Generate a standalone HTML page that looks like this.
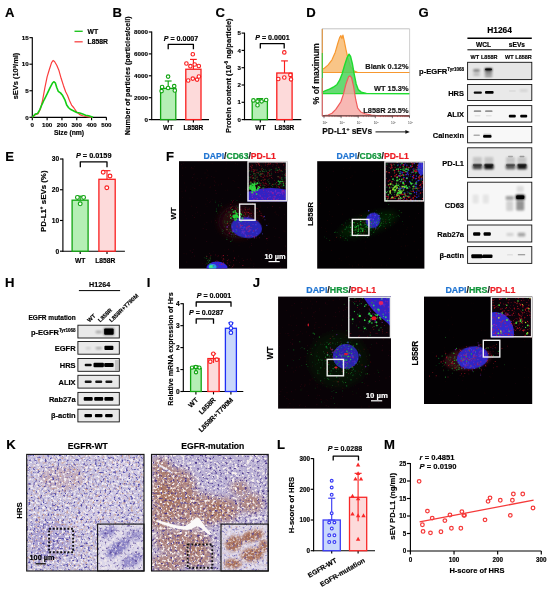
<!DOCTYPE html>
<html><head><meta charset="utf-8"><title>Figure</title>
<style>
html,body{margin:0;padding:0;background:#fff;}
svg{display:block;font-family:"Liberation Sans",sans-serif;}
text{stroke:#000;stroke-width:.16px;}
.ns,.ns tspan{stroke:none;}
</style></head><body>
<svg width="550" height="591" viewBox="0 0 550 591">
<defs>
<filter id="b0" x="-10%" y="-10%" width="120%" height="120%"><feGaussianBlur stdDeviation="0.3"/></filter>
<filter id="b1" x="-30%" y="-30%" width="160%" height="160%"><feGaussianBlur stdDeviation="0.6"/></filter>
<filter id="b2" x="-30%" y="-30%" width="160%" height="160%"><feGaussianBlur stdDeviation="1.6"/></filter>
<filter id="b3" x="-30%" y="-30%" width="160%" height="160%"><feGaussianBlur stdDeviation="3"/></filter>
<filter id="bb" x="-20%" y="-50%" width="140%" height="200%"><feGaussianBlur stdDeviation="0.55"/></filter>
<filter id="bb2" x="-20%" y="-50%" width="140%" height="200%"><feGaussianBlur stdDeviation="1.1"/></filter>
<filter id="sp1" x="0" y="0" width="100%" height="100%" color-interpolation-filters="sRGB">
 <feTurbulence type="fractalNoise" baseFrequency="0.42" numOctaves="2" seed="3" result="n"/>
 <feColorMatrix in="n" type="matrix" values="0 0 0 0 0.31  0 0 0 0 0.28  0 0 0 0 0.66  4.6 0 0 0 -2.62" result="dark"/>
 <feColorMatrix in="n" type="matrix" values="0 0 0 0 0.95  0 0 0 0 0.93  0 0 0 0 0.95  0 4.5 0 0 -2.15" result="light"/>
 <feColorMatrix in="n" type="matrix" values="0 0 0 0 0.80  0 0 0 0 0.60  0 0 0 0 0.50  0 0 3 0 -1.6" result="tan"/>
 <feMerge><feMergeNode in="tan"/><feMergeNode in="light"/><feMergeNode in="dark"/></feMerge>
</filter>
<filter id="sp2" x="0" y="0" width="100%" height="100%" color-interpolation-filters="sRGB">
 <feTurbulence type="fractalNoise" baseFrequency="0.4" numOctaves="2" seed="8" result="n"/>
 <feColorMatrix in="n" type="matrix" values="0 0 0 0 0.30  0 0 0 0 0.22  0 0 0 0 0.56  4.5 0 0 0 -2.55" result="dark"/>
 <feColorMatrix in="n" type="matrix" values="0 0 0 0 0.97  0 0 0 0 0.94  0 0 0 0 0.93  0 4.5 0 0 -2.2" result="light"/>
 <feMerge><feMergeNode in="light"/><feMergeNode in="dark"/></feMerge>
</filter>
<filter id="bk3" x="-30%" y="-30%" width="160%" height="160%"><feGaussianBlur stdDeviation="3"/></filter>
<filter id="bk" x="-30%" y="-30%" width="160%" height="160%"><feGaussianBlur stdDeviation="2.2"/></filter>
</defs>
<rect width="550" height="591" fill="#fff"/>

<g id="panelA">
<text x="5.1" y="16.9" font-size="13.1" text-anchor="start" font-weight="bold" fill="#000">A</text>
<line x1="32.30" y1="37.20" x2="32.30" y2="117.75" stroke="#000" stroke-width="1.15"/>
<line x1="31.85" y1="117.30" x2="106.40" y2="117.30" stroke="#000" stroke-width="1.15"/>
<line x1="29.40" y1="117.30" x2="32.30" y2="117.30" stroke="#000" stroke-width="1.15"/>
<text x="28.599999999999998" y="119.532" font-size="6.2" text-anchor="end" font-weight="bold" fill="#000">0</text>
<line x1="29.40" y1="90.75" x2="32.30" y2="90.75" stroke="#000" stroke-width="1.15"/>
<text x="28.599999999999998" y="92.982" font-size="6.2" text-anchor="end" font-weight="bold" fill="#000">5</text>
<line x1="29.40" y1="64.20" x2="32.30" y2="64.20" stroke="#000" stroke-width="1.15"/>
<text x="28.599999999999998" y="66.432" font-size="6.2" text-anchor="end" font-weight="bold" fill="#000">10</text>
<line x1="29.40" y1="37.65" x2="32.30" y2="37.65" stroke="#000" stroke-width="1.15"/>
<text x="28.599999999999998" y="39.882000000000005" font-size="6.2" text-anchor="end" font-weight="bold" fill="#000">15</text>
<line x1="32.30" y1="117.30" x2="32.30" y2="120.20" stroke="#000" stroke-width="1.15"/>
<text x="32.3" y="126.59" font-size="6.2" text-anchor="middle" font-weight="bold" fill="#000">0</text>
<line x1="47.12" y1="117.30" x2="47.12" y2="120.20" stroke="#000" stroke-width="1.15"/>
<text x="47.12" y="126.59" font-size="6.2" text-anchor="middle" font-weight="bold" fill="#000">100</text>
<line x1="61.94" y1="117.30" x2="61.94" y2="120.20" stroke="#000" stroke-width="1.15"/>
<text x="61.94" y="126.59" font-size="6.2" text-anchor="middle" font-weight="bold" fill="#000">200</text>
<line x1="76.76" y1="117.30" x2="76.76" y2="120.20" stroke="#000" stroke-width="1.15"/>
<text x="76.75999999999999" y="126.59" font-size="6.2" text-anchor="middle" font-weight="bold" fill="#000">300</text>
<line x1="91.58" y1="117.30" x2="91.58" y2="120.20" stroke="#000" stroke-width="1.15"/>
<text x="91.58" y="126.59" font-size="6.2" text-anchor="middle" font-weight="bold" fill="#000">400</text>
<line x1="106.40" y1="117.30" x2="106.40" y2="120.20" stroke="#000" stroke-width="1.15"/>
<text x="106.39999999999999" y="126.59" font-size="6.2" text-anchor="middle" font-weight="bold" fill="#000">500</text>
<polyline fill="none" stroke="#fb3c3c" stroke-width="1.2" stroke-linejoin="round" points="32.30,117.30 35.26,114.64 38.23,113.58 40.45,108.80 42.67,99.78 44.90,87.56 47.12,76.94 49.34,69.51 51.57,62.61 53.05,60.48 54.53,61.55 56.75,65.26 58.98,70.57 61.20,78.54 63.42,85.44 65.64,91.81 67.57,95.53 69.35,100.31 71.57,105.09 73.80,107.74 76.76,111.99 79.72,114.64 82.69,115.71 85.65,116.50 90.10,117.03 91.58,117.30"/>
<polyline fill="none" stroke="#14cc14" stroke-width="1.6" stroke-linejoin="round" points="32.30,117.30 35.26,114.11 37.49,113.58 39.71,109.87 41.93,104.56 44.16,99.78 47.12,93.94 50.08,87.56 52.31,83.32 53.79,81.72 55.27,82.78 56.75,87.56 58.23,91.28 60.46,92.87 62.68,95.53 64.90,99.78 66.68,105.09 68.61,107.74 70.83,109.60 73.80,110.93 76.76,112.52 79.72,113.05 82.69,114.11 85.65,115.18 88.62,115.71 91.58,116.77 93.06,117.30"/>
<text x="69" y="135.4" font-size="6.8" text-anchor="middle" font-weight="bold" fill="#000">Size (nm)</text>
<text x="18.4" y="76.0" font-size="7.45" font-weight="bold" text-anchor="middle" transform="rotate(-90 18.4 76.0)">sEVs (10<tspan font-size="4.4" dy="-2.6">9</tspan><tspan dy="2.6">/ml)</tspan></text>
<line x1="74.50" y1="31.30" x2="82.70" y2="31.30" stroke="#22c422" stroke-width="1.4"/>
<text x="87.5" y="33.7" font-size="6.8" text-anchor="start" font-weight="bold" fill="#000">WT</text>
<line x1="74.50" y1="41.80" x2="82.70" y2="41.80" stroke="#f85050" stroke-width="1.4"/>
<text x="87.5" y="44.2" font-size="6.8" text-anchor="start" font-weight="bold" fill="#000">L858R</text>
</g>
<g id="panelB">
<text x="112.4" y="16.8" font-size="13.1" text-anchor="start" font-weight="bold" fill="#000">B</text>
<line x1="151.70" y1="31.55" x2="151.70" y2="120.05" stroke="#000" stroke-width="1.15"/>
<line x1="151.25" y1="119.60" x2="209.00" y2="119.60" stroke="#000" stroke-width="1.15"/>
<line x1="148.80" y1="119.60" x2="151.70" y2="119.60" stroke="#000" stroke-width="1.15"/>
<text x="147.99999999999997" y="121.85" font-size="6.25" text-anchor="end" font-weight="bold" fill="#000">0</text>
<line x1="148.80" y1="97.70" x2="151.70" y2="97.70" stroke="#000" stroke-width="1.15"/>
<text x="147.99999999999997" y="99.94999999999999" font-size="6.25" text-anchor="end" font-weight="bold" fill="#000">2000</text>
<line x1="148.80" y1="75.80" x2="151.70" y2="75.80" stroke="#000" stroke-width="1.15"/>
<text x="147.99999999999997" y="78.05" font-size="6.25" text-anchor="end" font-weight="bold" fill="#000">4000</text>
<line x1="148.80" y1="53.90" x2="151.70" y2="53.90" stroke="#000" stroke-width="1.15"/>
<text x="147.99999999999997" y="56.150000000000006" font-size="6.25" text-anchor="end" font-weight="bold" fill="#000">6000</text>
<line x1="148.80" y1="32.00" x2="151.70" y2="32.00" stroke="#000" stroke-width="1.15"/>
<text x="147.99999999999997" y="34.25" font-size="6.25" text-anchor="end" font-weight="bold" fill="#000">8000</text>
<line x1="168.20" y1="119.60" x2="168.20" y2="122.50" stroke="#000" stroke-width="1.15"/>
<line x1="193.40" y1="119.60" x2="193.40" y2="122.50" stroke="#000" stroke-width="1.15"/>
<rect x="160.60" y="88.39" width="15.20" height="31.21" fill="#b5efb5" stroke="#12a512" stroke-width="1.3"/>
<rect x="185.80" y="69.23" width="15.20" height="50.37" fill="#fddada" stroke="#fa1e1e" stroke-width="1.3"/>
<line x1="168.20" y1="81.00" x2="168.20" y2="88.39" stroke="#12a512" stroke-width="1.15"/>
<line x1="164.80" y1="81.00" x2="171.60" y2="81.00" stroke="#12a512" stroke-width="1.15"/>
<line x1="193.40" y1="59.40" x2="193.40" y2="69.23" stroke="#fa1e1e" stroke-width="1.15"/>
<line x1="190.00" y1="59.40" x2="196.80" y2="59.40" stroke="#fa1e1e" stroke-width="1.15"/>
<circle cx="168.10" cy="76.60" r="1.75" fill="#fff" stroke="#12a512" stroke-width="1.15"/>
<circle cx="162.10" cy="87.00" r="1.75" fill="#fff" stroke="#12a512" stroke-width="1.15"/>
<circle cx="168.10" cy="88.00" r="1.75" fill="#fff" stroke="#12a512" stroke-width="1.15"/>
<circle cx="174.20" cy="86.10" r="1.75" fill="#fff" stroke="#12a512" stroke-width="1.15"/>
<circle cx="161.60" cy="91.10" r="1.75" fill="#fff" stroke="#12a512" stroke-width="1.15"/>
<circle cx="174.80" cy="90.50" r="1.75" fill="#fff" stroke="#12a512" stroke-width="1.15"/>
<circle cx="192.80" cy="54.20" r="1.75" fill="#fff" stroke="#fa1e1e" stroke-width="1.15"/>
<circle cx="186.40" cy="63.50" r="1.75" fill="#fff" stroke="#fa1e1e" stroke-width="1.15"/>
<circle cx="194.70" cy="64.50" r="1.75" fill="#fff" stroke="#fa1e1e" stroke-width="1.15"/>
<circle cx="190.40" cy="66.20" r="1.75" fill="#fff" stroke="#fa1e1e" stroke-width="1.15"/>
<circle cx="198.80" cy="66.00" r="1.75" fill="#fff" stroke="#fa1e1e" stroke-width="1.15"/>
<circle cx="188.20" cy="80.50" r="1.75" fill="#fff" stroke="#fa1e1e" stroke-width="1.15"/>
<circle cx="192.80" cy="78.60" r="1.75" fill="#fff" stroke="#fa1e1e" stroke-width="1.15"/>
<circle cx="197.10" cy="79.60" r="1.75" fill="#fff" stroke="#fa1e1e" stroke-width="1.15"/>
<circle cx="198.90" cy="76.50" r="1.75" fill="#fff" stroke="#fa1e1e" stroke-width="1.15"/>
<path d="M168.20 49.20 V44.40 H193.40 V49.20" fill="none" stroke="#000" stroke-width="1.3" stroke-linejoin="round"/>
<text x="181" y="41.0" font-size="7.1" text-anchor="middle" font-weight="bold"><tspan font-style="italic">P</tspan> = 0.0007</text>
<text x="168.2" y="130.0" font-size="6.6" text-anchor="middle" font-weight="bold" fill="#000">WT</text>
<text x="193.4" y="130.0" font-size="6.6" text-anchor="middle" font-weight="bold" fill="#000">L858R</text>
<text x="130.3" y="75.7" font-size="7.25" text-anchor="middle" font-weight="bold" fill="#000" transform="rotate(-90 130.3 75.7)">Number of particles (particles/cell)</text>
</g>
<g id="panelC">
<text x="215.4" y="16.8" font-size="13.1" text-anchor="start" font-weight="bold" fill="#000">C</text>
<line x1="244.50" y1="32.65" x2="244.50" y2="120.05" stroke="#000" stroke-width="1.15"/>
<line x1="244.05" y1="119.60" x2="301.30" y2="119.60" stroke="#000" stroke-width="1.15"/>
<line x1="241.60" y1="119.60" x2="244.50" y2="119.60" stroke="#000" stroke-width="1.15"/>
<text x="240.79999999999998" y="121.79599999999999" font-size="6.1" text-anchor="end" font-weight="bold" fill="#000">0</text>
<line x1="241.60" y1="102.30" x2="244.50" y2="102.30" stroke="#000" stroke-width="1.15"/>
<text x="240.79999999999998" y="104.496" font-size="6.1" text-anchor="end" font-weight="bold" fill="#000">1</text>
<line x1="241.60" y1="85.00" x2="244.50" y2="85.00" stroke="#000" stroke-width="1.15"/>
<text x="240.79999999999998" y="87.196" font-size="6.1" text-anchor="end" font-weight="bold" fill="#000">2</text>
<line x1="241.60" y1="67.70" x2="244.50" y2="67.70" stroke="#000" stroke-width="1.15"/>
<text x="240.79999999999998" y="69.89599999999999" font-size="6.1" text-anchor="end" font-weight="bold" fill="#000">3</text>
<line x1="241.60" y1="50.40" x2="244.50" y2="50.40" stroke="#000" stroke-width="1.15"/>
<text x="240.79999999999998" y="52.59599999999999" font-size="6.1" text-anchor="end" font-weight="bold" fill="#000">4</text>
<line x1="241.60" y1="33.10" x2="244.50" y2="33.10" stroke="#000" stroke-width="1.15"/>
<text x="240.79999999999998" y="35.29599999999999" font-size="6.1" text-anchor="end" font-weight="bold" fill="#000">5</text>
<line x1="260.30" y1="119.60" x2="260.30" y2="122.50" stroke="#000" stroke-width="1.15"/>
<line x1="284.50" y1="119.60" x2="284.50" y2="122.50" stroke="#000" stroke-width="1.15"/>
<rect x="252.20" y="101.20" width="15.20" height="18.40" fill="#b5efb5" stroke="#12a512" stroke-width="1.3"/>
<rect x="276.80" y="73.00" width="15.30" height="46.60" fill="#fddada" stroke="#fa1e1e" stroke-width="1.3"/>
<line x1="259.80" y1="98.60" x2="259.80" y2="101.20" stroke="#12a512" stroke-width="1.15"/>
<line x1="256.40" y1="98.60" x2="263.20" y2="98.60" stroke="#12a512" stroke-width="1.15"/>
<line x1="284.50" y1="60.90" x2="284.50" y2="73.00" stroke="#fa1e1e" stroke-width="1.15"/>
<line x1="281.10" y1="60.90" x2="287.90" y2="60.90" stroke="#fa1e1e" stroke-width="1.15"/>
<circle cx="253.40" cy="100.40" r="1.75" fill="#fff" stroke="#12a512" stroke-width="1.15"/>
<circle cx="257.50" cy="101.30" r="1.75" fill="#fff" stroke="#12a512" stroke-width="1.15"/>
<circle cx="261.60" cy="101.30" r="1.75" fill="#fff" stroke="#12a512" stroke-width="1.15"/>
<circle cx="266.20" cy="100.00" r="1.75" fill="#fff" stroke="#12a512" stroke-width="1.15"/>
<circle cx="257.50" cy="105.20" r="1.75" fill="#fff" stroke="#12a512" stroke-width="1.15"/>
<circle cx="284.30" cy="52.40" r="1.75" fill="#fff" stroke="#fa1e1e" stroke-width="1.15"/>
<circle cx="278.30" cy="79.00" r="1.75" fill="#fff" stroke="#fa1e1e" stroke-width="1.15"/>
<circle cx="284.30" cy="77.50" r="1.75" fill="#fff" stroke="#fa1e1e" stroke-width="1.15"/>
<circle cx="290.40" cy="74.90" r="1.75" fill="#fff" stroke="#fa1e1e" stroke-width="1.15"/>
<circle cx="291.00" cy="79.30" r="1.75" fill="#fff" stroke="#fa1e1e" stroke-width="1.15"/>
<path d="M260.30 48.50 V43.70 H284.20 V48.50" fill="none" stroke="#000" stroke-width="1.3" stroke-linejoin="round"/>
<text x="272.5" y="39.8" font-size="7.1" text-anchor="middle" font-weight="bold"><tspan font-style="italic">P</tspan> = 0.0001</text>
<text x="260.3" y="130.0" font-size="6.6" text-anchor="middle" font-weight="bold" fill="#000">WT</text>
<text x="284.5" y="130.0" font-size="6.6" text-anchor="middle" font-weight="bold" fill="#000">L858R</text>
<text x="230.6" y="75.7" font-size="7.5" font-weight="bold" text-anchor="middle" transform="rotate(-90 230.6 75.7)">Protein content (10<tspan font-size="4.6" dy="-2.7">-6</tspan><tspan dy="2.7"> ng/particle)</tspan></text>
</g>
<g id="panelD">
<text x="306.3" y="16.8" font-size="13.1" text-anchor="start" font-weight="bold" fill="#000">D</text>
<path d="M322.30 72.50 L322.32 69.21 L324.35 68.19 L328.17 64.89 L331.98 59.80 L335.29 52.16 L337.84 43.26 L339.62 37.66 L340.89 35.62 L341.91 38.68 L342.93 35.11 L344.20 40.71 L345.98 49.62 L348.02 58.52 L350.56 66.67 L353.61 70.74 L357.43 72.26 L409.59 72.52 L409.60 72.50 Z" fill="#f9c587" stroke="none" opacity="1.0"/>
<path d="M322.32 69.21 L324.35 68.19 L328.17 64.89 L331.98 59.80 L335.29 52.16 L337.84 43.26 L339.62 37.66 L340.89 35.62 L341.91 38.68 L342.93 35.11 L344.20 40.71 L345.98 49.62 L348.02 58.52 L350.56 66.67 L353.61 70.74 L357.43 72.26 L409.59 72.52" fill="none" stroke="#f7982f" stroke-width="1.2" stroke-linejoin="round"/>
<line x1="322.30" y1="72.50" x2="409.60" y2="72.50" stroke="#f7982f" stroke-width="1.2"/>
<path d="M322.30 93.60 L322.32 92.11 L325.62 90.59 L329.44 89.06 L333.26 87.28 L337.07 84.48 L339.62 80.15 L342.16 73.79 L344.71 64.89 L347.25 57.25 L349.03 54.20 L350.56 56.49 L352.34 63.61 L354.12 73.79 L356.16 83.97 L358.19 89.57 L361.25 92.11 L366.34 93.38 L409.59 93.64 L409.60 93.60 Z" fill="#4bd45a" stroke="none" opacity="0.85"/>
<path d="M322.32 92.11 L325.62 90.59 L329.44 89.06 L333.26 87.28 L337.07 84.48 L339.62 80.15 L342.16 73.79 L344.71 64.89 L347.25 57.25 L349.03 54.20 L350.56 56.49 L352.34 63.61 L354.12 73.79 L356.16 83.97 L358.19 89.57 L361.25 92.11 L366.34 93.38 L409.59 93.64" fill="none" stroke="#1fdc2f" stroke-width="1.45" stroke-linejoin="round"/>
<line x1="322.30" y1="93.60" x2="409.60" y2="93.60" stroke="#1fdc2f" stroke-width="1.45"/>
<path d="M322.30 115.80 L322.32 115.78 L328.17 115.01 L331.98 113.23 L335.80 109.41 L338.85 104.83 L340.89 101.78 L343.44 94.15 L345.98 83.97 L348.52 76.84 L350.05 75.83 L351.58 77.61 L353.61 86.51 L355.65 99.24 L357.68 108.14 L360.74 111.96 L365.06 113.74 L371.42 115.01 L379.06 115.78 L409.59 115.78 L409.60 115.80 Z" fill="#f6a8a4" stroke="none" opacity="0.82"/>
<path d="M322.32 115.78 L328.17 115.01 L331.98 113.23 L335.80 109.41 L338.85 104.83 L340.89 101.78 L343.44 94.15 L345.98 83.97 L348.52 76.84 L350.05 75.83 L351.58 77.61 L353.61 86.51 L355.65 99.24 L357.68 108.14 L360.74 111.96 L365.06 113.74 L371.42 115.01 L379.06 115.78 L409.59 115.78" fill="none" stroke="#f05c5c" stroke-width="1.2" stroke-linejoin="round"/>
<line x1="322.30" y1="115.80" x2="409.60" y2="115.80" stroke="#f05c5c" stroke-width="1.2"/>
<line x1="322.30" y1="28.80" x2="409.60" y2="28.80" stroke="#aaa" stroke-width="0.7"/>
<line x1="409.60" y1="28.80" x2="409.60" y2="115.80" stroke="#bbb" stroke-width="0.7"/>
<line x1="322.30" y1="28.80" x2="322.30" y2="116.20" stroke="#555" stroke-width="0.9"/>
<line x1="322.30" y1="115.80" x2="409.60" y2="115.80" stroke="#444" stroke-width="0.9"/>
<line x1="322.30" y1="29.00" x2="322.30" y2="72.50" stroke="#f5a347" stroke-width="1.0"/>
<line x1="322.30" y1="53.00" x2="322.30" y2="93.60" stroke="#2fcf3a" stroke-width="1.0"/>
<line x1="322.30" y1="78.00" x2="322.30" y2="115.80" stroke="#ee6a6a" stroke-width="1.0"/>
<text x="408.5" y="69.2" font-size="7.4" text-anchor="end" font-weight="bold" fill="#1a1a1a">Blank 0.12%</text>
<text x="408.5" y="91.4" font-size="7.4" text-anchor="end" font-weight="bold" fill="#1a1a1a">WT 15.3%</text>
<text x="408.5" y="112.6" font-size="7.4" text-anchor="end" font-weight="bold" fill="#1a1a1a">L858R 25.5%</text>
<text x="319.2" y="73.8" font-size="8.7" text-anchor="middle" font-weight="bold" fill="#111" transform="rotate(-90 319.2 73.8)">% of maximum</text>
<line x1="324.00" y1="115.80" x2="324.00" y2="118.20" stroke="#222" stroke-width="0.6"/>
<text x="322.5" y="123.8" class="ns" font-size="3.2" fill="#333" font-weight="normal">10<tspan font-size="2.3" dy="-1.3">2</tspan></text>
<line x1="329.15" y1="115.80" x2="329.15" y2="117.10" stroke="#444" stroke-width="0.35"/>
<line x1="332.16" y1="115.80" x2="332.16" y2="117.10" stroke="#444" stroke-width="0.35"/>
<line x1="334.30" y1="115.80" x2="334.30" y2="117.10" stroke="#444" stroke-width="0.35"/>
<line x1="335.95" y1="115.80" x2="335.95" y2="117.10" stroke="#444" stroke-width="0.35"/>
<line x1="337.31" y1="115.80" x2="337.31" y2="117.10" stroke="#444" stroke-width="0.35"/>
<line x1="338.45" y1="115.80" x2="338.45" y2="117.10" stroke="#444" stroke-width="0.35"/>
<line x1="339.44" y1="115.80" x2="339.44" y2="117.10" stroke="#444" stroke-width="0.35"/>
<line x1="340.32" y1="115.80" x2="340.32" y2="117.10" stroke="#444" stroke-width="0.35"/>
<line x1="341.10" y1="115.80" x2="341.10" y2="118.20" stroke="#222" stroke-width="0.6"/>
<text x="339.6" y="123.8" class="ns" font-size="3.2" fill="#333" font-weight="normal">10<tspan font-size="2.3" dy="-1.3">3</tspan></text>
<line x1="346.25" y1="115.80" x2="346.25" y2="117.10" stroke="#444" stroke-width="0.35"/>
<line x1="349.26" y1="115.80" x2="349.26" y2="117.10" stroke="#444" stroke-width="0.35"/>
<line x1="351.40" y1="115.80" x2="351.40" y2="117.10" stroke="#444" stroke-width="0.35"/>
<line x1="353.05" y1="115.80" x2="353.05" y2="117.10" stroke="#444" stroke-width="0.35"/>
<line x1="354.41" y1="115.80" x2="354.41" y2="117.10" stroke="#444" stroke-width="0.35"/>
<line x1="355.55" y1="115.80" x2="355.55" y2="117.10" stroke="#444" stroke-width="0.35"/>
<line x1="356.54" y1="115.80" x2="356.54" y2="117.10" stroke="#444" stroke-width="0.35"/>
<line x1="357.42" y1="115.80" x2="357.42" y2="117.10" stroke="#444" stroke-width="0.35"/>
<line x1="358.20" y1="115.80" x2="358.20" y2="118.20" stroke="#222" stroke-width="0.6"/>
<text x="356.7" y="123.8" class="ns" font-size="3.2" fill="#333" font-weight="normal">10<tspan font-size="2.3" dy="-1.3">4</tspan></text>
<line x1="363.35" y1="115.80" x2="363.35" y2="117.10" stroke="#444" stroke-width="0.35"/>
<line x1="366.36" y1="115.80" x2="366.36" y2="117.10" stroke="#444" stroke-width="0.35"/>
<line x1="368.50" y1="115.80" x2="368.50" y2="117.10" stroke="#444" stroke-width="0.35"/>
<line x1="370.15" y1="115.80" x2="370.15" y2="117.10" stroke="#444" stroke-width="0.35"/>
<line x1="371.51" y1="115.80" x2="371.51" y2="117.10" stroke="#444" stroke-width="0.35"/>
<line x1="372.65" y1="115.80" x2="372.65" y2="117.10" stroke="#444" stroke-width="0.35"/>
<line x1="373.64" y1="115.80" x2="373.64" y2="117.10" stroke="#444" stroke-width="0.35"/>
<line x1="374.52" y1="115.80" x2="374.52" y2="117.10" stroke="#444" stroke-width="0.35"/>
<line x1="375.30" y1="115.80" x2="375.30" y2="118.20" stroke="#222" stroke-width="0.6"/>
<text x="373.8" y="123.8" class="ns" font-size="3.2" fill="#333" font-weight="normal">10<tspan font-size="2.3" dy="-1.3">5</tspan></text>
<line x1="380.45" y1="115.80" x2="380.45" y2="117.10" stroke="#444" stroke-width="0.35"/>
<line x1="383.46" y1="115.80" x2="383.46" y2="117.10" stroke="#444" stroke-width="0.35"/>
<line x1="385.60" y1="115.80" x2="385.60" y2="117.10" stroke="#444" stroke-width="0.35"/>
<line x1="387.25" y1="115.80" x2="387.25" y2="117.10" stroke="#444" stroke-width="0.35"/>
<line x1="388.61" y1="115.80" x2="388.61" y2="117.10" stroke="#444" stroke-width="0.35"/>
<line x1="389.75" y1="115.80" x2="389.75" y2="117.10" stroke="#444" stroke-width="0.35"/>
<line x1="390.74" y1="115.80" x2="390.74" y2="117.10" stroke="#444" stroke-width="0.35"/>
<line x1="391.62" y1="115.80" x2="391.62" y2="117.10" stroke="#444" stroke-width="0.35"/>
<line x1="392.40" y1="115.80" x2="392.40" y2="118.20" stroke="#222" stroke-width="0.6"/>
<text x="390.9" y="123.8" class="ns" font-size="3.2" fill="#333" font-weight="normal">10<tspan font-size="2.3" dy="-1.3">6</tspan></text>
<line x1="397.55" y1="115.80" x2="397.55" y2="117.10" stroke="#444" stroke-width="0.35"/>
<line x1="400.56" y1="115.80" x2="400.56" y2="117.10" stroke="#444" stroke-width="0.35"/>
<line x1="402.70" y1="115.80" x2="402.70" y2="117.10" stroke="#444" stroke-width="0.35"/>
<line x1="404.35" y1="115.80" x2="404.35" y2="117.10" stroke="#444" stroke-width="0.35"/>
<line x1="405.71" y1="115.80" x2="405.71" y2="117.10" stroke="#444" stroke-width="0.35"/>
<line x1="406.85" y1="115.80" x2="406.85" y2="117.10" stroke="#444" stroke-width="0.35"/>
<line x1="407.84" y1="115.80" x2="407.84" y2="117.10" stroke="#444" stroke-width="0.35"/>
<line x1="408.72" y1="115.80" x2="408.72" y2="117.10" stroke="#444" stroke-width="0.35"/>
<line x1="409.50" y1="115.80" x2="409.50" y2="118.20" stroke="#222" stroke-width="0.6"/>
<text x="408.0" y="123.8" class="ns" font-size="3.2" fill="#333" font-weight="normal">10<tspan font-size="2.3" dy="-1.3">7</tspan></text>
<text x="322.3" y="134.3" font-size="8.35" font-weight="bold" fill="#111">PD-L1<tspan font-size="5" dy="-3.2">+</tspan><tspan dy="3.2"> sEVs</tspan></text>
<line x1="375.50" y1="131.90" x2="407.00" y2="131.90" stroke="#111" stroke-width="1.0"/>
<path d="M409.8 131.9 L405.4 130 L405.4 133.8 Z" fill="#111"/>
</g>
<g id="panelG">
<text x="418.6" y="16.8" font-size="13.1" text-anchor="start" font-weight="bold" fill="#000">G</text>
<text x="499.6" y="32.8" font-size="8.4" text-anchor="middle" font-weight="bold" fill="#000">H1264</text>
<line x1="467.40" y1="38.20" x2="531.80" y2="38.20" stroke="#000" stroke-width="1.5"/>
<text x="483.5" y="47.0" font-size="6.6" text-anchor="middle" font-weight="bold" fill="#000">WCL</text>
<text x="516.9" y="47.0" font-size="6.6" text-anchor="middle" font-weight="bold" fill="#000">sEVs</text>
<line x1="467.40" y1="49.80" x2="531.80" y2="49.80" stroke="#000" stroke-width="1.0"/>
<text x="470.6" y="58.5" font-size="5.5" text-anchor="start" font-weight="bold" fill="#000">WT</text>
<text x="481.0" y="58.5" font-size="5.5" text-anchor="start" font-weight="bold" fill="#000">L858R</text>
<text x="505" y="58.5" font-size="5.5" text-anchor="start" font-weight="bold" fill="#000">WT</text>
<text x="515.3" y="58.5" font-size="5.5" text-anchor="start" font-weight="bold" fill="#000">L858R</text>
<rect x="467.60" y="62.30" width="64.20" height="17.30" fill="#e6e6e6" stroke="#111" stroke-width="0.9"/>
<rect x="473.25" y="69.20" width="6.50" height="2.60" rx="1.00" fill="#000" opacity="0.5" filter="url(#bb2)"/>
<rect x="473.25" y="73.00" width="6.50" height="3.00" rx="1.00" fill="#000" opacity="0.18" filter="url(#bb2)"/>
<rect x="484.75" y="68.20" width="7.50" height="2.80" rx="1.00" fill="#000" opacity="1.0" filter="url(#bb2)"/>
<rect x="485.00" y="68.60" width="7.00" height="1.60" rx="0.80" fill="#000" opacity="0.8" filter="url(#bb)"/>
<rect x="484.75" y="71.40" width="7.50" height="2.40" rx="1.00" fill="#000" opacity="0.55" filter="url(#bb2)"/>
<rect x="484.75" y="74.60" width="7.50" height="2.40" rx="1.00" fill="#000" opacity="0.4" filter="url(#bb2)"/>
<text x="464" y="73.6" font-size="7.6" font-weight="bold" text-anchor="end">p-EGFR<tspan font-size="4.5" dy="-2.8">Tyr1068</tspan></text>
<rect x="467.60" y="84.50" width="64.20" height="16.00" fill="#e9e9e9" stroke="#111" stroke-width="0.9"/>
<rect x="473.70" y="91.40" width="8.20" height="2.40" rx="1.00" fill="#000" opacity="0.95" filter="url(#bb)"/>
<rect x="485.00" y="90.90" width="8.60" height="2.80" rx="1.00" fill="#000" opacity="1.0" filter="url(#bb)"/>
<rect x="508.80" y="90.20" width="7.00" height="1.60" rx="0.80" fill="#000" opacity="0.06" filter="url(#bb)"/>
<rect x="519.70" y="89.40" width="8.00" height="2.20" rx="1.00" fill="#000" opacity="0.12" filter="url(#bb2)"/>
<text x="464" y="95.6" font-size="7.5" text-anchor="end" font-weight="bold" fill="#000">HRS</text>
<rect x="467.60" y="105.60" width="64.20" height="16.50" fill="#f7f7f7" stroke="#111" stroke-width="0.9"/>
<rect x="473.75" y="110.30" width="7.50" height="1.80" rx="0.90" fill="#000" opacity="0.4" filter="url(#bb)"/>
<rect x="485.05" y="110.30" width="7.50" height="1.80" rx="0.90" fill="#000" opacity="0.4" filter="url(#bb)"/>
<rect x="474.50" y="115.05" width="6.00" height="1.50" rx="0.75" fill="#000" opacity="0.08" filter="url(#bb)"/>
<rect x="485.80" y="115.05" width="6.00" height="1.50" rx="0.75" fill="#000" opacity="0.08" filter="url(#bb)"/>
<rect x="508.80" y="114.80" width="7.00" height="2.80" rx="1.00" fill="#000" opacity="1.0" filter="url(#bb)"/>
<rect x="520.20" y="114.80" width="7.00" height="2.80" rx="1.00" fill="#000" opacity="1.0" filter="url(#bb)"/>
<text x="464" y="116.6" font-size="7.5" text-anchor="end" font-weight="bold" fill="#000">ALIX</text>
<rect x="467.60" y="126.50" width="64.20" height="16.30" fill="#f8f8f8" stroke="#111" stroke-width="0.9"/>
<rect x="473.45" y="134.60" width="6.50" height="1.40" rx="0.70" fill="#000" opacity="0.3" filter="url(#bb)"/>
<rect x="483.05" y="135.10" width="8.50" height="2.60" rx="1.00" fill="#000" opacity="1.0" filter="url(#bb)"/>
<rect x="483.30" y="133.70" width="8.00" height="1.00" rx="0.50" fill="#000" opacity="0.3" filter="url(#bb)"/>
<text x="464" y="138.1" font-size="7.5" text-anchor="end" font-weight="bold" fill="#000">Calnexin</text>
<rect x="467.60" y="147.80" width="64.20" height="29.80" fill="#e9e9e9" stroke="#111" stroke-width="0.9"/>
<rect x="472.65" y="164.30" width="9.50" height="5.00" rx="1.00" fill="#000" opacity="0.7" filter="url(#bb2)"/>
<rect x="472.90" y="163.75" width="9.00" height="2.50" rx="1.00" fill="#000" opacity="0.42" filter="url(#bb)"/>
<rect x="472.90" y="157.00" width="9.00" height="6.00" rx="1.00" fill="#000" opacity="0.15" filter="url(#bb2)"/>
<rect x="484.15" y="164.30" width="9.50" height="5.00" rx="1.00" fill="#000" opacity="0.92" filter="url(#bb2)"/>
<rect x="484.40" y="163.75" width="9.00" height="2.50" rx="1.00" fill="#000" opacity="0.552" filter="url(#bb)"/>
<rect x="484.40" y="157.00" width="9.00" height="6.00" rx="1.00" fill="#000" opacity="0.15" filter="url(#bb2)"/>
<rect x="505.75" y="164.30" width="9.50" height="5.00" rx="1.00" fill="#000" opacity="0.6" filter="url(#bb2)"/>
<rect x="506.00" y="163.75" width="9.00" height="2.50" rx="1.00" fill="#000" opacity="0.36" filter="url(#bb)"/>
<rect x="506.00" y="157.00" width="9.00" height="6.00" rx="1.00" fill="#000" opacity="0.15" filter="url(#bb2)"/>
<rect x="517.25" y="164.30" width="9.50" height="5.00" rx="1.00" fill="#000" opacity="0.9" filter="url(#bb2)"/>
<rect x="517.50" y="163.75" width="9.00" height="2.50" rx="1.00" fill="#000" opacity="0.54" filter="url(#bb)"/>
<rect x="517.50" y="157.00" width="9.00" height="6.00" rx="1.00" fill="#000" opacity="0.15" filter="url(#bb2)"/>
<rect x="508.00" y="155.85" width="5.00" height="1.30" rx="0.65" fill="#000" opacity="0.25" filter="url(#bb)"/>
<rect x="519.50" y="155.85" width="5.00" height="1.30" rx="0.65" fill="#000" opacity="0.3" filter="url(#bb)"/>
<text x="464" y="166.3" font-size="7.5" text-anchor="end" font-weight="bold" fill="#000">PD-L1</text>
<rect x="467.60" y="182.20" width="64.20" height="38.00" fill="#f7f7f7" stroke="#111" stroke-width="0.9"/>
<rect x="472.60" y="194.50" width="6.00" height="9.00" rx="1.00" fill="#000" opacity="0.07" filter="url(#bb2)"/>
<rect x="482.80" y="194.50" width="6.00" height="9.00" rx="1.00" fill="#000" opacity="0.07" filter="url(#bb2)"/>
<rect x="505.70" y="196.00" width="8.00" height="4.00" rx="1.00" fill="#000" opacity="0.35" filter="url(#bb2)"/>
<rect x="506.20" y="201.00" width="7.00" height="10.00" rx="1.00" fill="#000" opacity="0.15" filter="url(#bb2)"/>
<rect x="515.70" y="194.70" width="9.00" height="5.00" rx="1.00" fill="#000" opacity="1.0" filter="url(#bb2)"/>
<rect x="516.20" y="195.50" width="8.00" height="3.40" rx="1.00" fill="#000" opacity="1.0" filter="url(#bb)"/>
<rect x="516.20" y="200.50" width="8.00" height="10.00" rx="1.00" fill="#000" opacity="0.4" filter="url(#bb2)"/>
<rect x="516.70" y="186.00" width="7.00" height="6.00" rx="1.00" fill="#000" opacity="0.1" filter="url(#bb2)"/>
<text x="464" y="207.8" font-size="7.5" text-anchor="end" font-weight="bold" fill="#000">CD63</text>
<rect x="467.60" y="225.00" width="64.20" height="17.00" fill="#f3f3f3" stroke="#111" stroke-width="0.9"/>
<rect x="473.10" y="232.20" width="7.20" height="3.60" rx="1.00" fill="#000" opacity="1.0" filter="url(#bb)"/>
<rect x="483.60" y="232.20" width="7.20" height="3.60" rx="1.00" fill="#000" opacity="1.0" filter="url(#bb)"/>
<rect x="506.50" y="233.10" width="7.00" height="3.00" rx="1.00" fill="#000" opacity="0.14" filter="url(#bb2)"/>
<rect x="517.75" y="232.80" width="7.50" height="3.60" rx="1.00" fill="#000" opacity="0.33" filter="url(#bb2)"/>
<text x="464" y="236.9" font-size="7.5" text-anchor="end" font-weight="bold" fill="#000">Rab27a</text>
<rect x="467.60" y="246.60" width="64.20" height="16.80" fill="#f3f3f3" stroke="#111" stroke-width="0.9"/>
<rect x="471.30" y="254.30" width="11.00" height="4.00" rx="1.00" fill="#000" opacity="1.0" filter="url(#bb)"/>
<rect x="482.50" y="254.50" width="10.00" height="3.60" rx="1.00" fill="#000" opacity="1.0" filter="url(#bb)"/>
<rect x="479.00" y="255.70" width="6.00" height="2.40" rx="1.00" fill="#000" opacity="0.95" filter="url(#bb)"/>
<rect x="507.00" y="254.45" width="6.00" height="0.90" rx="0.45" fill="#000" opacity="0.15" filter="url(#bb)"/>
<rect x="517.75" y="254.15" width="7.50" height="1.10" rx="0.55" fill="#000" opacity="0.45" filter="url(#bb)"/>
<text x="464" y="257.9" font-size="7.5" text-anchor="end" font-weight="bold" fill="#000">β-actin</text>
</g>
<g id="panelE">
<text x="5.2" y="160.7" font-size="13.1" text-anchor="start" font-weight="bold" fill="#000">E</text>
<line x1="62.90" y1="158.56" x2="62.90" y2="251.65" stroke="#000" stroke-width="1.15"/>
<line x1="62.45" y1="251.20" x2="124.90" y2="251.20" stroke="#000" stroke-width="1.15"/>
<line x1="60.00" y1="251.20" x2="62.90" y2="251.20" stroke="#000" stroke-width="1.15"/>
<text x="59.2" y="253.576" font-size="6.6" text-anchor="end" font-weight="bold" fill="#000">0</text>
<line x1="60.00" y1="220.47" x2="62.90" y2="220.47" stroke="#000" stroke-width="1.15"/>
<text x="59.2" y="222.846" font-size="6.6" text-anchor="end" font-weight="bold" fill="#000">10</text>
<line x1="60.00" y1="189.74" x2="62.90" y2="189.74" stroke="#000" stroke-width="1.15"/>
<text x="59.2" y="192.11599999999999" font-size="6.6" text-anchor="end" font-weight="bold" fill="#000">20</text>
<line x1="60.00" y1="159.01" x2="62.90" y2="159.01" stroke="#000" stroke-width="1.15"/>
<text x="59.2" y="161.386" font-size="6.6" text-anchor="end" font-weight="bold" fill="#000">30</text>
<line x1="80.20" y1="251.20" x2="80.20" y2="254.10" stroke="#000" stroke-width="1.15"/>
<line x1="107.00" y1="251.20" x2="107.00" y2="254.10" stroke="#000" stroke-width="1.15"/>
<rect x="72.10" y="200.19" width="16.00" height="51.01" fill="#b5efb5" stroke="#12a512" stroke-width="1.3"/>
<rect x="98.90" y="179.29" width="16.30" height="71.91" fill="#fddada" stroke="#fa1e1e" stroke-width="1.3"/>
<line x1="80.20" y1="196.19" x2="80.20" y2="200.19" stroke="#12a512" stroke-width="1.15"/>
<line x1="76.80" y1="196.19" x2="83.60" y2="196.19" stroke="#12a512" stroke-width="1.15"/>
<line x1="107.00" y1="170.69" x2="107.00" y2="179.29" stroke="#fa1e1e" stroke-width="1.15"/>
<line x1="103.60" y1="170.69" x2="110.40" y2="170.69" stroke="#fa1e1e" stroke-width="1.15"/>
<circle cx="77.40" cy="197.40" r="1.9" fill="#fff" stroke="#12a512" stroke-width="1.15"/>
<circle cx="83.60" cy="197.40" r="1.9" fill="#fff" stroke="#12a512" stroke-width="1.15"/>
<circle cx="80.20" cy="203.80" r="1.9" fill="#fff" stroke="#12a512" stroke-width="1.15"/>
<circle cx="103.20" cy="172.20" r="1.9" fill="#fff" stroke="#fa1e1e" stroke-width="1.15"/>
<circle cx="110.00" cy="176.00" r="1.9" fill="#fff" stroke="#fa1e1e" stroke-width="1.15"/>
<circle cx="106.80" cy="187.70" r="1.9" fill="#fff" stroke="#fa1e1e" stroke-width="1.15"/>
<path d="M80.30 167.20 V161.80 H107.00 V167.20" fill="none" stroke="#000" stroke-width="1.3" stroke-linejoin="round"/>
<text x="93.7" y="157.9" font-size="7.3" text-anchor="middle" font-weight="bold"><tspan font-style="italic">P</tspan> = 0.0159</text>
<text x="80.2" y="263.0" font-size="6.7" text-anchor="middle" font-weight="bold" fill="#000">WT</text>
<text x="105.2" y="263.0" font-size="6.7" text-anchor="middle" font-weight="bold" fill="#000">L858R</text>
<text x="45.6" y="201.2" font-size="7.9" font-weight="bold" text-anchor="middle" transform="rotate(-90 45.6 201.2)">PD-L1<tspan font-size="4.6" dy="-2.8">+</tspan><tspan dy="2.8"> sEVs (%)</tspan></text>
</g>
<g id="panelF">
<text x="165.9" y="160.7" font-size="13.1" text-anchor="start" font-weight="bold" fill="#000">F</text>
<text x="239.6" y="158.9" font-size="8.6" font-weight="bold" text-anchor="middle"><tspan fill="#1f74d2" style="stroke:#1f74d2;stroke-width:.22px">DAPI</tspan><tspan fill="#111" style="stroke:#111;stroke-width:.22px">/</tspan><tspan fill="#12963c" style="stroke:#12963c;stroke-width:.22px">CD63</tspan><tspan fill="#111" style="stroke:#111;stroke-width:.22px">/</tspan><tspan fill="#ee1c24" style="stroke:#ee1c24;stroke-width:.22px">PD-L1</tspan></text>
<rect x="179.0" y="161.2" width="108.10000000000002" height="107.40000000000003" fill="#070206"/>
<clipPath id="cp1"><rect x="179.0" y="161.2" width="108.10000000000002" height="107.40000000000003"/></clipPath><g clip-path="url(#cp1)">
<g filter="url(#b0)">
<g fill="#b01030" opacity="0.32"><circle cx="214.0" cy="177.4" r="0.41"/><circle cx="186.8" cy="218.8" r="0.34"/><circle cx="185.3" cy="215.7" r="0.26"/><circle cx="225.9" cy="168.7" r="0.27"/><circle cx="224.9" cy="250.0" r="0.28"/><circle cx="203.1" cy="228.6" r="0.49"/><circle cx="241.4" cy="203.8" r="0.49"/><circle cx="184.0" cy="253.4" r="0.32"/><circle cx="194.6" cy="173.9" r="0.33"/><circle cx="267.2" cy="180.6" r="0.40"/><circle cx="248.1" cy="201.2" r="0.39"/><circle cx="185.8" cy="167.6" r="0.30"/><circle cx="252.6" cy="207.1" r="0.33"/><circle cx="242.3" cy="209.9" r="0.32"/><circle cx="264.9" cy="236.3" r="0.31"/><circle cx="241.1" cy="217.6" r="0.47"/><circle cx="257.9" cy="192.1" r="0.50"/><circle cx="191.8" cy="206.1" r="0.44"/><circle cx="195.4" cy="213.7" r="0.26"/><circle cx="251.2" cy="243.3" r="0.39"/><circle cx="273.6" cy="194.9" r="0.42"/><circle cx="243.3" cy="223.5" r="0.36"/><circle cx="269.8" cy="262.7" r="0.37"/><circle cx="250.8" cy="167.7" r="0.43"/><circle cx="249.0" cy="267.9" r="0.46"/><circle cx="209.8" cy="202.6" r="0.42"/><circle cx="181.4" cy="210.8" r="0.29"/><circle cx="191.7" cy="167.5" r="0.44"/><circle cx="193.0" cy="187.8" r="0.35"/><circle cx="273.2" cy="169.9" r="0.36"/><circle cx="238.4" cy="256.1" r="0.45"/><circle cx="272.4" cy="191.1" r="0.35"/><circle cx="217.8" cy="256.2" r="0.49"/><circle cx="195.3" cy="180.1" r="0.31"/><circle cx="204.2" cy="213.3" r="0.40"/><circle cx="207.4" cy="161.6" r="0.35"/><circle cx="218.9" cy="222.0" r="0.49"/><circle cx="253.6" cy="216.6" r="0.40"/><circle cx="252.1" cy="167.0" r="0.47"/><circle cx="263.3" cy="255.1" r="0.45"/><circle cx="221.4" cy="204.1" r="0.28"/><circle cx="247.6" cy="167.9" r="0.27"/><circle cx="201.6" cy="178.6" r="0.34"/><circle cx="184.7" cy="161.2" r="0.29"/><circle cx="190.0" cy="200.3" r="0.26"/><circle cx="273.5" cy="227.2" r="0.29"/><circle cx="206.3" cy="198.5" r="0.34"/><circle cx="192.3" cy="252.4" r="0.50"/><circle cx="229.4" cy="213.2" r="0.27"/><circle cx="190.0" cy="198.0" r="0.32"/><circle cx="268.6" cy="178.5" r="0.26"/><circle cx="281.8" cy="217.9" r="0.29"/><circle cx="237.7" cy="164.1" r="0.38"/><circle cx="284.8" cy="253.9" r="0.42"/><circle cx="207.2" cy="200.6" r="0.29"/><circle cx="262.4" cy="218.4" r="0.44"/><circle cx="214.6" cy="185.2" r="0.45"/><circle cx="285.5" cy="252.8" r="0.45"/><circle cx="267.5" cy="240.7" r="0.31"/><circle cx="235.0" cy="199.4" r="0.26"/><circle cx="182.0" cy="191.2" r="0.31"/><circle cx="253.9" cy="263.9" r="0.36"/><circle cx="280.3" cy="267.3" r="0.49"/><circle cx="218.4" cy="184.9" r="0.31"/><circle cx="200.3" cy="183.1" r="0.41"/><circle cx="276.3" cy="251.5" r="0.37"/><circle cx="249.6" cy="247.1" r="0.27"/><circle cx="250.4" cy="258.9" r="0.45"/><circle cx="260.1" cy="212.5" r="0.29"/><circle cx="264.3" cy="196.9" r="0.45"/><circle cx="284.0" cy="203.7" r="0.35"/><circle cx="281.3" cy="239.0" r="0.29"/><circle cx="192.7" cy="177.4" r="0.48"/><circle cx="266.2" cy="176.9" r="0.46"/><circle cx="285.0" cy="231.8" r="0.34"/><circle cx="238.3" cy="175.3" r="0.25"/><circle cx="284.0" cy="231.0" r="0.38"/><circle cx="279.9" cy="207.8" r="0.47"/><circle cx="268.3" cy="183.9" r="0.31"/><circle cx="210.7" cy="187.0" r="0.40"/><circle cx="207.0" cy="206.2" r="0.28"/><circle cx="277.4" cy="199.2" r="0.36"/><circle cx="242.1" cy="258.3" r="0.36"/><circle cx="278.2" cy="215.1" r="0.38"/><circle cx="235.6" cy="163.2" r="0.36"/><circle cx="198.8" cy="161.6" r="0.45"/><circle cx="197.6" cy="212.1" r="0.43"/><circle cx="239.2" cy="196.2" r="0.38"/><circle cx="239.0" cy="245.4" r="0.28"/><circle cx="239.6" cy="187.9" r="0.32"/><circle cx="262.5" cy="215.7" r="0.39"/><circle cx="261.2" cy="259.2" r="0.36"/><circle cx="245.2" cy="215.5" r="0.38"/><circle cx="253.9" cy="209.8" r="0.38"/><circle cx="230.7" cy="262.3" r="0.42"/><circle cx="273.8" cy="262.4" r="0.31"/><circle cx="239.5" cy="262.5" r="0.46"/><circle cx="193.8" cy="174.3" r="0.36"/><circle cx="186.8" cy="187.0" r="0.27"/><circle cx="251.4" cy="245.4" r="0.47"/><circle cx="195.7" cy="238.1" r="0.42"/><circle cx="194.5" cy="256.0" r="0.49"/><circle cx="202.7" cy="263.5" r="0.35"/><circle cx="231.7" cy="267.5" r="0.46"/><circle cx="196.5" cy="207.5" r="0.38"/><circle cx="215.7" cy="182.2" r="0.33"/><circle cx="257.1" cy="163.3" r="0.39"/><circle cx="226.6" cy="163.1" r="0.33"/><circle cx="246.4" cy="216.2" r="0.27"/><circle cx="285.5" cy="245.9" r="0.49"/><circle cx="190.3" cy="189.7" r="0.26"/><circle cx="263.2" cy="190.2" r="0.28"/><circle cx="224.6" cy="259.1" r="0.45"/><circle cx="207.0" cy="177.2" r="0.48"/><circle cx="240.7" cy="236.4" r="0.27"/><circle cx="185.2" cy="235.1" r="0.36"/><circle cx="186.8" cy="262.0" r="0.41"/><circle cx="265.7" cy="170.2" r="0.46"/><circle cx="186.2" cy="253.9" r="0.36"/><circle cx="215.7" cy="220.6" r="0.48"/><circle cx="208.0" cy="175.1" r="0.38"/><circle cx="204.8" cy="173.0" r="0.29"/><circle cx="184.4" cy="182.9" r="0.33"/><circle cx="212.0" cy="242.8" r="0.32"/><circle cx="233.1" cy="180.3" r="0.34"/><circle cx="181.0" cy="188.1" r="0.25"/><circle cx="258.2" cy="220.4" r="0.30"/><circle cx="230.3" cy="261.6" r="0.28"/><circle cx="267.5" cy="207.6" r="0.37"/><circle cx="269.2" cy="203.4" r="0.38"/><circle cx="253.3" cy="266.7" r="0.34"/><circle cx="269.0" cy="237.1" r="0.41"/><circle cx="222.7" cy="198.5" r="0.26"/><circle cx="193.0" cy="168.8" r="0.44"/><circle cx="206.6" cy="178.7" r="0.27"/><circle cx="269.9" cy="254.7" r="0.42"/><circle cx="209.5" cy="187.2" r="0.32"/><circle cx="228.7" cy="178.1" r="0.36"/><circle cx="207.5" cy="264.5" r="0.49"/><circle cx="238.1" cy="187.5" r="0.49"/><circle cx="212.5" cy="199.5" r="0.25"/><circle cx="220.3" cy="212.2" r="0.38"/><circle cx="200.7" cy="215.4" r="0.25"/><circle cx="207.6" cy="170.8" r="0.35"/><circle cx="183.5" cy="163.6" r="0.33"/><circle cx="204.2" cy="224.1" r="0.38"/><circle cx="260.1" cy="231.8" r="0.43"/><circle cx="274.0" cy="203.0" r="0.33"/><circle cx="285.4" cy="177.3" r="0.43"/><circle cx="248.5" cy="165.9" r="0.46"/><circle cx="275.4" cy="228.6" r="0.43"/><circle cx="266.8" cy="176.2" r="0.38"/><circle cx="233.5" cy="250.9" r="0.45"/><circle cx="268.3" cy="223.9" r="0.47"/><circle cx="252.8" cy="235.7" r="0.31"/><circle cx="182.4" cy="175.5" r="0.34"/><circle cx="190.3" cy="251.0" r="0.39"/><circle cx="246.9" cy="228.5" r="0.42"/><circle cx="231.9" cy="161.6" r="0.45"/><circle cx="259.9" cy="215.2" r="0.38"/><circle cx="250.3" cy="168.3" r="0.43"/><circle cx="206.3" cy="169.2" r="0.32"/><circle cx="257.8" cy="183.2" r="0.43"/><circle cx="284.5" cy="214.3" r="0.35"/><circle cx="230.8" cy="234.6" r="0.44"/><circle cx="245.7" cy="230.2" r="0.27"/><circle cx="194.9" cy="188.5" r="0.44"/><circle cx="211.9" cy="222.2" r="0.25"/><circle cx="185.6" cy="190.1" r="0.42"/><circle cx="253.8" cy="233.8" r="0.32"/><circle cx="234.8" cy="211.1" r="0.37"/><circle cx="191.8" cy="257.2" r="0.30"/><circle cx="284.7" cy="261.8" r="0.25"/><circle cx="228.6" cy="249.3" r="0.49"/><circle cx="227.6" cy="190.1" r="0.30"/><circle cx="281.2" cy="183.8" r="0.40"/><circle cx="194.3" cy="217.5" r="0.49"/><circle cx="193.3" cy="249.3" r="0.38"/><circle cx="274.9" cy="236.7" r="0.31"/><circle cx="276.0" cy="213.4" r="0.26"/><circle cx="179.4" cy="214.0" r="0.36"/><circle cx="211.6" cy="176.3" r="0.34"/><circle cx="213.2" cy="251.4" r="0.25"/><circle cx="260.2" cy="251.3" r="0.28"/><circle cx="279.1" cy="237.8" r="0.48"/><circle cx="210.3" cy="201.2" r="0.35"/><circle cx="287.0" cy="224.5" r="0.34"/><circle cx="225.3" cy="190.8" r="0.26"/><circle cx="190.0" cy="250.8" r="0.32"/><circle cx="280.1" cy="188.0" r="0.32"/><circle cx="234.2" cy="181.6" r="0.34"/><circle cx="282.4" cy="256.2" r="0.45"/><circle cx="247.2" cy="259.3" r="0.49"/><circle cx="238.4" cy="238.5" r="0.26"/><circle cx="258.2" cy="209.6" r="0.44"/><circle cx="248.7" cy="191.9" r="0.26"/><circle cx="279.2" cy="174.9" r="0.37"/><circle cx="216.1" cy="193.2" r="0.43"/><circle cx="284.5" cy="189.1" r="0.41"/><circle cx="211.5" cy="221.1" r="0.35"/><circle cx="197.1" cy="178.6" r="0.30"/><circle cx="276.9" cy="214.6" r="0.31"/><circle cx="277.0" cy="268.2" r="0.36"/><circle cx="194.1" cy="181.9" r="0.27"/><circle cx="216.0" cy="171.0" r="0.31"/><circle cx="206.9" cy="222.4" r="0.47"/><circle cx="260.0" cy="205.5" r="0.35"/><circle cx="235.7" cy="201.7" r="0.33"/><circle cx="185.7" cy="191.0" r="0.49"/><circle cx="192.6" cy="215.3" r="0.41"/><circle cx="272.3" cy="184.4" r="0.32"/><circle cx="205.9" cy="204.1" r="0.36"/><circle cx="282.1" cy="252.3" r="0.47"/><circle cx="181.4" cy="164.7" r="0.43"/><circle cx="275.8" cy="212.0" r="0.40"/><circle cx="179.0" cy="203.2" r="0.48"/><circle cx="268.2" cy="253.1" r="0.49"/><circle cx="205.9" cy="172.9" r="0.29"/><circle cx="235.5" cy="234.5" r="0.49"/><circle cx="257.0" cy="230.7" r="0.44"/><circle cx="228.4" cy="220.4" r="0.26"/><circle cx="263.6" cy="186.2" r="0.48"/><circle cx="248.8" cy="193.8" r="0.28"/><circle cx="206.2" cy="229.5" r="0.42"/><circle cx="191.1" cy="168.8" r="0.38"/><circle cx="242.0" cy="202.9" r="0.31"/><circle cx="244.0" cy="162.3" r="0.33"/><circle cx="228.8" cy="264.2" r="0.41"/><circle cx="274.5" cy="212.2" r="0.31"/><circle cx="205.7" cy="264.4" r="0.43"/><circle cx="212.2" cy="163.5" r="0.37"/><circle cx="251.9" cy="206.3" r="0.31"/><circle cx="251.1" cy="260.6" r="0.31"/><circle cx="182.7" cy="197.5" r="0.36"/><circle cx="252.8" cy="182.5" r="0.45"/><circle cx="258.9" cy="215.4" r="0.30"/><circle cx="283.8" cy="194.7" r="0.46"/><circle cx="204.0" cy="185.0" r="0.44"/><circle cx="210.9" cy="263.4" r="0.37"/><circle cx="199.2" cy="185.2" r="0.35"/><circle cx="250.9" cy="263.1" r="0.29"/><circle cx="221.5" cy="184.1" r="0.49"/><circle cx="194.3" cy="166.8" r="0.27"/><circle cx="221.5" cy="257.7" r="0.47"/><circle cx="258.2" cy="268.3" r="0.48"/><circle cx="214.6" cy="181.1" r="0.48"/><circle cx="259.7" cy="164.6" r="0.42"/><circle cx="219.9" cy="201.4" r="0.33"/><circle cx="197.3" cy="161.5" r="0.32"/><circle cx="217.0" cy="263.8" r="0.28"/><circle cx="283.2" cy="183.5" r="0.34"/><circle cx="267.8" cy="249.5" r="0.36"/><circle cx="184.3" cy="212.1" r="0.34"/><circle cx="278.4" cy="181.9" r="0.34"/><circle cx="276.0" cy="164.5" r="0.35"/><circle cx="266.8" cy="243.5" r="0.26"/><circle cx="182.8" cy="167.9" r="0.48"/><circle cx="206.8" cy="241.5" r="0.47"/><circle cx="215.7" cy="190.4" r="0.49"/><circle cx="245.7" cy="189.4" r="0.43"/></g>
<ellipse cx="238" cy="222" rx="20" ry="17" fill="#400818" opacity="0.55" filter="url(#b3)"/>
<ellipse cx="246.5" cy="227.6" rx="15.5" ry="10.4" fill="#2c25b8" filter="url(#b1)" transform="rotate(8 246.5 227.6)"/>
<g fill="#7a2cc0" opacity="0.6"><circle cx="243.5" cy="231.0" r="0.40"/><circle cx="248.7" cy="216.2" r="0.72"/><circle cx="248.1" cy="227.4" r="0.52"/><circle cx="227.2" cy="226.9" r="0.88"/><circle cx="241.7" cy="229.5" r="0.61"/><circle cx="228.8" cy="225.6" r="0.49"/><circle cx="251.7" cy="220.2" r="0.81"/><circle cx="249.0" cy="220.8" r="0.56"/><circle cx="242.8" cy="231.6" r="0.79"/><circle cx="250.7" cy="229.9" r="0.78"/><circle cx="246.3" cy="229.5" r="0.42"/><circle cx="240.3" cy="225.2" r="0.89"/><circle cx="264.9" cy="219.8" r="0.53"/><circle cx="249.3" cy="229.2" r="0.65"/><circle cx="245.2" cy="221.9" r="0.52"/><circle cx="236.7" cy="229.9" r="0.74"/><circle cx="247.7" cy="217.6" r="0.73"/><circle cx="256.2" cy="235.9" r="0.55"/><circle cx="240.0" cy="224.6" r="0.77"/><circle cx="247.8" cy="231.5" r="0.52"/><circle cx="254.4" cy="237.7" r="0.69"/><circle cx="242.3" cy="231.7" r="0.90"/><circle cx="241.0" cy="226.6" r="0.80"/><circle cx="234.9" cy="212.7" r="0.45"/><circle cx="232.3" cy="227.1" r="0.82"/><circle cx="248.5" cy="227.1" r="0.55"/><circle cx="249.8" cy="230.4" r="0.89"/><circle cx="232.0" cy="219.5" r="0.59"/><circle cx="252.7" cy="224.2" r="0.53"/><circle cx="251.4" cy="215.8" r="0.45"/><circle cx="238.3" cy="222.3" r="0.51"/><circle cx="243.3" cy="229.3" r="0.50"/><circle cx="245.2" cy="234.5" r="0.73"/><circle cx="246.7" cy="228.4" r="0.56"/><circle cx="244.8" cy="224.3" r="0.56"/><circle cx="249.2" cy="236.9" r="0.67"/><circle cx="249.6" cy="229.0" r="0.60"/><circle cx="236.4" cy="223.9" r="0.45"/><circle cx="251.7" cy="235.3" r="0.60"/><circle cx="244.5" cy="231.7" r="0.88"/><circle cx="241.8" cy="233.2" r="0.58"/><circle cx="232.5" cy="230.9" r="0.90"/><circle cx="242.8" cy="229.7" r="0.76"/><circle cx="246.7" cy="228.2" r="0.85"/><circle cx="233.3" cy="230.2" r="0.60"/><circle cx="253.4" cy="224.6" r="0.48"/><circle cx="256.1" cy="229.6" r="0.72"/><circle cx="249.5" cy="226.8" r="0.71"/><circle cx="239.6" cy="231.1" r="0.47"/><circle cx="243.7" cy="233.4" r="0.86"/></g>
<g fill="#4a48f0" opacity="0.6"><circle cx="252.9" cy="232.3" r="0.80"/><circle cx="251.6" cy="227.6" r="0.46"/><circle cx="266.8" cy="225.4" r="0.64"/><circle cx="262.5" cy="233.8" r="0.59"/><circle cx="255.9" cy="224.8" r="0.81"/><circle cx="252.6" cy="236.3" r="0.51"/><circle cx="233.5" cy="231.5" r="0.81"/><circle cx="248.2" cy="231.2" r="0.60"/><circle cx="239.1" cy="226.0" r="0.46"/><circle cx="245.6" cy="235.9" r="0.85"/><circle cx="255.8" cy="230.6" r="0.78"/><circle cx="260.4" cy="231.9" r="0.46"/><circle cx="239.2" cy="222.7" r="0.71"/><circle cx="243.0" cy="232.3" r="0.69"/><circle cx="236.0" cy="229.6" r="0.62"/><circle cx="244.9" cy="227.8" r="0.71"/><circle cx="240.9" cy="227.1" r="0.78"/><circle cx="248.9" cy="222.2" r="0.49"/><circle cx="242.8" cy="227.5" r="0.46"/><circle cx="243.3" cy="228.1" r="0.62"/><circle cx="244.3" cy="227.2" r="0.72"/><circle cx="256.8" cy="233.3" r="0.79"/><circle cx="244.0" cy="227.1" r="0.65"/><circle cx="231.7" cy="234.5" r="0.47"/><circle cx="264.3" cy="216.4" r="0.77"/></g>
<g fill="#d01850" opacity="0.75"><circle cx="249.1" cy="226.0" r="0.69"/><circle cx="227.0" cy="229.6" r="0.67"/><circle cx="254.2" cy="236.6" r="0.67"/><circle cx="253.8" cy="230.9" r="0.60"/><circle cx="256.2" cy="237.9" r="0.41"/><circle cx="248.8" cy="226.4" r="0.50"/><circle cx="251.8" cy="227.4" r="0.41"/><circle cx="240.0" cy="228.8" r="0.31"/><circle cx="249.0" cy="231.7" r="0.67"/><circle cx="239.7" cy="219.4" r="0.37"/><circle cx="247.9" cy="226.6" r="0.51"/><circle cx="242.1" cy="225.4" r="0.65"/><circle cx="237.1" cy="226.8" r="0.65"/><circle cx="266.9" cy="238.6" r="0.55"/><circle cx="235.7" cy="234.5" r="0.41"/><circle cx="257.5" cy="228.6" r="0.44"/><circle cx="247.8" cy="223.6" r="0.37"/><circle cx="246.9" cy="227.4" r="0.63"/><circle cx="246.7" cy="236.1" r="0.69"/><circle cx="236.9" cy="225.2" r="0.43"/><circle cx="249.1" cy="229.0" r="0.36"/><circle cx="240.7" cy="225.5" r="0.51"/><circle cx="250.4" cy="227.4" r="0.39"/><circle cx="246.0" cy="228.1" r="0.30"/><circle cx="244.7" cy="230.9" r="0.44"/><circle cx="248.7" cy="235.5" r="0.54"/><circle cx="250.2" cy="235.7" r="0.49"/><circle cx="259.4" cy="237.8" r="0.40"/><circle cx="249.1" cy="230.8" r="0.56"/><circle cx="256.6" cy="222.7" r="0.46"/><circle cx="246.9" cy="229.8" r="0.56"/><circle cx="240.1" cy="227.2" r="0.56"/><circle cx="229.3" cy="233.1" r="0.59"/><circle cx="247.2" cy="239.8" r="0.32"/><circle cx="239.0" cy="228.0" r="0.40"/></g>
<g fill="#20d838" opacity="0.95"><circle cx="241.0" cy="219.2" r="0.41"/><circle cx="229.0" cy="211.9" r="0.49"/><circle cx="236.5" cy="219.5" r="0.70"/><circle cx="233.2" cy="211.4" r="0.50"/><circle cx="234.4" cy="217.6" r="0.43"/><circle cx="241.3" cy="214.7" r="0.83"/><circle cx="242.4" cy="218.2" r="0.85"/><circle cx="230.4" cy="215.2" r="0.67"/><circle cx="235.9" cy="217.2" r="0.54"/><circle cx="238.8" cy="217.4" r="0.85"/><circle cx="235.2" cy="211.0" r="0.83"/><circle cx="234.6" cy="218.9" r="0.66"/><circle cx="237.8" cy="213.5" r="0.56"/><circle cx="232.1" cy="209.5" r="0.53"/><circle cx="236.5" cy="215.8" r="0.56"/><circle cx="235.3" cy="220.1" r="0.97"/><circle cx="236.6" cy="213.9" r="0.93"/><circle cx="234.3" cy="217.2" r="0.94"/><circle cx="233.3" cy="212.2" r="0.80"/><circle cx="239.8" cy="216.8" r="0.90"/><circle cx="235.2" cy="210.9" r="0.66"/><circle cx="236.3" cy="212.7" r="0.58"/><circle cx="236.1" cy="219.6" r="0.45"/><circle cx="237.8" cy="215.8" r="0.42"/><circle cx="241.0" cy="221.3" r="0.61"/><circle cx="236.4" cy="216.6" r="0.42"/><circle cx="235.3" cy="212.3" r="0.82"/><circle cx="236.2" cy="215.1" r="0.75"/><circle cx="230.9" cy="218.1" r="0.89"/><circle cx="237.1" cy="215.7" r="0.92"/><circle cx="243.8" cy="215.2" r="0.46"/><circle cx="236.1" cy="217.3" r="0.42"/><circle cx="240.6" cy="213.5" r="0.78"/><circle cx="239.1" cy="213.7" r="0.57"/><circle cx="237.0" cy="217.0" r="0.85"/><circle cx="236.2" cy="218.3" r="0.65"/><circle cx="238.5" cy="217.0" r="0.57"/><circle cx="236.0" cy="213.6" r="0.59"/><circle cx="240.1" cy="216.6" r="0.91"/><circle cx="235.5" cy="215.4" r="0.65"/></g>
<ellipse cx="235.3" cy="216.3" rx="3.0" ry="2.0" fill="#28dc40" opacity="0.9" filter="url(#b1)"/>
<g fill="#18a030" opacity="0.75"><circle cx="222.2" cy="229.3" r="0.35"/><circle cx="233.6" cy="210.7" r="0.31"/><circle cx="235.4" cy="220.8" r="0.50"/><circle cx="233.0" cy="224.5" r="0.31"/><circle cx="240.3" cy="194.6" r="0.25"/><circle cx="226.0" cy="223.3" r="0.49"/><circle cx="233.4" cy="236.1" r="0.35"/><circle cx="236.7" cy="217.2" r="0.53"/><circle cx="230.7" cy="231.2" r="0.46"/><circle cx="230.2" cy="223.5" r="0.44"/><circle cx="240.2" cy="235.1" r="0.46"/><circle cx="237.9" cy="209.6" r="0.36"/><circle cx="226.9" cy="229.3" r="0.52"/><circle cx="241.2" cy="237.8" r="0.26"/><circle cx="232.6" cy="232.4" r="0.52"/><circle cx="227.3" cy="222.8" r="0.52"/><circle cx="231.3" cy="236.1" r="0.41"/><circle cx="236.9" cy="206.0" r="0.44"/><circle cx="228.4" cy="231.2" r="0.30"/><circle cx="240.5" cy="211.7" r="0.47"/><circle cx="234.0" cy="234.8" r="0.48"/><circle cx="230.9" cy="220.8" r="0.39"/><circle cx="237.3" cy="219.4" r="0.31"/><circle cx="226.9" cy="239.3" r="0.50"/><circle cx="233.9" cy="229.6" r="0.32"/><circle cx="227.3" cy="234.9" r="0.30"/><circle cx="230.0" cy="229.8" r="0.54"/><circle cx="233.6" cy="219.0" r="0.54"/><circle cx="236.4" cy="231.3" r="0.55"/><circle cx="239.1" cy="207.7" r="0.38"/><circle cx="232.8" cy="239.1" r="0.28"/><circle cx="232.5" cy="234.6" r="0.26"/><circle cx="222.3" cy="233.6" r="0.46"/><circle cx="224.7" cy="222.3" r="0.39"/><circle cx="235.7" cy="236.4" r="0.37"/><circle cx="237.0" cy="200.3" r="0.38"/><circle cx="225.9" cy="214.2" r="0.38"/><circle cx="230.8" cy="241.4" r="0.51"/><circle cx="237.7" cy="207.7" r="0.51"/><circle cx="232.2" cy="209.3" r="0.39"/><circle cx="227.0" cy="237.3" r="0.28"/><circle cx="222.2" cy="231.3" r="0.46"/><circle cx="231.1" cy="217.4" r="0.38"/><circle cx="224.3" cy="226.6" r="0.37"/><circle cx="231.4" cy="200.6" r="0.30"/><circle cx="230.4" cy="207.4" r="0.37"/><circle cx="216.7" cy="222.6" r="0.26"/><circle cx="230.0" cy="221.6" r="0.48"/><circle cx="240.6" cy="220.6" r="0.28"/><circle cx="227.7" cy="216.6" r="0.47"/><circle cx="224.9" cy="221.1" r="0.50"/><circle cx="227.3" cy="221.3" r="0.53"/><circle cx="232.0" cy="240.3" r="0.37"/><circle cx="234.4" cy="218.6" r="0.55"/><circle cx="231.2" cy="226.7" r="0.33"/><circle cx="232.0" cy="224.9" r="0.38"/><circle cx="223.4" cy="230.4" r="0.36"/><circle cx="231.1" cy="231.6" r="0.47"/><circle cx="240.7" cy="220.5" r="0.32"/><circle cx="236.9" cy="214.2" r="0.31"/></g>
<g fill="#d81828" opacity="0.7"><circle cx="257.1" cy="220.5" r="0.49"/><circle cx="235.8" cy="208.0" r="0.42"/><circle cx="248.3" cy="228.3" r="0.36"/><circle cx="230.9" cy="204.5" r="0.49"/><circle cx="235.0" cy="214.0" r="0.41"/><circle cx="258.7" cy="221.0" r="0.36"/><circle cx="249.1" cy="209.2" r="0.36"/><circle cx="243.7" cy="219.3" r="0.31"/><circle cx="261.6" cy="213.2" r="0.33"/><circle cx="244.3" cy="218.1" r="0.39"/><circle cx="229.9" cy="216.7" r="0.45"/><circle cx="227.6" cy="223.5" r="0.51"/><circle cx="263.3" cy="216.9" r="0.52"/><circle cx="245.3" cy="209.8" r="0.50"/><circle cx="242.7" cy="212.2" r="0.25"/><circle cx="259.3" cy="210.4" r="0.33"/><circle cx="248.9" cy="215.0" r="0.32"/><circle cx="245.7" cy="207.5" r="0.30"/><circle cx="260.1" cy="207.0" r="0.30"/><circle cx="255.7" cy="207.8" r="0.48"/><circle cx="232.6" cy="201.9" r="0.49"/><circle cx="247.9" cy="209.6" r="0.46"/><circle cx="226.2" cy="211.1" r="0.38"/><circle cx="254.4" cy="207.9" r="0.33"/><circle cx="244.6" cy="216.3" r="0.40"/><circle cx="255.5" cy="215.4" r="0.29"/><circle cx="231.1" cy="213.4" r="0.41"/><circle cx="244.8" cy="212.5" r="0.50"/><circle cx="230.1" cy="214.5" r="0.45"/><circle cx="249.7" cy="208.1" r="0.38"/><circle cx="248.2" cy="212.4" r="0.44"/><circle cx="242.3" cy="211.9" r="0.43"/><circle cx="233.5" cy="200.3" r="0.35"/><circle cx="257.1" cy="212.2" r="0.40"/><circle cx="246.3" cy="212.1" r="0.47"/><circle cx="236.9" cy="209.1" r="0.51"/><circle cx="235.7" cy="218.1" r="0.41"/><circle cx="245.0" cy="208.9" r="0.38"/><circle cx="231.7" cy="216.6" r="0.50"/><circle cx="238.5" cy="223.8" r="0.37"/><circle cx="235.2" cy="212.9" r="0.40"/><circle cx="259.8" cy="211.6" r="0.49"/><circle cx="239.3" cy="217.6" r="0.34"/><circle cx="230.6" cy="208.6" r="0.49"/><circle cx="261.1" cy="215.4" r="0.52"/><circle cx="240.6" cy="212.5" r="0.34"/><circle cx="251.1" cy="213.2" r="0.53"/><circle cx="231.5" cy="207.5" r="0.49"/><circle cx="256.8" cy="208.6" r="0.44"/><circle cx="232.1" cy="206.4" r="0.43"/><circle cx="240.8" cy="209.2" r="0.45"/><circle cx="226.0" cy="215.7" r="0.28"/><circle cx="245.3" cy="214.5" r="0.48"/><circle cx="257.8" cy="208.5" r="0.36"/><circle cx="252.5" cy="203.5" r="0.42"/><circle cx="243.5" cy="218.1" r="0.38"/><circle cx="239.1" cy="218.8" r="0.44"/><circle cx="247.4" cy="212.2" r="0.42"/><circle cx="249.4" cy="213.7" r="0.49"/><circle cx="222.1" cy="206.9" r="0.38"/><circle cx="254.8" cy="213.5" r="0.43"/><circle cx="272.6" cy="206.6" r="0.39"/><circle cx="239.6" cy="214.5" r="0.44"/><circle cx="245.5" cy="216.3" r="0.25"/><circle cx="260.7" cy="213.3" r="0.29"/><circle cx="248.6" cy="212.5" r="0.51"/><circle cx="245.4" cy="213.8" r="0.47"/><circle cx="244.9" cy="222.7" r="0.31"/><circle cx="262.0" cy="216.2" r="0.46"/><circle cx="254.9" cy="205.3" r="0.28"/></g>
<g fill="#18b030" opacity="0.8"><circle cx="215.7" cy="202.5" r="0.37"/><circle cx="221.1" cy="205.7" r="0.49"/><circle cx="218.9" cy="206.4" r="0.25"/><circle cx="215.8" cy="201.0" r="0.27"/><circle cx="217.2" cy="213.0" r="0.29"/><circle cx="221.2" cy="203.5" r="0.26"/><circle cx="216.4" cy="210.9" r="0.36"/><circle cx="218.3" cy="205.0" r="0.45"/><circle cx="216.2" cy="211.4" r="0.41"/><circle cx="216.4" cy="208.9" r="0.45"/></g>
<ellipse cx="217" cy="268" rx="10.5" ry="6.5" fill="#3028d8" filter="url(#b1)"/>
<ellipse cx="212.5" cy="267" rx="4" ry="3" fill="#28a0e8" filter="url(#b1)"/>
<ellipse cx="211" cy="266.5" rx="2" ry="1.6" fill="#40f080" filter="url(#b1)"/>
<g fill="#d81838" opacity="0.75"><circle cx="233.5" cy="260.6" r="0.42"/><circle cx="221.3" cy="264.4" r="0.54"/><circle cx="218.2" cy="255.8" r="0.35"/><circle cx="206.8" cy="256.2" r="0.50"/><circle cx="217.2" cy="261.0" r="0.38"/><circle cx="227.2" cy="260.5" r="0.46"/><circle cx="210.0" cy="257.9" r="0.49"/><circle cx="221.9" cy="263.2" r="0.33"/><circle cx="213.8" cy="265.5" r="0.49"/><circle cx="223.6" cy="262.2" r="0.50"/><circle cx="227.3" cy="255.6" r="0.42"/><circle cx="220.0" cy="270.7" r="0.49"/><circle cx="215.8" cy="254.9" r="0.35"/><circle cx="229.7" cy="265.6" r="0.49"/><circle cx="225.6" cy="269.3" r="0.53"/><circle cx="223.0" cy="268.4" r="0.45"/><circle cx="217.4" cy="263.6" r="0.33"/><circle cx="222.1" cy="255.9" r="0.39"/><circle cx="232.8" cy="266.8" r="0.48"/><circle cx="223.0" cy="268.2" r="0.52"/><circle cx="228.4" cy="259.8" r="0.39"/><circle cx="218.2" cy="261.6" r="0.31"/><circle cx="226.6" cy="268.6" r="0.36"/><circle cx="215.5" cy="261.4" r="0.41"/><circle cx="223.3" cy="264.0" r="0.55"/><circle cx="219.7" cy="264.3" r="0.44"/><circle cx="222.9" cy="260.7" r="0.43"/><circle cx="217.2" cy="267.0" r="0.26"/><circle cx="242.9" cy="265.6" r="0.51"/><circle cx="213.0" cy="263.4" r="0.33"/><circle cx="223.3" cy="258.9" r="0.53"/><circle cx="223.4" cy="255.6" r="0.54"/><circle cx="222.0" cy="264.1" r="0.31"/><circle cx="223.2" cy="264.5" r="0.27"/><circle cx="208.8" cy="260.1" r="0.39"/><circle cx="236.5" cy="260.1" r="0.27"/><circle cx="216.3" cy="260.7" r="0.29"/><circle cx="227.2" cy="262.2" r="0.42"/><circle cx="210.9" cy="255.3" r="0.45"/><circle cx="216.0" cy="265.7" r="0.30"/><circle cx="243.2" cy="260.4" r="0.32"/><circle cx="227.2" cy="263.7" r="0.36"/><circle cx="234.4" cy="258.0" r="0.50"/><circle cx="233.8" cy="265.0" r="0.46"/><circle cx="209.7" cy="253.7" r="0.27"/></g>
<g fill="#18b030" opacity="0.75"><circle cx="213.1" cy="266.3" r="0.53"/><circle cx="206.1" cy="258.0" r="0.43"/><circle cx="208.1" cy="259.1" r="0.35"/><circle cx="207.9" cy="263.1" r="0.39"/><circle cx="209.8" cy="263.6" r="0.29"/><circle cx="207.7" cy="260.4" r="0.47"/><circle cx="208.5" cy="262.0" r="0.53"/><circle cx="210.1" cy="270.2" r="0.51"/><circle cx="210.1" cy="259.6" r="0.38"/><circle cx="217.4" cy="266.3" r="0.50"/><circle cx="204.2" cy="257.8" r="0.35"/><circle cx="210.5" cy="256.9" r="0.44"/><circle cx="210.2" cy="263.2" r="0.27"/><circle cx="206.6" cy="256.1" r="0.29"/><circle cx="210.7" cy="258.7" r="0.37"/><circle cx="210.2" cy="263.6" r="0.50"/><circle cx="206.5" cy="263.1" r="0.40"/><circle cx="203.5" cy="268.9" r="0.28"/><circle cx="209.7" cy="260.8" r="0.52"/><circle cx="206.3" cy="258.6" r="0.39"/><circle cx="207.1" cy="264.0" r="0.31"/><circle cx="197.9" cy="270.2" r="0.55"/><circle cx="210.0" cy="260.2" r="0.34"/><circle cx="209.4" cy="260.2" r="0.47"/><circle cx="204.3" cy="271.7" r="0.25"/></g>
</g>
</g>
<rect x="247.4" y="161.2" width="39.70000000000002" height="40.20000000000002" fill="#0a030a"/>
<clipPath id="cp2"><rect x="247.4" y="161.2" width="39.70000000000002" height="40.20000000000002"/></clipPath><g clip-path="url(#cp2)">
<g filter="url(#b0)">
<g fill="#c01424" opacity="0.6"><circle cx="279.4" cy="171.0" r="0.36"/><circle cx="247.5" cy="185.2" r="0.51"/><circle cx="254.8" cy="173.7" r="0.66"/><circle cx="256.1" cy="177.7" r="0.36"/><circle cx="254.6" cy="183.4" r="0.58"/><circle cx="255.2" cy="163.5" r="0.33"/><circle cx="271.6" cy="175.5" r="0.41"/><circle cx="255.6" cy="178.8" r="0.58"/><circle cx="279.6" cy="178.0" r="0.38"/><circle cx="250.0" cy="182.3" r="0.46"/><circle cx="276.0" cy="162.8" r="0.62"/><circle cx="260.7" cy="185.4" r="0.65"/><circle cx="267.0" cy="161.6" r="0.66"/><circle cx="266.3" cy="186.3" r="0.41"/><circle cx="254.8" cy="185.2" r="0.45"/><circle cx="253.9" cy="171.9" r="0.54"/><circle cx="247.6" cy="176.2" r="0.48"/><circle cx="267.9" cy="164.7" r="0.59"/><circle cx="279.8" cy="186.1" r="0.43"/><circle cx="275.6" cy="172.2" r="0.60"/><circle cx="249.8" cy="186.3" r="0.68"/><circle cx="267.0" cy="176.0" r="0.51"/><circle cx="268.7" cy="161.8" r="0.69"/><circle cx="256.3" cy="166.5" r="0.34"/><circle cx="257.3" cy="184.7" r="0.31"/><circle cx="251.2" cy="181.3" r="0.38"/><circle cx="248.1" cy="178.5" r="0.53"/><circle cx="268.2" cy="181.4" r="0.34"/><circle cx="281.9" cy="181.9" r="0.32"/><circle cx="252.3" cy="175.4" r="0.50"/><circle cx="258.5" cy="164.7" r="0.46"/><circle cx="252.8" cy="178.2" r="0.64"/><circle cx="253.2" cy="177.7" r="0.60"/><circle cx="253.9" cy="185.0" r="0.68"/><circle cx="262.8" cy="173.3" r="0.64"/><circle cx="268.3" cy="172.6" r="0.68"/><circle cx="278.2" cy="171.0" r="0.40"/><circle cx="260.7" cy="173.7" r="0.69"/><circle cx="279.3" cy="187.5" r="0.63"/><circle cx="281.1" cy="162.7" r="0.51"/><circle cx="285.4" cy="188.1" r="0.40"/><circle cx="264.2" cy="179.4" r="0.45"/><circle cx="268.5" cy="163.2" r="0.47"/><circle cx="267.4" cy="161.8" r="0.36"/><circle cx="285.9" cy="183.6" r="0.67"/><circle cx="272.5" cy="184.5" r="0.65"/><circle cx="282.5" cy="162.2" r="0.56"/><circle cx="258.0" cy="180.7" r="0.41"/><circle cx="268.9" cy="187.8" r="0.55"/><circle cx="257.3" cy="176.2" r="0.47"/><circle cx="285.1" cy="169.5" r="0.42"/><circle cx="273.1" cy="164.7" r="0.54"/><circle cx="285.4" cy="176.0" r="0.41"/><circle cx="265.9" cy="176.6" r="0.36"/><circle cx="252.3" cy="165.0" r="0.42"/><circle cx="263.5" cy="169.5" r="0.40"/><circle cx="250.9" cy="176.9" r="0.64"/><circle cx="271.6" cy="177.6" r="0.56"/><circle cx="255.4" cy="181.7" r="0.48"/><circle cx="269.2" cy="178.8" r="0.49"/><circle cx="259.7" cy="168.2" r="0.39"/><circle cx="267.7" cy="172.2" r="0.53"/><circle cx="247.9" cy="171.4" r="0.64"/><circle cx="256.9" cy="177.2" r="0.50"/><circle cx="258.7" cy="189.6" r="0.42"/><circle cx="278.1" cy="165.8" r="0.33"/><circle cx="282.0" cy="173.9" r="0.32"/><circle cx="262.8" cy="173.9" r="0.59"/><circle cx="251.7" cy="167.7" r="0.68"/><circle cx="276.7" cy="165.7" r="0.43"/><circle cx="261.4" cy="180.6" r="0.55"/><circle cx="281.1" cy="184.9" r="0.51"/><circle cx="276.7" cy="182.6" r="0.60"/><circle cx="266.3" cy="183.8" r="0.58"/><circle cx="283.7" cy="164.9" r="0.65"/><circle cx="247.6" cy="183.3" r="0.53"/><circle cx="267.2" cy="188.9" r="0.53"/><circle cx="264.0" cy="183.8" r="0.65"/><circle cx="271.5" cy="172.1" r="0.48"/><circle cx="265.6" cy="182.0" r="0.42"/><circle cx="262.9" cy="177.2" r="0.45"/><circle cx="260.2" cy="183.9" r="0.64"/><circle cx="267.2" cy="174.0" r="0.37"/><circle cx="259.5" cy="165.4" r="0.53"/><circle cx="270.5" cy="163.7" r="0.67"/><circle cx="260.3" cy="185.5" r="0.64"/><circle cx="285.5" cy="167.1" r="0.47"/><circle cx="283.5" cy="161.5" r="0.32"/><circle cx="269.8" cy="175.5" r="0.67"/><circle cx="278.1" cy="176.7" r="0.70"/><circle cx="267.9" cy="176.1" r="0.57"/><circle cx="262.9" cy="171.5" r="0.54"/><circle cx="261.3" cy="188.5" r="0.57"/><circle cx="268.3" cy="164.1" r="0.45"/><circle cx="263.3" cy="177.4" r="0.53"/><circle cx="282.3" cy="189.0" r="0.49"/><circle cx="264.9" cy="179.2" r="0.70"/><circle cx="261.0" cy="176.5" r="0.63"/><circle cx="254.2" cy="170.4" r="0.69"/><circle cx="280.2" cy="176.0" r="0.34"/><circle cx="282.9" cy="181.1" r="0.63"/><circle cx="286.7" cy="186.8" r="0.47"/><circle cx="253.6" cy="169.5" r="0.50"/><circle cx="267.4" cy="166.6" r="0.37"/><circle cx="272.4" cy="178.6" r="0.44"/><circle cx="286.9" cy="179.5" r="0.32"/><circle cx="263.7" cy="183.9" r="0.42"/><circle cx="274.8" cy="161.3" r="0.42"/><circle cx="280.8" cy="178.1" r="0.57"/><circle cx="255.2" cy="175.5" r="0.52"/><circle cx="258.0" cy="179.8" r="0.51"/><circle cx="287.0" cy="177.7" r="0.46"/><circle cx="252.2" cy="165.7" r="0.60"/><circle cx="251.6" cy="164.1" r="0.37"/><circle cx="268.1" cy="184.9" r="0.55"/><circle cx="279.4" cy="163.0" r="0.30"/><circle cx="278.0" cy="170.5" r="0.59"/><circle cx="261.4" cy="166.1" r="0.41"/><circle cx="251.3" cy="187.2" r="0.53"/><circle cx="261.3" cy="174.2" r="0.45"/><circle cx="249.6" cy="186.8" r="0.53"/><circle cx="285.5" cy="173.9" r="0.55"/><circle cx="257.3" cy="162.5" r="0.67"/><circle cx="281.3" cy="170.3" r="0.66"/><circle cx="279.8" cy="169.9" r="0.54"/><circle cx="285.5" cy="175.5" r="0.68"/><circle cx="257.0" cy="172.4" r="0.59"/><circle cx="256.2" cy="170.1" r="0.65"/><circle cx="266.6" cy="184.0" r="0.40"/><circle cx="254.3" cy="171.5" r="0.37"/><circle cx="286.0" cy="169.6" r="0.52"/><circle cx="252.0" cy="176.6" r="0.45"/><circle cx="263.4" cy="163.1" r="0.35"/><circle cx="280.2" cy="171.3" r="0.40"/><circle cx="255.0" cy="169.4" r="0.39"/><circle cx="248.8" cy="180.3" r="0.44"/><circle cx="253.6" cy="181.5" r="0.34"/><circle cx="258.1" cy="185.2" r="0.35"/><circle cx="265.0" cy="185.3" r="0.62"/><circle cx="253.7" cy="171.4" r="0.59"/><circle cx="262.4" cy="188.8" r="0.38"/><circle cx="285.2" cy="175.7" r="0.39"/><circle cx="265.4" cy="165.0" r="0.58"/><circle cx="257.8" cy="187.1" r="0.54"/><circle cx="262.0" cy="168.3" r="0.54"/><circle cx="255.8" cy="186.3" r="0.35"/><circle cx="267.8" cy="176.8" r="0.41"/><circle cx="278.0" cy="172.3" r="0.56"/><circle cx="269.9" cy="170.2" r="0.46"/><circle cx="250.8" cy="166.3" r="0.64"/><circle cx="260.1" cy="180.3" r="0.34"/><circle cx="269.7" cy="171.6" r="0.50"/><circle cx="259.2" cy="163.1" r="0.42"/><circle cx="256.4" cy="164.8" r="0.59"/><circle cx="258.6" cy="172.8" r="0.66"/><circle cx="278.2" cy="186.6" r="0.64"/><circle cx="252.6" cy="169.2" r="0.31"/><circle cx="274.4" cy="180.3" r="0.44"/><circle cx="263.8" cy="180.2" r="0.58"/><circle cx="257.3" cy="185.6" r="0.44"/><circle cx="272.4" cy="166.4" r="0.35"/><circle cx="283.6" cy="182.3" r="0.59"/><circle cx="249.0" cy="162.4" r="0.36"/><circle cx="255.3" cy="169.9" r="0.45"/><circle cx="249.0" cy="170.2" r="0.56"/><circle cx="254.5" cy="185.4" r="0.53"/><circle cx="275.9" cy="168.5" r="0.47"/><circle cx="274.6" cy="171.3" r="0.30"/><circle cx="280.5" cy="183.6" r="0.41"/><circle cx="249.1" cy="185.8" r="0.54"/><circle cx="249.3" cy="168.2" r="0.34"/><circle cx="278.8" cy="167.3" r="0.67"/><circle cx="277.2" cy="163.7" r="0.58"/><circle cx="263.0" cy="182.7" r="0.63"/><circle cx="258.6" cy="163.8" r="0.68"/><circle cx="264.2" cy="188.0" r="0.58"/><circle cx="276.7" cy="185.1" r="0.55"/><circle cx="265.4" cy="162.8" r="0.58"/><circle cx="264.4" cy="175.9" r="0.67"/><circle cx="252.5" cy="183.1" r="0.32"/><circle cx="275.3" cy="184.4" r="0.40"/><circle cx="269.1" cy="189.1" r="0.56"/><circle cx="269.0" cy="168.4" r="0.32"/><circle cx="261.6" cy="173.1" r="0.38"/><circle cx="259.7" cy="165.1" r="0.58"/><circle cx="274.0" cy="168.1" r="0.40"/><circle cx="267.9" cy="174.0" r="0.67"/><circle cx="261.4" cy="169.8" r="0.65"/><circle cx="253.0" cy="177.4" r="0.43"/><circle cx="279.8" cy="177.0" r="0.60"/><circle cx="254.1" cy="180.4" r="0.54"/><circle cx="265.7" cy="183.3" r="0.63"/><circle cx="251.9" cy="169.5" r="0.44"/><circle cx="255.6" cy="162.9" r="0.41"/><circle cx="255.2" cy="181.4" r="0.48"/><circle cx="251.9" cy="170.5" r="0.49"/><circle cx="261.8" cy="166.0" r="0.33"/><circle cx="247.8" cy="189.8" r="0.60"/><circle cx="250.7" cy="181.9" r="0.69"/><circle cx="269.8" cy="164.3" r="0.50"/></g>
<g fill="#149030" opacity="0.6"><circle cx="264.6" cy="171.8" r="0.52"/><circle cx="247.7" cy="186.4" r="0.56"/><circle cx="272.3" cy="186.7" r="0.56"/><circle cx="257.4" cy="172.9" r="0.36"/><circle cx="248.5" cy="183.5" r="0.64"/><circle cx="259.2" cy="171.7" r="0.56"/><circle cx="281.0" cy="186.5" r="0.37"/><circle cx="278.5" cy="184.6" r="0.60"/><circle cx="260.4" cy="171.7" r="0.63"/><circle cx="260.1" cy="175.4" r="0.52"/><circle cx="262.1" cy="184.6" r="0.40"/><circle cx="249.0" cy="179.3" r="0.55"/><circle cx="279.9" cy="182.1" r="0.66"/><circle cx="284.9" cy="177.9" r="0.50"/><circle cx="253.7" cy="174.0" r="0.53"/><circle cx="250.6" cy="181.8" r="0.37"/><circle cx="265.0" cy="187.4" r="0.34"/><circle cx="249.0" cy="176.8" r="0.38"/><circle cx="276.1" cy="168.1" r="0.64"/><circle cx="281.4" cy="183.7" r="0.47"/><circle cx="258.6" cy="181.2" r="0.51"/><circle cx="264.1" cy="174.8" r="0.48"/><circle cx="273.8" cy="184.5" r="0.66"/><circle cx="253.9" cy="173.9" r="0.48"/><circle cx="269.8" cy="175.0" r="0.38"/><circle cx="250.8" cy="174.5" r="0.48"/><circle cx="286.0" cy="186.2" r="0.65"/><circle cx="286.1" cy="187.2" r="0.55"/><circle cx="279.6" cy="169.2" r="0.57"/><circle cx="271.6" cy="173.9" r="0.53"/><circle cx="285.2" cy="177.6" r="0.56"/><circle cx="259.3" cy="174.9" r="0.65"/><circle cx="248.5" cy="171.8" r="0.57"/><circle cx="265.2" cy="169.7" r="0.56"/><circle cx="262.2" cy="179.6" r="0.47"/><circle cx="268.4" cy="179.3" r="0.46"/><circle cx="251.9" cy="171.6" r="0.66"/><circle cx="269.2" cy="170.2" r="0.64"/><circle cx="257.5" cy="169.9" r="0.51"/><circle cx="257.4" cy="177.8" r="0.52"/><circle cx="256.4" cy="179.5" r="0.35"/><circle cx="267.8" cy="179.8" r="0.33"/><circle cx="263.6" cy="169.5" r="0.48"/><circle cx="281.7" cy="179.0" r="0.59"/><circle cx="277.4" cy="170.3" r="0.70"/><circle cx="276.0" cy="170.0" r="0.63"/><circle cx="263.0" cy="171.4" r="0.68"/><circle cx="269.8" cy="183.5" r="0.35"/><circle cx="278.2" cy="169.2" r="0.39"/><circle cx="262.2" cy="168.3" r="0.54"/><circle cx="255.9" cy="174.0" r="0.58"/><circle cx="264.3" cy="185.8" r="0.55"/><circle cx="282.0" cy="179.3" r="0.67"/><circle cx="282.0" cy="171.4" r="0.60"/><circle cx="261.0" cy="183.3" r="0.57"/><circle cx="280.2" cy="170.5" r="0.45"/><circle cx="276.7" cy="187.0" r="0.59"/><circle cx="249.1" cy="180.1" r="0.34"/><circle cx="269.2" cy="184.1" r="0.35"/><circle cx="284.1" cy="181.5" r="0.40"/><circle cx="255.1" cy="176.9" r="0.64"/><circle cx="270.5" cy="170.3" r="0.31"/><circle cx="251.8" cy="184.0" r="0.37"/><circle cx="269.4" cy="173.8" r="0.57"/><circle cx="262.5" cy="170.9" r="0.65"/><circle cx="268.8" cy="181.8" r="0.62"/><circle cx="285.1" cy="168.3" r="0.44"/><circle cx="253.4" cy="178.0" r="0.65"/><circle cx="279.2" cy="168.7" r="0.37"/><circle cx="279.9" cy="181.6" r="0.46"/><circle cx="266.3" cy="171.2" r="0.64"/><circle cx="263.0" cy="185.5" r="0.54"/><circle cx="250.4" cy="174.6" r="0.39"/><circle cx="282.9" cy="179.8" r="0.32"/><circle cx="254.1" cy="175.2" r="0.49"/><circle cx="270.3" cy="175.8" r="0.44"/><circle cx="247.6" cy="179.6" r="0.43"/><circle cx="248.2" cy="177.2" r="0.69"/><circle cx="249.2" cy="170.9" r="0.57"/><circle cx="258.2" cy="173.5" r="0.50"/><circle cx="257.8" cy="179.4" r="0.51"/><circle cx="285.4" cy="187.8" r="0.31"/><circle cx="269.7" cy="183.4" r="0.65"/><circle cx="278.1" cy="180.7" r="0.55"/><circle cx="261.8" cy="173.6" r="0.62"/><circle cx="282.1" cy="186.8" r="0.57"/><circle cx="259.5" cy="183.3" r="0.60"/><circle cx="267.6" cy="180.7" r="0.44"/><circle cx="269.3" cy="176.1" r="0.32"/><circle cx="260.8" cy="174.5" r="0.70"/><circle cx="266.5" cy="175.3" r="0.40"/><circle cx="256.7" cy="175.0" r="0.35"/><circle cx="247.7" cy="185.4" r="0.48"/><circle cx="265.1" cy="179.4" r="0.42"/><circle cx="254.1" cy="169.3" r="0.42"/><circle cx="259.6" cy="182.5" r="0.52"/><circle cx="284.6" cy="174.8" r="0.67"/><circle cx="270.6" cy="169.6" r="0.37"/><circle cx="270.4" cy="187.7" r="0.44"/><circle cx="278.1" cy="176.6" r="0.65"/><circle cx="250.1" cy="177.7" r="0.66"/><circle cx="258.4" cy="173.2" r="0.31"/><circle cx="253.9" cy="173.4" r="0.58"/><circle cx="256.1" cy="176.0" r="0.38"/><circle cx="271.3" cy="185.3" r="0.56"/><circle cx="255.2" cy="182.7" r="0.69"/><circle cx="271.3" cy="169.6" r="0.62"/><circle cx="282.2" cy="174.8" r="0.35"/><circle cx="254.9" cy="178.7" r="0.65"/><circle cx="272.8" cy="186.5" r="0.38"/></g>
<ellipse cx="271" cy="212" rx="42" ry="24" fill="#3024c4" filter="url(#b1)"/>
<g fill="#9028c0" opacity="0.7"><circle cx="262.1" cy="198.5" r="0.72"/><circle cx="265.0" cy="197.7" r="0.57"/><circle cx="252.1" cy="194.7" r="0.42"/><circle cx="273.2" cy="193.8" r="0.65"/><circle cx="272.2" cy="192.9" r="0.63"/><circle cx="250.5" cy="200.5" r="0.68"/><circle cx="286.6" cy="190.6" r="0.71"/><circle cx="276.9" cy="193.8" r="0.45"/><circle cx="255.8" cy="191.6" r="0.78"/><circle cx="253.3" cy="199.3" r="0.61"/><circle cx="270.0" cy="196.7" r="0.68"/><circle cx="274.4" cy="196.9" r="0.57"/><circle cx="277.5" cy="192.9" r="0.76"/><circle cx="278.3" cy="198.8" r="0.55"/><circle cx="278.7" cy="201.1" r="0.63"/><circle cx="260.3" cy="196.0" r="0.87"/><circle cx="254.9" cy="190.1" r="0.64"/><circle cx="274.3" cy="198.8" r="0.58"/><circle cx="286.7" cy="192.6" r="0.78"/><circle cx="253.3" cy="190.3" r="0.47"/><circle cx="252.2" cy="195.7" r="0.68"/><circle cx="256.7" cy="200.7" r="0.58"/><circle cx="255.5" cy="192.0" r="0.77"/><circle cx="284.2" cy="191.8" r="0.41"/><circle cx="278.9" cy="192.8" r="0.89"/><circle cx="268.5" cy="197.3" r="0.57"/><circle cx="279.7" cy="195.2" r="0.56"/><circle cx="283.5" cy="191.2" r="0.77"/><circle cx="252.4" cy="197.4" r="0.60"/><circle cx="282.1" cy="190.7" r="0.68"/><circle cx="265.2" cy="200.5" r="0.87"/><circle cx="273.3" cy="192.6" r="0.53"/><circle cx="259.7" cy="194.9" r="0.52"/><circle cx="257.5" cy="198.7" r="0.72"/><circle cx="261.1" cy="201.3" r="0.51"/><circle cx="271.1" cy="191.8" r="0.83"/><circle cx="282.2" cy="193.0" r="0.78"/><circle cx="280.5" cy="193.2" r="0.57"/><circle cx="268.0" cy="200.2" r="0.48"/><circle cx="275.3" cy="196.8" r="0.63"/><circle cx="271.5" cy="200.1" r="0.50"/><circle cx="282.8" cy="194.1" r="0.79"/><circle cx="282.0" cy="192.1" r="0.83"/><circle cx="286.9" cy="193.4" r="0.41"/><circle cx="254.1" cy="201.1" r="0.40"/><circle cx="283.8" cy="191.7" r="0.77"/><circle cx="253.6" cy="191.9" r="0.74"/><circle cx="253.3" cy="193.9" r="0.86"/><circle cx="276.6" cy="200.1" r="0.89"/><circle cx="251.2" cy="192.7" r="0.80"/><circle cx="275.6" cy="190.4" r="0.65"/><circle cx="258.6" cy="194.9" r="0.45"/><circle cx="250.7" cy="201.3" r="0.56"/><circle cx="282.6" cy="191.4" r="0.64"/><circle cx="255.0" cy="194.9" r="0.49"/><circle cx="275.4" cy="191.7" r="0.77"/><circle cx="268.6" cy="191.3" r="0.58"/><circle cx="268.4" cy="200.5" r="0.57"/><circle cx="258.0" cy="201.0" r="0.84"/><circle cx="277.1" cy="193.1" r="0.49"/></g>
<g fill="#d01860" opacity="0.7"><circle cx="259.8" cy="190.8" r="0.32"/><circle cx="268.9" cy="194.7" r="0.52"/><circle cx="263.5" cy="190.1" r="0.58"/><circle cx="274.2" cy="196.2" r="0.52"/><circle cx="275.6" cy="201.2" r="0.65"/><circle cx="276.6" cy="194.6" r="0.43"/><circle cx="265.6" cy="201.1" r="0.45"/><circle cx="264.3" cy="194.7" r="0.36"/><circle cx="287.0" cy="190.1" r="0.54"/><circle cx="284.4" cy="192.9" r="0.54"/><circle cx="264.0" cy="192.7" r="0.38"/><circle cx="254.3" cy="199.6" r="0.61"/><circle cx="283.7" cy="190.6" r="0.58"/><circle cx="262.0" cy="197.4" r="0.52"/><circle cx="261.7" cy="201.1" r="0.30"/><circle cx="277.7" cy="199.7" r="0.50"/><circle cx="272.0" cy="201.3" r="0.39"/><circle cx="273.4" cy="198.5" r="0.45"/><circle cx="276.4" cy="194.5" r="0.51"/><circle cx="272.7" cy="197.7" r="0.43"/><circle cx="273.3" cy="196.2" r="0.39"/><circle cx="272.7" cy="193.0" r="0.66"/><circle cx="267.6" cy="198.2" r="0.51"/><circle cx="267.7" cy="192.5" r="0.36"/><circle cx="284.4" cy="196.0" r="0.51"/><circle cx="269.6" cy="199.3" r="0.40"/><circle cx="256.4" cy="199.4" r="0.48"/><circle cx="273.8" cy="199.4" r="0.66"/><circle cx="282.2" cy="190.5" r="0.45"/><circle cx="280.9" cy="199.3" r="0.35"/><circle cx="255.7" cy="192.9" r="0.34"/><circle cx="263.2" cy="199.2" r="0.51"/><circle cx="266.8" cy="191.0" r="0.46"/><circle cx="287.0" cy="197.9" r="0.48"/><circle cx="267.7" cy="199.1" r="0.60"/><circle cx="255.6" cy="197.8" r="0.45"/><circle cx="269.3" cy="192.7" r="0.45"/><circle cx="262.6" cy="194.3" r="0.31"/><circle cx="257.5" cy="196.5" r="0.32"/><circle cx="256.6" cy="198.2" r="0.41"/></g>
<g fill="#30e040" opacity="0.95"><circle cx="252.4" cy="189.6" r="1.00"/><circle cx="257.3" cy="190.0" r="1.02"/><circle cx="254.5" cy="190.7" r="0.98"/><circle cx="251.2" cy="185.4" r="0.53"/><circle cx="250.6" cy="188.6" r="0.93"/><circle cx="252.6" cy="190.6" r="0.89"/><circle cx="254.6" cy="184.7" r="0.73"/><circle cx="247.1" cy="184.0" r="0.61"/><circle cx="258.5" cy="186.6" r="0.72"/><circle cx="252.1" cy="185.0" r="0.54"/><circle cx="253.6" cy="184.4" r="0.82"/><circle cx="246.6" cy="187.6" r="0.95"/><circle cx="257.7" cy="188.2" r="0.78"/><circle cx="247.6" cy="188.9" r="0.75"/><circle cx="246.9" cy="188.6" r="0.76"/><circle cx="249.7" cy="187.7" r="0.99"/><circle cx="251.0" cy="182.9" r="0.74"/><circle cx="258.2" cy="188.7" r="0.83"/><circle cx="254.2" cy="182.1" r="0.57"/><circle cx="253.7" cy="188.8" r="0.99"/><circle cx="254.6" cy="188.3" r="0.95"/><circle cx="252.5" cy="187.1" r="0.91"/><circle cx="252.6" cy="183.9" r="0.53"/><circle cx="252.3" cy="184.4" r="0.85"/><circle cx="259.4" cy="187.4" r="1.02"/><circle cx="255.3" cy="189.8" r="0.81"/><circle cx="263.1" cy="187.9" r="0.66"/><circle cx="253.3" cy="190.3" r="0.65"/><circle cx="256.1" cy="184.3" r="0.81"/><circle cx="252.6" cy="188.0" r="0.68"/><circle cx="257.4" cy="183.2" r="1.01"/><circle cx="253.4" cy="189.6" r="0.53"/><circle cx="250.5" cy="186.8" r="0.78"/><circle cx="249.3" cy="187.8" r="0.72"/><circle cx="254.2" cy="185.5" r="1.05"/><circle cx="252.5" cy="187.1" r="0.69"/><circle cx="250.3" cy="186.8" r="0.84"/><circle cx="252.4" cy="189.8" r="0.98"/><circle cx="252.2" cy="192.4" r="0.98"/><circle cx="250.5" cy="185.6" r="1.06"/><circle cx="247.3" cy="189.7" r="0.53"/><circle cx="249.3" cy="189.3" r="0.53"/><circle cx="254.3" cy="186.6" r="0.86"/><circle cx="256.6" cy="194.0" r="0.84"/><circle cx="254.7" cy="183.9" r="0.90"/></g>
<ellipse cx="253" cy="188" rx="3" ry="2.6" fill="#30dc40" opacity="0.85" filter="url(#b1)"/>
<g fill="#28c038" opacity="0.8"><circle cx="278.7" cy="181.0" r="0.48"/><circle cx="281.0" cy="181.5" r="0.77"/><circle cx="280.4" cy="183.4" r="0.44"/><circle cx="281.8" cy="177.7" r="0.57"/><circle cx="278.5" cy="181.2" r="0.76"/><circle cx="279.2" cy="181.4" r="0.42"/><circle cx="279.7" cy="181.9" r="0.73"/><circle cx="279.3" cy="183.9" r="0.63"/><circle cx="278.1" cy="184.8" r="0.46"/><circle cx="282.6" cy="181.6" r="0.74"/><circle cx="283.6" cy="185.4" r="0.79"/><circle cx="279.3" cy="182.8" r="0.55"/><circle cx="278.4" cy="181.4" r="0.62"/><circle cx="283.3" cy="183.7" r="0.69"/><circle cx="275.2" cy="183.8" r="0.45"/><circle cx="280.8" cy="181.6" r="0.77"/></g>
</g>
</g>
<rect x="248.0" y="161.79999999999998" width="38.500000000000014" height="39.000000000000014" fill="none" stroke="#ececec" stroke-width="1.4"/>
<rect x="239.6" y="204.1" width="15.5" height="16.1" fill="none" stroke="#f2f2f2" stroke-width="1.4"/>
<text x="275" y="259.2" font-size="7.4" text-anchor="middle" font-weight="bold" fill="#fff" style="stroke:#fff">10 µm</text>
<line x1="268.50" y1="261.60" x2="279.70" y2="261.60" stroke="#fff" stroke-width="1.2"/>
<text x="176.0" y="213.6" font-size="8.0" text-anchor="middle" font-weight="bold" fill="#000" transform="rotate(-90 176.0 213.6)">WT</text>
<text x="372.7" y="158.9" font-size="8.6" font-weight="bold" text-anchor="middle"><tspan fill="#1f74d2" style="stroke:#1f74d2;stroke-width:.22px">DAPI</tspan><tspan fill="#111" style="stroke:#111;stroke-width:.22px">/</tspan><tspan fill="#12963c" style="stroke:#12963c;stroke-width:.22px">CD63</tspan><tspan fill="#111" style="stroke:#111;stroke-width:.22px">/</tspan><tspan fill="#ee1c24" style="stroke:#ee1c24;stroke-width:.22px">PD-L1</tspan></text>
<rect x="317.2" y="161.2" width="107.19999999999999" height="107.40000000000003" fill="#030103"/>
<clipPath id="cp3"><rect x="317.2" y="161.2" width="107.19999999999999" height="107.40000000000003"/></clipPath><g clip-path="url(#cp3)">
<g filter="url(#b0)">
<g fill="#901028" opacity="0.3"><circle cx="424.0" cy="262.1" r="0.36"/><circle cx="348.4" cy="198.6" r="0.40"/><circle cx="370.4" cy="261.1" r="0.27"/><circle cx="369.2" cy="254.0" r="0.37"/><circle cx="375.2" cy="170.7" r="0.28"/><circle cx="346.3" cy="257.1" r="0.42"/><circle cx="341.6" cy="260.5" r="0.26"/><circle cx="381.4" cy="265.1" r="0.32"/><circle cx="418.4" cy="231.7" r="0.26"/><circle cx="352.9" cy="209.5" r="0.30"/><circle cx="396.8" cy="180.4" r="0.41"/><circle cx="349.2" cy="168.7" r="0.36"/><circle cx="327.5" cy="220.4" r="0.41"/><circle cx="381.0" cy="210.8" r="0.26"/><circle cx="372.2" cy="171.6" r="0.38"/><circle cx="331.3" cy="223.3" r="0.32"/><circle cx="357.4" cy="232.4" r="0.28"/><circle cx="335.4" cy="262.3" r="0.32"/><circle cx="407.5" cy="255.0" r="0.35"/><circle cx="333.2" cy="171.3" r="0.43"/><circle cx="329.8" cy="214.5" r="0.36"/><circle cx="329.8" cy="211.4" r="0.28"/><circle cx="374.6" cy="215.6" r="0.32"/><circle cx="338.4" cy="204.6" r="0.29"/><circle cx="330.8" cy="187.0" r="0.42"/><circle cx="371.0" cy="256.9" r="0.25"/><circle cx="418.3" cy="213.7" r="0.41"/><circle cx="378.3" cy="235.2" r="0.30"/><circle cx="397.6" cy="177.7" r="0.30"/><circle cx="320.5" cy="203.4" r="0.35"/><circle cx="348.5" cy="256.8" r="0.27"/><circle cx="379.2" cy="186.3" r="0.37"/><circle cx="401.2" cy="237.5" r="0.26"/><circle cx="343.5" cy="225.6" r="0.45"/><circle cx="321.6" cy="227.6" r="0.39"/><circle cx="404.5" cy="197.9" r="0.41"/><circle cx="366.7" cy="260.1" r="0.25"/><circle cx="418.0" cy="205.4" r="0.33"/><circle cx="326.6" cy="187.5" r="0.40"/><circle cx="390.0" cy="177.4" r="0.32"/><circle cx="332.2" cy="182.5" r="0.29"/><circle cx="352.7" cy="266.0" r="0.45"/><circle cx="402.1" cy="212.7" r="0.35"/><circle cx="400.7" cy="258.7" r="0.40"/><circle cx="385.4" cy="182.6" r="0.38"/><circle cx="407.9" cy="245.7" r="0.27"/><circle cx="394.1" cy="198.7" r="0.28"/><circle cx="420.7" cy="233.4" r="0.40"/><circle cx="331.7" cy="250.2" r="0.44"/><circle cx="414.2" cy="241.2" r="0.42"/><circle cx="403.2" cy="224.6" r="0.34"/><circle cx="405.7" cy="245.4" r="0.42"/><circle cx="349.2" cy="264.4" r="0.36"/><circle cx="418.6" cy="173.6" r="0.44"/><circle cx="401.6" cy="188.3" r="0.42"/><circle cx="342.1" cy="182.5" r="0.34"/><circle cx="342.6" cy="214.1" r="0.43"/><circle cx="390.7" cy="237.5" r="0.33"/><circle cx="401.2" cy="246.4" r="0.39"/><circle cx="418.2" cy="249.9" r="0.33"/><circle cx="326.5" cy="231.3" r="0.42"/><circle cx="353.6" cy="225.1" r="0.42"/><circle cx="402.2" cy="161.7" r="0.35"/><circle cx="319.0" cy="173.1" r="0.41"/><circle cx="362.1" cy="226.2" r="0.34"/><circle cx="353.2" cy="184.1" r="0.32"/><circle cx="407.7" cy="227.7" r="0.31"/><circle cx="326.6" cy="190.3" r="0.39"/><circle cx="364.6" cy="232.2" r="0.41"/><circle cx="330.1" cy="234.5" r="0.26"/><circle cx="405.4" cy="181.0" r="0.30"/><circle cx="419.9" cy="200.1" r="0.29"/><circle cx="412.6" cy="226.7" r="0.43"/><circle cx="359.5" cy="214.9" r="0.44"/><circle cx="371.5" cy="267.4" r="0.29"/><circle cx="406.2" cy="178.6" r="0.36"/><circle cx="317.2" cy="180.0" r="0.44"/><circle cx="365.9" cy="248.1" r="0.30"/><circle cx="355.0" cy="172.0" r="0.36"/><circle cx="409.6" cy="216.4" r="0.33"/><circle cx="416.7" cy="257.2" r="0.38"/><circle cx="325.3" cy="228.2" r="0.34"/><circle cx="419.9" cy="200.1" r="0.38"/><circle cx="384.9" cy="201.6" r="0.35"/><circle cx="389.7" cy="258.6" r="0.35"/><circle cx="356.2" cy="266.0" r="0.26"/><circle cx="406.7" cy="234.6" r="0.36"/><circle cx="365.2" cy="241.9" r="0.43"/><circle cx="395.3" cy="241.7" r="0.26"/><circle cx="352.1" cy="175.9" r="0.44"/><circle cx="412.8" cy="176.7" r="0.37"/><circle cx="379.0" cy="166.2" r="0.33"/><circle cx="397.3" cy="230.1" r="0.31"/><circle cx="398.9" cy="192.5" r="0.36"/><circle cx="362.3" cy="266.3" r="0.38"/><circle cx="403.5" cy="233.9" r="0.33"/><circle cx="420.4" cy="237.4" r="0.39"/><circle cx="346.9" cy="178.6" r="0.37"/><circle cx="405.7" cy="246.4" r="0.32"/><circle cx="332.2" cy="216.6" r="0.43"/><circle cx="334.6" cy="240.5" r="0.28"/><circle cx="350.6" cy="166.9" r="0.31"/><circle cx="358.3" cy="265.0" r="0.44"/><circle cx="337.3" cy="194.4" r="0.44"/><circle cx="338.4" cy="195.7" r="0.34"/><circle cx="328.8" cy="189.1" r="0.33"/><circle cx="358.5" cy="264.7" r="0.30"/><circle cx="339.1" cy="258.8" r="0.34"/><circle cx="406.9" cy="229.6" r="0.41"/><circle cx="350.9" cy="177.5" r="0.40"/><circle cx="367.6" cy="221.2" r="0.38"/><circle cx="397.9" cy="190.8" r="0.32"/><circle cx="415.6" cy="218.1" r="0.31"/><circle cx="384.8" cy="189.1" r="0.40"/><circle cx="321.6" cy="250.0" r="0.36"/><circle cx="355.1" cy="262.1" r="0.30"/><circle cx="343.3" cy="168.7" r="0.36"/><circle cx="398.0" cy="234.0" r="0.33"/><circle cx="403.8" cy="173.2" r="0.31"/><circle cx="386.3" cy="265.1" r="0.38"/></g>
<ellipse cx="368" cy="224.5" rx="31" ry="9" fill="#0c5a10" opacity="0.32" filter="url(#b3)" transform="rotate(-19 368 224.5)"/>
<ellipse cx="373.1" cy="220.4" rx="7" ry="8" fill="#2a24c0" filter="url(#b1)" transform="rotate(30 373.1 220.4)"/>
<g fill="#5a50f8" opacity="0.7"><circle cx="370.8" cy="214.0" r="0.60"/><circle cx="378.4" cy="218.1" r="0.57"/><circle cx="368.1" cy="225.0" r="0.57"/><circle cx="375.8" cy="228.0" r="0.67"/><circle cx="367.8" cy="219.7" r="0.85"/><circle cx="375.1" cy="223.2" r="0.43"/><circle cx="369.5" cy="223.0" r="0.83"/><circle cx="370.7" cy="215.9" r="0.60"/><circle cx="370.5" cy="219.1" r="0.82"/><circle cx="374.6" cy="213.1" r="0.48"/><circle cx="370.2" cy="214.6" r="0.65"/><circle cx="379.0" cy="215.4" r="0.77"/><circle cx="375.2" cy="215.3" r="0.84"/><circle cx="376.7" cy="225.1" r="0.75"/><circle cx="370.9" cy="218.4" r="0.43"/><circle cx="367.8" cy="216.0" r="0.54"/><circle cx="373.6" cy="223.3" r="0.45"/><circle cx="368.7" cy="210.8" r="0.80"/><circle cx="369.5" cy="225.3" r="0.44"/><circle cx="374.6" cy="217.5" r="0.40"/><circle cx="371.7" cy="218.9" r="0.54"/><circle cx="376.5" cy="222.1" r="0.68"/><circle cx="373.4" cy="219.4" r="0.81"/><circle cx="374.9" cy="222.3" r="0.71"/><circle cx="371.3" cy="223.5" r="0.68"/></g>
<g fill="#18a830" opacity="0.7"><circle cx="374.3" cy="230.9" r="0.31"/><circle cx="379.3" cy="213.6" r="0.41"/><circle cx="393.9" cy="217.5" r="0.26"/><circle cx="349.1" cy="231.2" r="0.27"/><circle cx="346.6" cy="226.6" r="0.43"/><circle cx="351.4" cy="233.9" r="0.43"/><circle cx="373.7" cy="232.3" r="0.55"/><circle cx="376.2" cy="210.6" r="0.35"/><circle cx="372.1" cy="223.2" r="0.39"/><circle cx="379.0" cy="224.9" r="0.45"/><circle cx="359.9" cy="222.5" r="0.35"/><circle cx="373.4" cy="227.4" r="0.33"/><circle cx="377.3" cy="228.9" r="0.40"/><circle cx="356.5" cy="230.0" r="0.46"/><circle cx="371.2" cy="227.2" r="0.42"/><circle cx="349.2" cy="219.1" r="0.47"/><circle cx="399.2" cy="210.7" r="0.47"/><circle cx="364.4" cy="224.4" r="0.31"/><circle cx="398.2" cy="215.2" r="0.47"/><circle cx="356.6" cy="226.0" r="0.36"/><circle cx="379.5" cy="226.6" r="0.55"/><circle cx="364.8" cy="227.3" r="0.30"/><circle cx="347.3" cy="240.0" r="0.49"/><circle cx="359.0" cy="228.5" r="0.28"/><circle cx="383.9" cy="226.1" r="0.39"/><circle cx="401.2" cy="212.8" r="0.49"/><circle cx="336.9" cy="236.8" r="0.29"/><circle cx="383.2" cy="223.4" r="0.40"/><circle cx="370.2" cy="227.6" r="0.26"/><circle cx="386.0" cy="214.5" r="0.53"/><circle cx="382.9" cy="219.1" r="0.47"/><circle cx="345.8" cy="238.2" r="0.50"/><circle cx="367.9" cy="225.4" r="0.31"/><circle cx="351.8" cy="228.0" r="0.25"/><circle cx="377.4" cy="214.3" r="0.39"/><circle cx="399.3" cy="216.7" r="0.41"/><circle cx="379.4" cy="222.7" r="0.44"/><circle cx="378.8" cy="217.5" r="0.44"/><circle cx="370.3" cy="227.4" r="0.52"/><circle cx="360.9" cy="228.8" r="0.43"/><circle cx="374.2" cy="224.9" r="0.39"/><circle cx="345.3" cy="229.2" r="0.46"/><circle cx="360.6" cy="228.0" r="0.47"/><circle cx="383.7" cy="221.2" r="0.37"/><circle cx="352.1" cy="223.6" r="0.32"/><circle cx="349.6" cy="225.2" r="0.39"/><circle cx="390.6" cy="225.1" r="0.43"/><circle cx="377.4" cy="222.9" r="0.55"/><circle cx="369.6" cy="229.0" r="0.49"/><circle cx="374.3" cy="216.6" r="0.47"/><circle cx="373.1" cy="223.6" r="0.54"/><circle cx="367.1" cy="223.9" r="0.26"/><circle cx="371.6" cy="234.5" r="0.32"/><circle cx="345.5" cy="222.9" r="0.44"/><circle cx="376.4" cy="220.1" r="0.30"/><circle cx="393.1" cy="217.1" r="0.28"/><circle cx="390.5" cy="215.8" r="0.31"/><circle cx="368.5" cy="222.0" r="0.40"/><circle cx="389.8" cy="222.5" r="0.52"/><circle cx="366.9" cy="225.0" r="0.51"/><circle cx="337.1" cy="232.4" r="0.40"/><circle cx="348.9" cy="227.0" r="0.49"/><circle cx="371.0" cy="224.5" r="0.41"/><circle cx="363.3" cy="231.1" r="0.25"/><circle cx="365.6" cy="224.6" r="0.50"/><circle cx="371.2" cy="218.8" r="0.29"/><circle cx="358.8" cy="225.4" r="0.38"/><circle cx="402.4" cy="221.3" r="0.41"/><circle cx="362.2" cy="228.5" r="0.47"/><circle cx="382.0" cy="212.5" r="0.28"/><circle cx="357.7" cy="231.3" r="0.48"/><circle cx="380.7" cy="225.6" r="0.54"/><circle cx="366.1" cy="224.9" r="0.27"/><circle cx="386.1" cy="223.4" r="0.43"/><circle cx="348.2" cy="231.0" r="0.37"/><circle cx="346.8" cy="227.7" r="0.52"/><circle cx="360.3" cy="219.0" r="0.52"/><circle cx="377.3" cy="215.2" r="0.26"/><circle cx="350.2" cy="222.5" r="0.38"/><circle cx="372.7" cy="221.1" r="0.53"/><circle cx="343.3" cy="236.0" r="0.33"/><circle cx="362.6" cy="230.8" r="0.35"/><circle cx="381.3" cy="223.1" r="0.54"/><circle cx="342.0" cy="224.7" r="0.48"/><circle cx="388.8" cy="204.6" r="0.48"/><circle cx="365.3" cy="229.3" r="0.37"/><circle cx="377.7" cy="221.9" r="0.52"/><circle cx="378.0" cy="219.3" r="0.48"/><circle cx="368.2" cy="214.9" r="0.49"/><circle cx="358.4" cy="227.7" r="0.50"/><circle cx="359.1" cy="234.0" r="0.36"/><circle cx="324.5" cy="236.9" r="0.30"/><circle cx="342.7" cy="232.2" r="0.41"/><circle cx="380.6" cy="218.6" r="0.52"/><circle cx="346.9" cy="220.5" r="0.28"/><circle cx="370.3" cy="227.8" r="0.52"/><circle cx="378.5" cy="221.5" r="0.46"/><circle cx="375.9" cy="221.9" r="0.38"/><circle cx="354.4" cy="222.8" r="0.47"/><circle cx="365.1" cy="222.2" r="0.33"/><circle cx="390.7" cy="218.3" r="0.31"/><circle cx="367.3" cy="237.3" r="0.44"/><circle cx="345.1" cy="228.9" r="0.43"/><circle cx="360.2" cy="223.7" r="0.27"/><circle cx="368.6" cy="224.9" r="0.36"/><circle cx="371.5" cy="225.4" r="0.40"/><circle cx="389.6" cy="216.0" r="0.33"/><circle cx="366.3" cy="222.4" r="0.28"/><circle cx="362.0" cy="231.5" r="0.46"/><circle cx="342.4" cy="236.2" r="0.28"/><circle cx="378.9" cy="219.3" r="0.50"/><circle cx="396.2" cy="216.8" r="0.32"/><circle cx="381.7" cy="213.3" r="0.45"/><circle cx="365.8" cy="226.2" r="0.31"/><circle cx="373.3" cy="221.4" r="0.45"/><circle cx="344.7" cy="229.2" r="0.30"/><circle cx="371.0" cy="225.5" r="0.54"/><circle cx="350.1" cy="235.6" r="0.42"/><circle cx="367.5" cy="226.7" r="0.25"/><circle cx="370.5" cy="221.9" r="0.54"/><circle cx="350.9" cy="236.5" r="0.29"/><circle cx="367.8" cy="221.4" r="0.36"/><circle cx="358.2" cy="227.9" r="0.32"/><circle cx="368.6" cy="220.9" r="0.36"/><circle cx="366.0" cy="222.1" r="0.31"/><circle cx="370.5" cy="228.6" r="0.36"/><circle cx="353.3" cy="225.7" r="0.51"/><circle cx="389.2" cy="219.7" r="0.50"/><circle cx="366.7" cy="226.4" r="0.38"/><circle cx="380.4" cy="224.1" r="0.46"/><circle cx="373.1" cy="224.4" r="0.39"/><circle cx="372.3" cy="226.4" r="0.38"/><circle cx="370.8" cy="225.1" r="0.36"/><circle cx="329.6" cy="240.2" r="0.42"/><circle cx="376.7" cy="223.3" r="0.47"/><circle cx="334.9" cy="232.5" r="0.54"/><circle cx="370.3" cy="222.2" r="0.53"/><circle cx="354.1" cy="229.1" r="0.30"/><circle cx="372.6" cy="220.8" r="0.27"/><circle cx="365.8" cy="236.3" r="0.39"/><circle cx="364.7" cy="224.1" r="0.39"/><circle cx="362.4" cy="229.7" r="0.45"/><circle cx="361.3" cy="228.9" r="0.55"/><circle cx="356.0" cy="229.3" r="0.25"/><circle cx="353.5" cy="225.1" r="0.26"/><circle cx="340.5" cy="235.7" r="0.41"/><circle cx="369.6" cy="229.8" r="0.43"/><circle cx="360.1" cy="225.4" r="0.49"/><circle cx="390.1" cy="214.6" r="0.51"/><circle cx="344.9" cy="240.3" r="0.30"/><circle cx="371.1" cy="230.1" r="0.52"/><circle cx="376.3" cy="223.6" r="0.26"/><circle cx="358.1" cy="229.2" r="0.31"/><circle cx="363.9" cy="219.9" r="0.53"/><circle cx="347.5" cy="236.0" r="0.25"/><circle cx="376.8" cy="220.7" r="0.39"/><circle cx="326.7" cy="238.2" r="0.40"/><circle cx="388.3" cy="217.5" r="0.31"/><circle cx="370.6" cy="221.2" r="0.55"/><circle cx="355.2" cy="230.1" r="0.54"/><circle cx="360.2" cy="231.9" r="0.35"/><circle cx="364.0" cy="225.3" r="0.36"/><circle cx="384.2" cy="226.8" r="0.25"/><circle cx="355.6" cy="226.8" r="0.39"/><circle cx="341.7" cy="231.0" r="0.29"/><circle cx="367.2" cy="227.5" r="0.54"/><circle cx="371.8" cy="225.6" r="0.41"/><circle cx="335.3" cy="231.2" r="0.27"/><circle cx="367.8" cy="227.7" r="0.43"/><circle cx="350.7" cy="232.2" r="0.52"/></g>
<g fill="#20c838" opacity="0.9"><circle cx="353.8" cy="222.6" r="0.68"/><circle cx="356.9" cy="236.8" r="0.46"/><circle cx="366.4" cy="231.0" r="0.34"/><circle cx="361.3" cy="228.8" r="0.42"/><circle cx="365.9" cy="227.0" r="0.47"/><circle cx="350.4" cy="227.3" r="0.62"/><circle cx="355.3" cy="225.1" r="0.35"/><circle cx="358.2" cy="233.6" r="0.53"/><circle cx="360.7" cy="221.4" r="0.68"/><circle cx="358.6" cy="229.8" r="0.66"/><circle cx="355.7" cy="227.6" r="0.58"/><circle cx="357.9" cy="231.1" r="0.45"/><circle cx="352.1" cy="227.7" r="0.33"/><circle cx="357.7" cy="223.6" r="0.49"/><circle cx="354.6" cy="223.0" r="0.30"/><circle cx="352.1" cy="229.3" r="0.58"/><circle cx="356.5" cy="226.7" r="0.68"/><circle cx="358.6" cy="226.0" r="0.47"/><circle cx="360.6" cy="227.9" r="0.46"/><circle cx="366.3" cy="226.7" r="0.39"/><circle cx="357.7" cy="225.2" r="0.57"/><circle cx="358.2" cy="226.7" r="0.39"/><circle cx="358.7" cy="231.2" r="0.31"/><circle cx="360.7" cy="231.2" r="0.47"/><circle cx="362.7" cy="230.7" r="0.68"/><circle cx="354.7" cy="227.0" r="0.58"/><circle cx="355.7" cy="229.3" r="0.49"/><circle cx="364.0" cy="229.1" r="0.36"/><circle cx="351.0" cy="235.0" r="0.61"/><circle cx="360.9" cy="224.2" r="0.55"/><circle cx="355.1" cy="219.7" r="0.38"/><circle cx="358.3" cy="225.6" r="0.40"/><circle cx="360.4" cy="224.2" r="0.64"/><circle cx="361.8" cy="225.2" r="0.38"/><circle cx="362.9" cy="228.9" r="0.59"/><circle cx="357.8" cy="229.8" r="0.30"/><circle cx="360.9" cy="233.3" r="0.30"/><circle cx="358.4" cy="231.2" r="0.58"/><circle cx="358.8" cy="228.4" r="0.35"/><circle cx="367.7" cy="224.8" r="0.36"/><circle cx="355.5" cy="232.2" r="0.43"/><circle cx="354.0" cy="230.5" r="0.40"/><circle cx="359.6" cy="229.0" r="0.36"/><circle cx="362.7" cy="231.2" r="0.58"/><circle cx="357.4" cy="234.7" r="0.59"/></g>
<g fill="#d01828" opacity="0.7"><circle cx="359.8" cy="232.3" r="0.30"/><circle cx="379.3" cy="217.5" r="0.26"/><circle cx="378.8" cy="227.3" r="0.35"/><circle cx="363.0" cy="222.3" r="0.45"/><circle cx="367.1" cy="222.4" r="0.40"/><circle cx="375.3" cy="229.5" r="0.45"/><circle cx="367.1" cy="220.9" r="0.27"/><circle cx="356.0" cy="222.6" r="0.28"/><circle cx="373.7" cy="228.9" r="0.28"/><circle cx="359.0" cy="224.5" r="0.31"/><circle cx="353.5" cy="232.3" r="0.43"/><circle cx="385.9" cy="219.8" r="0.31"/><circle cx="363.8" cy="233.1" r="0.42"/><circle cx="343.8" cy="225.1" r="0.30"/><circle cx="361.4" cy="233.8" r="0.32"/><circle cx="371.8" cy="226.2" r="0.44"/><circle cx="372.8" cy="215.2" r="0.49"/><circle cx="367.6" cy="220.1" r="0.33"/><circle cx="364.7" cy="223.7" r="0.40"/><circle cx="369.6" cy="224.7" r="0.38"/><circle cx="385.6" cy="228.2" r="0.47"/><circle cx="358.3" cy="228.5" r="0.28"/><circle cx="351.0" cy="229.9" r="0.34"/><circle cx="360.9" cy="220.4" r="0.44"/><circle cx="370.1" cy="224.8" r="0.35"/><circle cx="356.8" cy="228.6" r="0.42"/><circle cx="369.3" cy="228.4" r="0.37"/><circle cx="358.3" cy="218.8" r="0.34"/><circle cx="340.6" cy="237.7" r="0.48"/><circle cx="361.2" cy="225.0" r="0.36"/><circle cx="358.5" cy="224.3" r="0.26"/><circle cx="392.3" cy="214.6" r="0.28"/><circle cx="349.8" cy="232.1" r="0.32"/><circle cx="385.7" cy="221.9" r="0.44"/><circle cx="361.5" cy="227.4" r="0.35"/><circle cx="394.6" cy="222.7" r="0.26"/><circle cx="363.7" cy="234.6" r="0.28"/><circle cx="370.1" cy="224.9" r="0.29"/><circle cx="342.6" cy="231.1" r="0.29"/><circle cx="378.1" cy="228.8" r="0.36"/><circle cx="363.4" cy="228.2" r="0.31"/><circle cx="371.9" cy="222.5" r="0.31"/><circle cx="361.1" cy="215.6" r="0.48"/><circle cx="336.4" cy="237.5" r="0.40"/><circle cx="364.5" cy="231.3" r="0.43"/><circle cx="364.5" cy="222.7" r="0.30"/><circle cx="371.4" cy="222.5" r="0.45"/><circle cx="362.1" cy="229.7" r="0.31"/><circle cx="330.1" cy="240.5" r="0.29"/><circle cx="371.5" cy="219.4" r="0.29"/></g>
</g>
</g>
<rect x="384.3" y="161.2" width="40.099999999999966" height="40.30000000000001" fill="#08030c"/>
<clipPath id="cp4"><rect x="384.3" y="161.2" width="40.099999999999966" height="40.30000000000001"/></clipPath><g clip-path="url(#cp4)">
<g filter="url(#b0)">
<g fill="#e01828" opacity="0.85"><circle cx="414.2" cy="175.0" r="0.44"/><circle cx="401.1" cy="194.3" r="0.78"/><circle cx="407.4" cy="161.6" r="0.73"/><circle cx="408.6" cy="197.4" r="0.83"/><circle cx="397.4" cy="195.4" r="0.76"/><circle cx="395.0" cy="175.9" r="0.54"/><circle cx="398.5" cy="176.4" r="0.41"/><circle cx="393.4" cy="197.9" r="0.56"/><circle cx="409.8" cy="197.0" r="0.73"/><circle cx="394.1" cy="198.3" r="0.75"/><circle cx="424.0" cy="190.5" r="0.73"/><circle cx="416.9" cy="171.4" r="0.68"/><circle cx="399.6" cy="195.0" r="0.42"/><circle cx="405.9" cy="174.8" r="0.76"/><circle cx="398.1" cy="195.2" r="0.77"/><circle cx="419.5" cy="166.8" r="0.82"/><circle cx="414.1" cy="188.5" r="0.68"/><circle cx="386.2" cy="196.3" r="0.62"/><circle cx="402.6" cy="174.9" r="0.74"/><circle cx="415.7" cy="196.3" r="0.46"/><circle cx="398.0" cy="171.2" r="0.40"/><circle cx="397.4" cy="162.2" r="0.75"/><circle cx="393.4" cy="164.0" r="0.38"/><circle cx="414.0" cy="169.2" r="0.58"/><circle cx="400.4" cy="193.5" r="0.83"/><circle cx="396.7" cy="186.7" r="0.80"/><circle cx="403.2" cy="197.5" r="0.72"/><circle cx="396.8" cy="196.4" r="0.64"/><circle cx="388.5" cy="184.9" r="0.76"/><circle cx="405.1" cy="180.7" r="0.56"/><circle cx="419.6" cy="188.0" r="0.45"/><circle cx="398.8" cy="175.8" r="0.83"/><circle cx="412.2" cy="166.2" r="0.81"/><circle cx="385.7" cy="185.0" r="0.57"/><circle cx="413.1" cy="178.5" r="0.40"/><circle cx="405.3" cy="194.3" r="0.74"/><circle cx="398.6" cy="170.2" r="0.72"/><circle cx="416.4" cy="170.0" r="0.79"/><circle cx="424.1" cy="178.7" r="0.54"/><circle cx="412.8" cy="198.7" r="0.45"/><circle cx="396.4" cy="174.5" r="0.72"/><circle cx="391.8" cy="183.2" r="0.60"/><circle cx="411.1" cy="167.0" r="0.83"/><circle cx="424.4" cy="183.8" r="0.75"/><circle cx="391.7" cy="197.9" r="0.63"/><circle cx="414.8" cy="196.2" r="0.53"/><circle cx="421.4" cy="169.6" r="0.36"/><circle cx="404.4" cy="197.4" r="0.80"/><circle cx="422.6" cy="181.8" r="0.82"/><circle cx="406.8" cy="167.0" r="0.67"/><circle cx="416.5" cy="178.3" r="0.65"/><circle cx="394.7" cy="172.3" r="0.56"/><circle cx="404.9" cy="180.1" r="0.40"/><circle cx="384.5" cy="174.9" r="0.71"/><circle cx="414.3" cy="170.8" r="0.48"/><circle cx="405.0" cy="168.3" r="0.65"/><circle cx="420.6" cy="169.3" r="0.64"/><circle cx="413.2" cy="191.4" r="0.71"/><circle cx="412.8" cy="172.2" r="0.77"/><circle cx="421.4" cy="163.3" r="0.82"/><circle cx="402.0" cy="164.7" r="0.38"/><circle cx="416.3" cy="188.5" r="0.42"/><circle cx="402.7" cy="186.9" r="0.85"/><circle cx="397.8" cy="192.1" r="0.47"/><circle cx="392.3" cy="167.7" r="0.56"/><circle cx="409.1" cy="173.4" r="0.43"/><circle cx="393.1" cy="164.6" r="0.45"/><circle cx="397.0" cy="181.5" r="0.44"/><circle cx="403.5" cy="178.9" r="0.84"/><circle cx="403.8" cy="199.3" r="0.59"/><circle cx="392.2" cy="185.1" r="0.42"/><circle cx="391.1" cy="164.2" r="0.70"/><circle cx="423.1" cy="177.5" r="0.53"/><circle cx="401.3" cy="175.4" r="0.70"/><circle cx="400.0" cy="167.3" r="0.78"/><circle cx="407.3" cy="161.5" r="0.77"/><circle cx="413.5" cy="175.5" r="0.66"/><circle cx="421.2" cy="177.4" r="0.57"/><circle cx="396.3" cy="183.5" r="0.68"/><circle cx="413.8" cy="199.5" r="0.42"/><circle cx="399.0" cy="195.5" r="0.75"/><circle cx="408.0" cy="188.5" r="0.52"/><circle cx="422.2" cy="183.3" r="0.55"/><circle cx="391.6" cy="165.9" r="0.80"/><circle cx="416.4" cy="162.3" r="0.51"/><circle cx="403.5" cy="181.2" r="0.53"/><circle cx="420.2" cy="175.3" r="0.62"/><circle cx="421.6" cy="187.0" r="0.59"/><circle cx="397.6" cy="176.8" r="0.65"/><circle cx="415.8" cy="171.7" r="0.54"/><circle cx="399.8" cy="175.8" r="0.81"/><circle cx="405.9" cy="172.3" r="0.52"/><circle cx="417.2" cy="167.7" r="0.69"/><circle cx="385.2" cy="169.0" r="0.38"/><circle cx="416.6" cy="167.1" r="0.46"/><circle cx="386.6" cy="171.8" r="0.72"/><circle cx="413.2" cy="197.9" r="0.82"/><circle cx="406.4" cy="198.4" r="0.39"/><circle cx="421.4" cy="178.7" r="0.45"/><circle cx="414.3" cy="195.8" r="0.54"/><circle cx="388.0" cy="196.4" r="0.73"/><circle cx="408.2" cy="200.6" r="0.37"/><circle cx="386.5" cy="166.2" r="0.36"/><circle cx="412.7" cy="186.6" r="0.41"/><circle cx="390.8" cy="168.5" r="0.65"/><circle cx="411.3" cy="200.3" r="0.53"/><circle cx="423.6" cy="178.7" r="0.55"/><circle cx="394.5" cy="170.6" r="0.84"/><circle cx="424.2" cy="189.6" r="0.44"/><circle cx="391.5" cy="167.3" r="0.53"/><circle cx="413.9" cy="163.6" r="0.62"/><circle cx="411.6" cy="162.6" r="0.57"/><circle cx="416.0" cy="184.4" r="0.58"/><circle cx="419.6" cy="185.4" r="0.52"/><circle cx="400.2" cy="199.2" r="0.78"/><circle cx="421.0" cy="183.8" r="0.42"/><circle cx="391.3" cy="176.6" r="0.70"/><circle cx="384.5" cy="193.5" r="0.74"/><circle cx="404.9" cy="161.4" r="0.75"/><circle cx="400.9" cy="188.2" r="0.63"/><circle cx="413.5" cy="177.7" r="0.83"/><circle cx="422.6" cy="198.6" r="0.66"/><circle cx="397.0" cy="176.4" r="0.48"/><circle cx="420.5" cy="193.1" r="0.74"/><circle cx="417.2" cy="201.1" r="0.69"/><circle cx="397.1" cy="191.7" r="0.48"/><circle cx="408.8" cy="167.6" r="0.78"/><circle cx="403.9" cy="172.3" r="0.81"/><circle cx="387.6" cy="198.7" r="0.73"/><circle cx="390.3" cy="191.9" r="0.64"/><circle cx="420.7" cy="184.8" r="0.56"/><circle cx="421.7" cy="164.7" r="0.74"/><circle cx="388.4" cy="172.3" r="0.41"/><circle cx="419.2" cy="179.0" r="0.71"/><circle cx="394.6" cy="190.6" r="0.67"/><circle cx="388.2" cy="181.1" r="0.71"/><circle cx="392.9" cy="187.6" r="0.49"/><circle cx="399.2" cy="198.3" r="0.82"/><circle cx="424.3" cy="178.4" r="0.64"/><circle cx="416.7" cy="191.8" r="0.58"/><circle cx="418.9" cy="177.4" r="0.83"/><circle cx="403.3" cy="166.0" r="0.72"/><circle cx="390.1" cy="188.6" r="0.38"/><circle cx="423.9" cy="183.0" r="0.72"/><circle cx="389.6" cy="186.9" r="0.54"/><circle cx="394.3" cy="194.0" r="0.37"/><circle cx="403.5" cy="164.7" r="0.78"/><circle cx="420.1" cy="162.6" r="0.58"/><circle cx="403.1" cy="190.2" r="0.71"/><circle cx="398.1" cy="198.8" r="0.44"/><circle cx="389.8" cy="194.0" r="0.41"/><circle cx="391.8" cy="181.4" r="0.52"/><circle cx="390.9" cy="198.7" r="0.59"/><circle cx="415.8" cy="171.3" r="0.81"/><circle cx="393.2" cy="197.7" r="0.66"/><circle cx="423.2" cy="192.3" r="0.67"/><circle cx="405.7" cy="195.6" r="0.57"/><circle cx="388.2" cy="198.0" r="0.75"/><circle cx="411.6" cy="191.2" r="0.47"/><circle cx="402.9" cy="194.4" r="0.83"/><circle cx="421.3" cy="167.7" r="0.69"/><circle cx="406.5" cy="177.5" r="0.43"/><circle cx="389.8" cy="180.2" r="0.60"/><circle cx="395.0" cy="176.0" r="0.63"/><circle cx="414.9" cy="185.0" r="0.43"/><circle cx="419.8" cy="176.0" r="0.83"/><circle cx="423.7" cy="166.9" r="0.64"/><circle cx="423.1" cy="176.7" r="0.62"/><circle cx="396.9" cy="162.4" r="0.45"/><circle cx="389.3" cy="172.7" r="0.66"/><circle cx="406.9" cy="199.4" r="0.69"/><circle cx="398.8" cy="199.5" r="0.67"/><circle cx="406.1" cy="196.0" r="0.68"/><circle cx="398.7" cy="185.6" r="0.50"/><circle cx="423.2" cy="171.0" r="0.84"/><circle cx="386.9" cy="161.6" r="0.63"/><circle cx="392.6" cy="181.7" r="0.41"/><circle cx="417.9" cy="188.2" r="0.69"/><circle cx="421.5" cy="201.2" r="0.69"/><circle cx="412.9" cy="161.3" r="0.37"/><circle cx="401.4" cy="200.3" r="0.51"/><circle cx="407.1" cy="161.6" r="0.56"/><circle cx="420.5" cy="185.0" r="0.76"/><circle cx="384.8" cy="169.4" r="0.44"/><circle cx="417.7" cy="165.3" r="0.82"/><circle cx="395.0" cy="196.7" r="0.61"/><circle cx="397.3" cy="200.1" r="0.55"/><circle cx="412.3" cy="163.9" r="0.77"/><circle cx="423.6" cy="165.7" r="0.72"/><circle cx="395.1" cy="167.2" r="0.53"/><circle cx="410.8" cy="199.6" r="0.85"/><circle cx="424.1" cy="186.3" r="0.68"/><circle cx="390.8" cy="190.5" r="0.63"/><circle cx="398.7" cy="197.5" r="0.48"/><circle cx="390.0" cy="167.6" r="0.42"/><circle cx="407.9" cy="193.5" r="0.43"/><circle cx="404.5" cy="184.3" r="0.63"/><circle cx="400.8" cy="183.1" r="0.36"/><circle cx="386.6" cy="178.2" r="0.47"/><circle cx="414.6" cy="170.9" r="0.76"/></g>
<g fill="#3030f0" opacity="0.85"><circle cx="404.4" cy="164.9" r="0.59"/><circle cx="408.2" cy="174.7" r="0.73"/><circle cx="403.9" cy="188.2" r="0.77"/><circle cx="409.9" cy="181.5" r="0.81"/><circle cx="413.9" cy="168.5" r="0.38"/><circle cx="400.2" cy="174.6" r="0.39"/><circle cx="415.1" cy="178.3" r="0.50"/><circle cx="411.5" cy="198.9" r="0.47"/><circle cx="402.1" cy="173.5" r="0.51"/><circle cx="422.0" cy="189.7" r="0.56"/><circle cx="402.4" cy="163.0" r="0.41"/><circle cx="420.4" cy="187.3" r="0.43"/><circle cx="414.5" cy="163.6" r="0.60"/><circle cx="406.9" cy="165.3" r="0.72"/><circle cx="416.9" cy="181.8" r="0.43"/><circle cx="415.7" cy="178.7" r="0.68"/><circle cx="400.4" cy="197.6" r="0.35"/><circle cx="403.9" cy="177.3" r="0.45"/><circle cx="400.3" cy="188.9" r="0.85"/><circle cx="406.8" cy="171.9" r="0.69"/><circle cx="403.9" cy="177.4" r="0.69"/><circle cx="409.4" cy="167.5" r="0.39"/><circle cx="412.3" cy="201.1" r="0.81"/><circle cx="400.6" cy="181.4" r="0.59"/><circle cx="403.1" cy="188.2" r="0.60"/><circle cx="419.4" cy="173.0" r="0.82"/><circle cx="419.5" cy="180.3" r="0.42"/><circle cx="410.8" cy="166.3" r="0.69"/><circle cx="416.4" cy="184.5" r="0.84"/><circle cx="399.2" cy="190.0" r="0.75"/><circle cx="401.0" cy="174.2" r="0.38"/><circle cx="413.4" cy="190.3" r="0.52"/><circle cx="416.4" cy="176.0" r="0.71"/><circle cx="405.3" cy="200.6" r="0.57"/><circle cx="398.1" cy="164.9" r="0.71"/><circle cx="420.8" cy="186.9" r="0.43"/><circle cx="421.0" cy="190.1" r="0.41"/><circle cx="408.0" cy="188.3" r="0.35"/><circle cx="399.1" cy="175.5" r="0.79"/><circle cx="424.3" cy="174.0" r="0.80"/><circle cx="418.8" cy="196.1" r="0.64"/><circle cx="423.6" cy="187.2" r="0.82"/><circle cx="412.9" cy="169.1" r="0.61"/><circle cx="410.8" cy="174.8" r="0.54"/><circle cx="411.5" cy="184.9" r="0.46"/><circle cx="405.3" cy="181.5" r="0.60"/><circle cx="409.1" cy="188.0" r="0.44"/><circle cx="412.0" cy="172.3" r="0.74"/><circle cx="416.6" cy="192.7" r="0.61"/><circle cx="404.6" cy="198.5" r="0.61"/><circle cx="407.9" cy="172.9" r="0.55"/><circle cx="416.7" cy="194.2" r="0.59"/><circle cx="417.3" cy="169.8" r="0.58"/><circle cx="407.4" cy="173.5" r="0.53"/><circle cx="417.9" cy="190.8" r="0.45"/><circle cx="404.2" cy="192.8" r="0.68"/><circle cx="415.9" cy="186.8" r="0.70"/><circle cx="405.2" cy="163.7" r="0.53"/><circle cx="398.9" cy="200.0" r="0.61"/><circle cx="415.7" cy="200.2" r="0.75"/><circle cx="404.1" cy="174.8" r="0.40"/><circle cx="419.0" cy="190.9" r="0.59"/><circle cx="407.7" cy="172.1" r="0.59"/><circle cx="416.8" cy="197.3" r="0.77"/><circle cx="420.9" cy="178.9" r="0.56"/><circle cx="406.3" cy="200.5" r="0.44"/><circle cx="402.2" cy="172.5" r="0.81"/><circle cx="420.5" cy="174.6" r="0.78"/><circle cx="421.5" cy="178.4" r="0.45"/><circle cx="418.4" cy="176.3" r="0.41"/><circle cx="421.8" cy="178.9" r="0.55"/><circle cx="413.7" cy="171.5" r="0.36"/><circle cx="408.3" cy="176.5" r="0.36"/><circle cx="407.8" cy="191.9" r="0.52"/><circle cx="415.9" cy="186.4" r="0.44"/><circle cx="398.5" cy="188.4" r="0.66"/><circle cx="405.8" cy="169.3" r="0.78"/><circle cx="422.0" cy="170.6" r="0.64"/><circle cx="413.2" cy="174.2" r="0.37"/><circle cx="406.6" cy="187.2" r="0.65"/><circle cx="411.5" cy="166.1" r="0.46"/><circle cx="406.2" cy="178.0" r="0.53"/><circle cx="421.8" cy="165.9" r="0.84"/><circle cx="404.3" cy="195.7" r="0.47"/><circle cx="413.5" cy="176.4" r="0.37"/><circle cx="419.0" cy="193.9" r="0.48"/><circle cx="418.5" cy="180.5" r="0.84"/><circle cx="399.4" cy="176.5" r="0.46"/><circle cx="414.5" cy="192.6" r="0.77"/><circle cx="412.5" cy="176.8" r="0.75"/><circle cx="400.8" cy="171.7" r="0.73"/><circle cx="409.6" cy="201.2" r="0.40"/><circle cx="410.2" cy="169.8" r="0.35"/><circle cx="400.5" cy="164.9" r="0.53"/><circle cx="409.4" cy="181.7" r="0.49"/><circle cx="416.5" cy="182.0" r="0.84"/><circle cx="402.5" cy="181.8" r="0.60"/><circle cx="407.8" cy="195.9" r="0.45"/><circle cx="421.2" cy="175.6" r="0.52"/><circle cx="414.2" cy="183.9" r="0.49"/><circle cx="400.2" cy="199.7" r="0.53"/><circle cx="401.0" cy="187.7" r="0.62"/><circle cx="406.6" cy="174.4" r="0.77"/><circle cx="406.9" cy="178.0" r="0.83"/><circle cx="407.5" cy="177.4" r="0.43"/><circle cx="415.5" cy="188.0" r="0.57"/><circle cx="408.7" cy="170.6" r="0.74"/><circle cx="410.1" cy="194.7" r="0.54"/><circle cx="417.4" cy="162.4" r="0.46"/><circle cx="423.4" cy="188.7" r="0.69"/></g>
<ellipse cx="421.5" cy="168" rx="4" ry="7" fill="#3838f0" opacity="0.8" filter="url(#b1)"/>
<g fill="#18b038" opacity="0.8"><circle cx="404.2" cy="180.2" r="0.38"/><circle cx="391.2" cy="187.2" r="0.58"/><circle cx="394.7" cy="187.2" r="0.35"/><circle cx="408.9" cy="168.1" r="0.50"/><circle cx="396.9" cy="183.4" r="0.35"/><circle cx="403.7" cy="186.0" r="0.35"/><circle cx="396.7" cy="188.5" r="0.52"/><circle cx="409.0" cy="192.6" r="0.53"/><circle cx="393.2" cy="179.0" r="0.63"/><circle cx="407.0" cy="191.6" r="0.45"/><circle cx="402.3" cy="200.3" r="0.63"/><circle cx="410.5" cy="165.5" r="0.54"/><circle cx="385.6" cy="198.8" r="0.69"/><circle cx="413.5" cy="172.0" r="0.64"/><circle cx="391.4" cy="194.6" r="0.51"/><circle cx="384.9" cy="197.1" r="0.48"/><circle cx="417.6" cy="188.9" r="0.51"/><circle cx="418.9" cy="169.4" r="0.66"/><circle cx="397.9" cy="162.2" r="0.43"/><circle cx="387.0" cy="164.1" r="0.55"/><circle cx="389.1" cy="167.6" r="0.42"/><circle cx="395.5" cy="198.3" r="0.66"/><circle cx="419.2" cy="201.1" r="0.48"/><circle cx="416.2" cy="172.5" r="0.67"/><circle cx="416.8" cy="190.7" r="0.39"/><circle cx="388.0" cy="198.5" r="0.52"/><circle cx="408.9" cy="195.9" r="0.36"/><circle cx="412.3" cy="179.9" r="0.61"/><circle cx="402.6" cy="169.1" r="0.68"/><circle cx="395.6" cy="191.2" r="0.63"/><circle cx="394.2" cy="189.2" r="0.46"/><circle cx="393.3" cy="170.0" r="0.68"/><circle cx="399.1" cy="181.7" r="0.50"/><circle cx="385.4" cy="191.6" r="0.60"/><circle cx="419.4" cy="175.6" r="0.38"/><circle cx="398.2" cy="190.7" r="0.56"/><circle cx="400.6" cy="182.3" r="0.36"/><circle cx="421.1" cy="180.2" r="0.50"/><circle cx="415.9" cy="169.2" r="0.59"/><circle cx="398.5" cy="193.9" r="0.34"/><circle cx="395.4" cy="186.8" r="0.49"/><circle cx="399.4" cy="184.5" r="0.39"/><circle cx="401.8" cy="161.3" r="0.62"/><circle cx="394.5" cy="194.7" r="0.52"/><circle cx="408.4" cy="186.4" r="0.35"/><circle cx="415.5" cy="173.0" r="0.65"/><circle cx="415.8" cy="188.5" r="0.63"/><circle cx="401.8" cy="188.3" r="0.68"/><circle cx="391.9" cy="165.3" r="0.46"/><circle cx="404.7" cy="167.2" r="0.39"/><circle cx="419.0" cy="176.8" r="0.36"/><circle cx="391.6" cy="184.5" r="0.38"/><circle cx="403.3" cy="182.9" r="0.48"/><circle cx="404.5" cy="194.9" r="0.31"/><circle cx="421.6" cy="169.2" r="0.32"/><circle cx="415.1" cy="184.2" r="0.52"/><circle cx="393.0" cy="192.7" r="0.42"/><circle cx="413.4" cy="170.4" r="0.53"/><circle cx="410.3" cy="176.2" r="0.49"/><circle cx="386.9" cy="187.1" r="0.58"/><circle cx="390.5" cy="183.4" r="0.59"/><circle cx="388.4" cy="195.0" r="0.65"/><circle cx="386.3" cy="171.2" r="0.33"/><circle cx="394.4" cy="164.7" r="0.50"/><circle cx="394.3" cy="173.3" r="0.48"/><circle cx="399.2" cy="193.0" r="0.59"/><circle cx="388.9" cy="170.2" r="0.30"/><circle cx="397.5" cy="165.6" r="0.58"/><circle cx="415.6" cy="201.3" r="0.38"/><circle cx="385.8" cy="191.7" r="0.46"/><circle cx="421.6" cy="177.0" r="0.42"/><circle cx="387.2" cy="199.4" r="0.50"/><circle cx="402.0" cy="178.8" r="0.61"/><circle cx="417.6" cy="180.4" r="0.37"/><circle cx="400.6" cy="197.1" r="0.46"/><circle cx="410.8" cy="183.8" r="0.48"/><circle cx="407.4" cy="171.1" r="0.52"/><circle cx="419.0" cy="164.4" r="0.45"/><circle cx="419.6" cy="200.6" r="0.31"/><circle cx="409.4" cy="186.7" r="0.64"/><circle cx="403.1" cy="166.5" r="0.42"/><circle cx="412.9" cy="190.6" r="0.38"/><circle cx="410.1" cy="187.7" r="0.56"/><circle cx="385.2" cy="179.0" r="0.43"/><circle cx="408.2" cy="174.8" r="0.35"/><circle cx="411.2" cy="172.8" r="0.62"/><circle cx="396.6" cy="183.2" r="0.62"/><circle cx="388.9" cy="190.7" r="0.33"/><circle cx="421.8" cy="162.2" r="0.59"/><circle cx="399.1" cy="168.4" r="0.46"/></g>
<g fill="#40e040" opacity="0.95"><circle cx="393.3" cy="187.9" r="0.49"/><circle cx="394.6" cy="187.3" r="1.08"/><circle cx="394.8" cy="192.3" r="0.56"/><circle cx="405.6" cy="187.0" r="0.85"/><circle cx="403.2" cy="182.8" r="0.93"/><circle cx="399.4" cy="190.8" r="0.43"/><circle cx="387.4" cy="191.8" r="0.54"/><circle cx="389.7" cy="191.7" r="0.59"/><circle cx="404.5" cy="193.9" r="0.70"/><circle cx="412.8" cy="183.2" r="0.57"/><circle cx="393.7" cy="185.7" r="0.42"/><circle cx="386.4" cy="192.6" r="0.61"/><circle cx="391.2" cy="183.1" r="0.44"/><circle cx="402.8" cy="186.7" r="0.61"/><circle cx="399.7" cy="186.8" r="0.66"/><circle cx="405.2" cy="192.9" r="0.41"/><circle cx="402.7" cy="191.5" r="0.46"/><circle cx="403.6" cy="190.1" r="0.76"/><circle cx="407.9" cy="196.4" r="0.69"/><circle cx="399.9" cy="192.5" r="0.99"/><circle cx="410.2" cy="190.9" r="0.47"/><circle cx="406.3" cy="185.9" r="0.82"/><circle cx="402.0" cy="185.9" r="0.44"/><circle cx="397.0" cy="180.5" r="0.90"/><circle cx="398.7" cy="194.9" r="0.53"/><circle cx="395.1" cy="189.9" r="0.81"/><circle cx="398.4" cy="192.6" r="0.85"/><circle cx="410.0" cy="193.5" r="0.75"/><circle cx="400.4" cy="190.9" r="0.76"/><circle cx="389.6" cy="187.8" r="0.66"/><circle cx="388.3" cy="194.6" r="0.59"/><circle cx="413.6" cy="186.5" r="1.09"/><circle cx="404.7" cy="186.4" r="0.97"/><circle cx="396.7" cy="185.4" r="1.10"/><circle cx="392.9" cy="179.3" r="0.79"/><circle cx="411.4" cy="193.7" r="0.52"/><circle cx="399.5" cy="196.3" r="0.54"/><circle cx="390.0" cy="190.2" r="0.47"/><circle cx="398.4" cy="185.6" r="0.73"/><circle cx="394.1" cy="180.6" r="0.43"/><circle cx="406.0" cy="202.2" r="0.67"/><circle cx="394.4" cy="190.6" r="0.89"/><circle cx="399.4" cy="179.3" r="0.68"/><circle cx="392.9" cy="184.9" r="0.53"/><circle cx="416.0" cy="183.1" r="0.94"/><circle cx="407.3" cy="187.7" r="0.99"/><circle cx="400.6" cy="197.9" r="0.90"/><circle cx="411.4" cy="183.7" r="1.02"/><circle cx="398.7" cy="198.5" r="0.73"/><circle cx="397.6" cy="193.3" r="0.96"/><circle cx="406.9" cy="178.3" r="0.87"/><circle cx="401.8" cy="191.1" r="0.80"/><circle cx="401.4" cy="193.3" r="0.47"/><circle cx="405.8" cy="195.9" r="0.56"/><circle cx="403.4" cy="183.6" r="0.99"/><circle cx="398.3" cy="192.5" r="0.68"/><circle cx="406.9" cy="188.5" r="0.67"/><circle cx="412.9" cy="188.9" r="0.66"/><circle cx="416.5" cy="188.0" r="0.56"/><circle cx="400.0" cy="189.3" r="0.47"/><circle cx="397.9" cy="180.3" r="0.75"/><circle cx="400.1" cy="192.9" r="1.08"/><circle cx="386.4" cy="201.0" r="1.02"/><circle cx="408.9" cy="196.2" r="0.41"/><circle cx="397.1" cy="177.4" r="0.89"/><circle cx="388.7" cy="184.6" r="0.51"/><circle cx="395.0" cy="186.8" r="0.68"/><circle cx="403.7" cy="196.8" r="0.80"/><circle cx="401.7" cy="179.7" r="0.82"/><circle cx="410.5" cy="182.8" r="0.80"/></g>
<g fill="#90e030" opacity="0.9"><circle cx="392.8" cy="197.1" r="0.62"/><circle cx="399.9" cy="191.2" r="0.82"/><circle cx="402.2" cy="186.6" r="0.80"/><circle cx="403.4" cy="186.3" r="0.67"/><circle cx="390.4" cy="190.6" r="0.59"/><circle cx="401.3" cy="192.5" r="0.89"/><circle cx="397.1" cy="195.1" r="0.94"/><circle cx="398.5" cy="190.6" r="0.70"/><circle cx="392.1" cy="197.4" r="1.00"/><circle cx="390.3" cy="191.4" r="0.78"/><circle cx="401.9" cy="198.5" r="0.50"/><circle cx="400.9" cy="191.0" r="0.41"/><circle cx="392.9" cy="189.5" r="0.97"/><circle cx="390.3" cy="193.0" r="0.87"/><circle cx="394.5" cy="187.5" r="0.58"/><circle cx="393.0" cy="189.2" r="0.79"/><circle cx="393.5" cy="188.9" r="0.76"/><circle cx="399.7" cy="188.9" r="0.60"/><circle cx="398.8" cy="189.1" r="0.43"/><circle cx="390.3" cy="192.5" r="0.82"/><circle cx="404.4" cy="187.4" r="0.75"/><circle cx="396.4" cy="188.7" r="0.63"/><circle cx="396.6" cy="194.6" r="0.44"/><circle cx="393.3" cy="188.0" r="0.70"/><circle cx="395.5" cy="190.0" r="0.84"/><circle cx="398.7" cy="183.9" r="0.47"/><circle cx="390.4" cy="184.3" r="0.99"/><circle cx="397.1" cy="187.8" r="0.93"/><circle cx="395.4" cy="186.2" r="0.95"/><circle cx="400.9" cy="181.5" r="0.55"/></g>
<g fill="#30d040" opacity="0.9"><circle cx="400.4" cy="169.6" r="0.55"/><circle cx="403.3" cy="166.9" r="0.57"/><circle cx="396.4" cy="169.2" r="0.68"/><circle cx="406.3" cy="169.0" r="0.90"/><circle cx="406.3" cy="171.6" r="0.68"/><circle cx="401.9" cy="163.2" r="0.71"/><circle cx="398.8" cy="171.6" r="0.67"/><circle cx="401.0" cy="164.0" r="0.41"/><circle cx="400.4" cy="176.5" r="0.43"/><circle cx="403.2" cy="170.3" r="0.72"/><circle cx="403.7" cy="168.9" r="0.59"/><circle cx="403.7" cy="175.6" r="0.66"/><circle cx="400.9" cy="169.4" r="0.69"/><circle cx="408.0" cy="169.5" r="0.88"/><circle cx="403.1" cy="174.6" r="0.59"/><circle cx="399.9" cy="175.5" r="0.49"/><circle cx="398.2" cy="169.1" r="0.87"/><circle cx="405.4" cy="171.3" r="0.65"/><circle cx="404.6" cy="170.3" r="0.82"/><circle cx="400.0" cy="173.3" r="0.86"/></g>
</g>
</g>
<rect x="384.90000000000003" y="161.79999999999998" width="38.89999999999996" height="39.10000000000001" fill="none" stroke="#ececec" stroke-width="1.4"/>
<rect x="352.3" y="219.4" width="16.6" height="16" fill="none" stroke="#f2f2f2" stroke-width="1.4"/>
<text x="313.2" y="214" font-size="8.0" text-anchor="middle" font-weight="bold" fill="#000" transform="rotate(-90 313.2 214)">L858R</text>
</g>
<g id="panelH">
<text x="5.1" y="286.7" font-size="13.1" text-anchor="start" font-weight="bold" fill="#000">H</text>
<text x="99.7" y="287.4" font-size="7.2" text-anchor="middle" font-weight="bold" fill="#000">H1264</text>
<line x1="78.90" y1="290.60" x2="120.10" y2="290.60" stroke="#000" stroke-width="1.0"/>
<text x="28.5" y="319.5" font-size="6.5" text-anchor="start" font-weight="bold" fill="#000">EGFR mutation</text>
<text x="89.6" y="322.6" font-size="5.7" text-anchor="start" font-weight="bold" fill="#000" transform="rotate(-44 89.6 322.6)">WT</text>
<text x="100.2" y="322.6" font-size="5.7" text-anchor="start" font-weight="bold" fill="#000" transform="rotate(-44 100.2 322.6)">L858R</text>
<text x="111.4" y="322.6" font-size="5.7" text-anchor="start" font-weight="bold" fill="#000" transform="rotate(-44 111.4 322.6)">L858R+T790M</text>
<rect x="77.90" y="325.20" width="41.40" height="12.80" fill="#e9e9e9" stroke="#111" stroke-width="0.9"/>
<rect x="77.90" y="341.50" width="41.40" height="12.70" fill="#e9e9e9" stroke="#111" stroke-width="0.9"/>
<rect x="77.90" y="358.50" width="41.40" height="12.80" fill="#e9e9e9" stroke="#111" stroke-width="0.9"/>
<rect x="77.90" y="375.30" width="41.40" height="12.80" fill="#e9e9e9" stroke="#111" stroke-width="0.9"/>
<rect x="77.90" y="392.40" width="41.40" height="12.70" fill="#e9e9e9" stroke="#111" stroke-width="0.9"/>
<rect x="77.90" y="409.20" width="41.40" height="12.70" fill="#e9e9e9" stroke="#111" stroke-width="0.9"/>
<rect x="95.70" y="330.80" width="6.00" height="2.40" rx="1.00" fill="#000" opacity="0.3" filter="url(#bb2)"/>
<rect x="104.15" y="328.40" width="9.50" height="6.40" rx="1.00" fill="#000" opacity="1.0" filter="url(#bb)"/>
<rect x="103.65" y="327.90" width="10.50" height="7.40" rx="1.00" fill="#000" opacity="0.5" filter="url(#bb2)"/>
<text x="75.6" y="334.7" font-size="7.5" font-weight="bold" text-anchor="end">p-EGFR<tspan font-size="4.5" dy="-2.7">Tyr1068</tspan></text>
<rect x="85.70" y="347.20" width="5.00" height="2.00" rx="1.00" fill="#000" opacity="0.14" filter="url(#bb2)"/>
<rect x="95.70" y="347.10" width="6.00" height="2.20" rx="1.00" fill="#000" opacity="0.3" filter="url(#bb2)"/>
<rect x="104.40" y="345.70" width="9.00" height="4.20" rx="1.00" fill="#000" opacity="1.0" filter="url(#bb)"/>
<text x="75.6" y="350.8" font-size="7.5" text-anchor="end" font-weight="bold" fill="#000">EGFR</text>
<rect x="84.70" y="363.80" width="7.00" height="2.40" rx="1.00" fill="#000" opacity="0.95" filter="url(#bb)"/>
<rect x="93.50" y="362.70" width="10.40" height="4.60" rx="1.00" fill="#000" opacity="1.0" filter="url(#bb)"/>
<rect x="104.20" y="363.10" width="9.40" height="3.80" rx="1.00" fill="#000" opacity="1.0" filter="url(#bb)"/>
<rect x="115" y="360" width="3.5" height="10.5" fill="#000" opacity="0.15" filter="url(#bb)"/>
<text x="75.6" y="367.8" font-size="7.5" text-anchor="end" font-weight="bold" fill="#000">HRS</text>
<rect x="84.70" y="380.55" width="7.00" height="2.50" rx="1.00" fill="#000" opacity="0.9" filter="url(#bb)"/>
<rect x="95.20" y="380.55" width="7.00" height="2.50" rx="1.00" fill="#000" opacity="0.9" filter="url(#bb)"/>
<rect x="105.40" y="380.55" width="7.00" height="2.50" rx="1.00" fill="#000" opacity="0.9" filter="url(#bb)"/>
<text x="75.6" y="384.59999999999997" font-size="7.5" text-anchor="end" font-weight="bold" fill="#000">ALIX</text>
<rect x="83.70" y="396.90" width="9.00" height="3.80" rx="1.00" fill="#000" opacity="1.0" filter="url(#bb)"/>
<rect x="94.20" y="396.90" width="9.00" height="3.80" rx="1.00" fill="#000" opacity="1.0" filter="url(#bb)"/>
<rect x="104.40" y="396.90" width="9.00" height="3.80" rx="1.00" fill="#000" opacity="1.0" filter="url(#bb)"/>
<text x="75.6" y="401.59999999999997" font-size="7.5" text-anchor="end" font-weight="bold" fill="#000">Rab27a</text>
<rect x="84.40" y="414.05" width="7.60" height="3.10" rx="1.00" fill="#000" opacity="1.0" filter="url(#bb)"/>
<rect x="94.90" y="414.05" width="7.60" height="3.10" rx="1.00" fill="#000" opacity="1.0" filter="url(#bb)"/>
<rect x="105.10" y="414.05" width="7.60" height="3.10" rx="1.00" fill="#000" opacity="1.0" filter="url(#bb)"/>
<text x="75.6" y="418.4" font-size="7.5" text-anchor="end" font-weight="bold" fill="#000">β-actin</text>
</g>
<g id="panelI">
<text x="146.8" y="286.7" font-size="13.1" text-anchor="start" font-weight="bold" fill="#000">I</text>
<line x1="183.30" y1="303.25" x2="183.30" y2="391.95" stroke="#000" stroke-width="1.15"/>
<line x1="182.85" y1="391.50" x2="243.30" y2="391.50" stroke="#000" stroke-width="1.15"/>
<line x1="180.40" y1="391.50" x2="183.30" y2="391.50" stroke="#000" stroke-width="1.15"/>
<text x="179.6" y="393.876" font-size="6.6" text-anchor="end" font-weight="bold" fill="#000">0</text>
<line x1="180.40" y1="369.55" x2="183.30" y2="369.55" stroke="#000" stroke-width="1.15"/>
<text x="179.6" y="371.926" font-size="6.6" text-anchor="end" font-weight="bold" fill="#000">1</text>
<line x1="180.40" y1="347.60" x2="183.30" y2="347.60" stroke="#000" stroke-width="1.15"/>
<text x="179.6" y="349.976" font-size="6.6" text-anchor="end" font-weight="bold" fill="#000">2</text>
<line x1="180.40" y1="325.65" x2="183.30" y2="325.65" stroke="#000" stroke-width="1.15"/>
<text x="179.6" y="328.02599999999995" font-size="6.6" text-anchor="end" font-weight="bold" fill="#000">3</text>
<line x1="180.40" y1="303.70" x2="183.30" y2="303.70" stroke="#000" stroke-width="1.15"/>
<text x="179.6" y="306.07599999999996" font-size="6.6" text-anchor="end" font-weight="bold" fill="#000">4</text>
<line x1="195.90" y1="391.50" x2="195.90" y2="394.40" stroke="#000" stroke-width="1.15"/>
<line x1="213.50" y1="391.50" x2="213.50" y2="394.40" stroke="#000" stroke-width="1.15"/>
<line x1="230.90" y1="391.50" x2="230.90" y2="394.40" stroke="#000" stroke-width="1.15"/>
<rect x="190.60" y="368.45" width="10.60" height="23.05" fill="#b5efb5" stroke="#12a512" stroke-width="1.3"/>
<rect x="207.90" y="358.57" width="11.20" height="32.93" fill="#fddada" stroke="#fa1e1e" stroke-width="1.3"/>
<rect x="225.40" y="328.28" width="11.00" height="63.22" fill="#c9d8fb" stroke="#1f2ff5" stroke-width="1.3"/>
<line x1="195.90" y1="365.82" x2="195.90" y2="371.31" stroke="#12a512" stroke-width="1.15"/>
<line x1="193.30" y1="365.82" x2="198.50" y2="365.82" stroke="#12a512" stroke-width="1.15"/>
<line x1="213.50" y1="353.75" x2="213.50" y2="362.96" stroke="#fa1e1e" stroke-width="1.15"/>
<line x1="210.90" y1="353.75" x2="216.10" y2="353.75" stroke="#fa1e1e" stroke-width="1.15"/>
<line x1="230.90" y1="322.80" x2="230.90" y2="333.33" stroke="#1f2ff5" stroke-width="1.15"/>
<line x1="228.30" y1="322.80" x2="233.50" y2="322.80" stroke="#1f2ff5" stroke-width="1.15"/>
<circle cx="192.00" cy="367.60" r="1.6" fill="#fff" stroke="#12a512" stroke-width="1.15"/>
<circle cx="195.80" cy="367.00" r="1.6" fill="#fff" stroke="#12a512" stroke-width="1.15"/>
<circle cx="199.40" cy="367.60" r="1.6" fill="#fff" stroke="#12a512" stroke-width="1.15"/>
<circle cx="196.00" cy="372.30" r="1.6" fill="#fff" stroke="#12a512" stroke-width="1.15"/>
<circle cx="213.30" cy="353.75" r="1.75" fill="#fff" stroke="#fa1e1e" stroke-width="1.15"/>
<circle cx="210.30" cy="361.65" r="1.75" fill="#fff" stroke="#fa1e1e" stroke-width="1.15"/>
<circle cx="216.80" cy="359.67" r="1.75" fill="#fff" stroke="#fa1e1e" stroke-width="1.15"/>
<circle cx="230.90" cy="323.45" r="1.75" fill="#fff" stroke="#1f2ff5" stroke-width="1.15"/>
<circle cx="230.90" cy="328.28" r="1.75" fill="#fff" stroke="#1f2ff5" stroke-width="1.15"/>
<circle cx="230.90" cy="332.67" r="1.75" fill="#fff" stroke="#1f2ff5" stroke-width="1.15"/>
<path d="M196.20 306.70 V302.00 H231.00 V306.70" fill="none" stroke="#000" stroke-width="1.3" stroke-linejoin="round"/>
<text x="214" y="297.9" font-size="7.1" text-anchor="middle" font-weight="bold"><tspan font-style="italic">P</tspan> = 0.0001</text>
<path d="M196.20 323.80 V318.80 H213.50 V323.80" fill="none" stroke="#000" stroke-width="1.3" stroke-linejoin="round"/>
<text x="206.3" y="315.2" font-size="7.1" text-anchor="middle" font-weight="bold"><tspan font-style="italic">P</tspan> = 0.0287</text>
<text x="172.6" y="349" font-size="7.15" text-anchor="middle" font-weight="bold" fill="#000" transform="rotate(-90 172.6 349)">Relative mRNA expression of Hrs</text>
<text x="198.6" y="400.4" font-size="6.8" text-anchor="end" font-weight="bold" fill="#000" transform="rotate(-45 198.6 400.4)">WT</text>
<text x="216.1" y="400.4" font-size="6.8" text-anchor="end" font-weight="bold" fill="#000" transform="rotate(-45 216.1 400.4)">L858R</text>
<text x="233.6" y="400.4" font-size="6.8" text-anchor="end" font-weight="bold" fill="#000" transform="rotate(-45 233.6 400.4)">L858R+T790M</text>
</g>
<g id="panelJ">
<text x="252.8" y="286.9" font-size="13.1" text-anchor="start" font-weight="bold" fill="#000">J</text>
<text x="341.3" y="292.9" font-size="8.8" font-weight="bold" text-anchor="middle"><tspan fill="#1f74d2" style="stroke:#1f74d2;stroke-width:.22px">DAPI</tspan><tspan fill="#111" style="stroke:#111;stroke-width:.22px">/</tspan><tspan fill="#12963c" style="stroke:#12963c;stroke-width:.22px">HRS</tspan><tspan fill="#111" style="stroke:#111;stroke-width:.22px">/</tspan><tspan fill="#ee1c24" style="stroke:#ee1c24;stroke-width:.22px">PD-L1</tspan></text>
<rect x="278.1" y="296.6" width="112.89999999999998" height="112.0" fill="#080206"/>
<clipPath id="cp5"><rect x="278.1" y="296.6" width="112.89999999999998" height="112.0"/></clipPath><g clip-path="url(#cp5)">
<g filter="url(#b0)">
<g fill="#a81030" opacity="0.32"><circle cx="285.4" cy="333.5" r="0.29"/><circle cx="293.2" cy="330.6" r="0.43"/><circle cx="343.6" cy="310.2" r="0.45"/><circle cx="335.4" cy="312.6" r="0.46"/><circle cx="370.8" cy="320.9" r="0.48"/><circle cx="369.6" cy="322.3" r="0.25"/><circle cx="376.0" cy="389.1" r="0.27"/><circle cx="364.6" cy="383.2" r="0.41"/><circle cx="372.1" cy="406.9" r="0.33"/><circle cx="372.3" cy="399.7" r="0.33"/><circle cx="355.3" cy="373.2" r="0.46"/><circle cx="342.1" cy="327.5" r="0.31"/><circle cx="339.4" cy="311.8" r="0.46"/><circle cx="378.5" cy="323.7" r="0.42"/><circle cx="354.1" cy="310.2" r="0.44"/><circle cx="364.6" cy="330.9" r="0.27"/><circle cx="309.9" cy="383.0" r="0.37"/><circle cx="370.2" cy="314.5" r="0.28"/><circle cx="317.5" cy="395.1" r="0.29"/><circle cx="286.4" cy="380.9" r="0.27"/><circle cx="353.5" cy="305.9" r="0.31"/><circle cx="353.0" cy="394.4" r="0.35"/><circle cx="328.9" cy="300.1" r="0.34"/><circle cx="305.4" cy="384.9" r="0.43"/><circle cx="366.7" cy="356.2" r="0.42"/><circle cx="292.5" cy="339.7" r="0.32"/><circle cx="310.0" cy="379.4" r="0.30"/><circle cx="314.8" cy="328.2" r="0.47"/><circle cx="350.2" cy="350.4" r="0.34"/><circle cx="382.2" cy="401.8" r="0.36"/><circle cx="342.1" cy="393.2" r="0.31"/><circle cx="307.3" cy="308.1" r="0.38"/><circle cx="364.9" cy="314.1" r="0.36"/><circle cx="389.9" cy="350.5" r="0.35"/><circle cx="372.9" cy="396.5" r="0.34"/><circle cx="292.0" cy="367.9" r="0.44"/><circle cx="382.3" cy="370.5" r="0.33"/><circle cx="336.2" cy="328.8" r="0.36"/><circle cx="331.0" cy="398.8" r="0.48"/><circle cx="382.7" cy="350.1" r="0.49"/><circle cx="293.8" cy="399.8" r="0.41"/><circle cx="376.6" cy="342.9" r="0.50"/><circle cx="280.9" cy="391.6" r="0.45"/><circle cx="320.3" cy="389.4" r="0.30"/><circle cx="363.1" cy="349.1" r="0.35"/><circle cx="300.3" cy="386.2" r="0.43"/><circle cx="288.1" cy="406.1" r="0.31"/><circle cx="320.5" cy="343.0" r="0.39"/><circle cx="378.6" cy="402.5" r="0.41"/><circle cx="319.4" cy="308.6" r="0.27"/><circle cx="336.7" cy="361.9" r="0.36"/><circle cx="389.0" cy="342.9" r="0.34"/><circle cx="325.3" cy="315.8" r="0.48"/><circle cx="344.8" cy="357.4" r="0.36"/><circle cx="306.3" cy="331.9" r="0.37"/><circle cx="328.5" cy="406.3" r="0.39"/><circle cx="301.5" cy="302.6" r="0.29"/><circle cx="317.1" cy="384.2" r="0.47"/><circle cx="304.8" cy="384.0" r="0.36"/><circle cx="338.8" cy="356.3" r="0.26"/><circle cx="285.6" cy="371.4" r="0.42"/><circle cx="321.0" cy="399.5" r="0.45"/><circle cx="312.2" cy="304.1" r="0.39"/><circle cx="352.0" cy="321.7" r="0.26"/><circle cx="333.1" cy="300.4" r="0.43"/><circle cx="348.7" cy="327.9" r="0.36"/><circle cx="304.4" cy="317.4" r="0.30"/><circle cx="370.2" cy="347.4" r="0.43"/><circle cx="317.3" cy="387.0" r="0.40"/><circle cx="351.9" cy="340.6" r="0.39"/><circle cx="299.6" cy="405.7" r="0.42"/><circle cx="338.2" cy="368.1" r="0.28"/><circle cx="315.9" cy="322.4" r="0.46"/><circle cx="279.6" cy="346.4" r="0.47"/><circle cx="366.5" cy="377.1" r="0.33"/><circle cx="304.3" cy="375.5" r="0.32"/><circle cx="359.7" cy="335.8" r="0.44"/><circle cx="342.8" cy="387.9" r="0.50"/><circle cx="320.8" cy="407.1" r="0.25"/><circle cx="377.1" cy="299.9" r="0.39"/><circle cx="321.9" cy="382.8" r="0.33"/><circle cx="301.6" cy="384.4" r="0.39"/><circle cx="363.4" cy="351.4" r="0.26"/><circle cx="365.2" cy="321.0" r="0.37"/><circle cx="278.2" cy="325.6" r="0.42"/><circle cx="364.4" cy="367.9" r="0.36"/><circle cx="360.8" cy="371.5" r="0.30"/><circle cx="338.5" cy="363.6" r="0.43"/><circle cx="300.4" cy="331.4" r="0.34"/><circle cx="288.9" cy="335.6" r="0.43"/><circle cx="343.3" cy="316.0" r="0.43"/><circle cx="291.3" cy="380.7" r="0.29"/><circle cx="289.0" cy="324.8" r="0.38"/><circle cx="308.6" cy="395.6" r="0.48"/><circle cx="310.1" cy="380.6" r="0.42"/><circle cx="341.5" cy="325.2" r="0.49"/><circle cx="386.1" cy="298.1" r="0.33"/><circle cx="314.3" cy="318.8" r="0.36"/><circle cx="379.5" cy="299.3" r="0.46"/><circle cx="313.0" cy="298.1" r="0.47"/><circle cx="308.8" cy="320.4" r="0.28"/><circle cx="319.6" cy="310.0" r="0.29"/><circle cx="306.3" cy="361.4" r="0.36"/><circle cx="312.5" cy="355.5" r="0.44"/><circle cx="359.8" cy="335.1" r="0.48"/><circle cx="367.4" cy="359.5" r="0.37"/><circle cx="315.3" cy="311.6" r="0.47"/><circle cx="346.8" cy="307.6" r="0.48"/><circle cx="378.3" cy="300.4" r="0.43"/><circle cx="305.0" cy="356.6" r="0.46"/><circle cx="317.7" cy="352.4" r="0.42"/><circle cx="299.8" cy="366.8" r="0.36"/><circle cx="389.0" cy="317.6" r="0.43"/><circle cx="282.7" cy="327.3" r="0.28"/><circle cx="294.9" cy="355.8" r="0.29"/><circle cx="367.8" cy="307.4" r="0.41"/><circle cx="375.3" cy="310.8" r="0.30"/><circle cx="364.5" cy="349.3" r="0.48"/><circle cx="316.3" cy="341.2" r="0.49"/><circle cx="316.9" cy="404.8" r="0.47"/><circle cx="300.7" cy="357.7" r="0.49"/><circle cx="291.4" cy="391.7" r="0.44"/><circle cx="362.7" cy="363.9" r="0.27"/><circle cx="386.3" cy="308.1" r="0.45"/><circle cx="359.8" cy="332.1" r="0.42"/><circle cx="324.5" cy="380.7" r="0.26"/><circle cx="383.5" cy="339.7" r="0.45"/><circle cx="331.3" cy="387.6" r="0.33"/><circle cx="339.6" cy="299.4" r="0.37"/><circle cx="287.0" cy="392.8" r="0.42"/><circle cx="326.1" cy="405.7" r="0.49"/><circle cx="386.1" cy="305.8" r="0.43"/><circle cx="360.2" cy="364.5" r="0.25"/><circle cx="382.4" cy="345.7" r="0.40"/><circle cx="370.1" cy="327.4" r="0.26"/><circle cx="382.3" cy="326.9" r="0.26"/><circle cx="293.5" cy="408.0" r="0.43"/><circle cx="301.8" cy="313.0" r="0.47"/><circle cx="353.2" cy="361.9" r="0.28"/><circle cx="324.8" cy="402.6" r="0.25"/><circle cx="325.4" cy="303.0" r="0.50"/><circle cx="289.9" cy="403.4" r="0.46"/><circle cx="360.7" cy="301.3" r="0.42"/><circle cx="333.8" cy="351.6" r="0.29"/><circle cx="335.9" cy="386.4" r="0.28"/><circle cx="377.0" cy="343.6" r="0.32"/><circle cx="305.1" cy="348.1" r="0.41"/><circle cx="342.4" cy="396.3" r="0.38"/><circle cx="336.0" cy="407.4" r="0.30"/><circle cx="280.0" cy="333.4" r="0.33"/><circle cx="292.1" cy="343.4" r="0.26"/><circle cx="382.1" cy="350.8" r="0.47"/><circle cx="356.8" cy="378.3" r="0.44"/><circle cx="312.2" cy="378.3" r="0.30"/><circle cx="340.7" cy="363.3" r="0.44"/><circle cx="297.0" cy="335.1" r="0.46"/><circle cx="368.9" cy="406.1" r="0.28"/><circle cx="301.8" cy="308.5" r="0.43"/><circle cx="362.3" cy="369.2" r="0.44"/><circle cx="336.4" cy="359.6" r="0.48"/><circle cx="351.3" cy="370.1" r="0.40"/><circle cx="333.9" cy="381.4" r="0.39"/><circle cx="292.7" cy="344.3" r="0.36"/><circle cx="326.9" cy="359.4" r="0.34"/><circle cx="322.3" cy="344.4" r="0.34"/><circle cx="387.8" cy="306.7" r="0.25"/><circle cx="359.6" cy="340.9" r="0.36"/><circle cx="344.9" cy="337.7" r="0.31"/><circle cx="279.8" cy="394.5" r="0.48"/><circle cx="310.4" cy="348.7" r="0.33"/><circle cx="284.7" cy="396.6" r="0.46"/><circle cx="305.3" cy="325.1" r="0.42"/><circle cx="368.1" cy="349.2" r="0.35"/><circle cx="304.5" cy="386.0" r="0.47"/><circle cx="375.0" cy="309.4" r="0.40"/><circle cx="389.3" cy="376.7" r="0.36"/><circle cx="294.5" cy="303.4" r="0.43"/><circle cx="285.8" cy="387.2" r="0.42"/><circle cx="331.6" cy="396.5" r="0.48"/><circle cx="347.7" cy="307.8" r="0.40"/><circle cx="325.6" cy="324.6" r="0.48"/><circle cx="360.5" cy="310.2" r="0.31"/><circle cx="316.8" cy="360.8" r="0.33"/><circle cx="327.7" cy="387.7" r="0.30"/><circle cx="359.4" cy="333.6" r="0.49"/><circle cx="385.6" cy="333.3" r="0.40"/><circle cx="290.6" cy="342.6" r="0.41"/><circle cx="350.1" cy="335.0" r="0.26"/><circle cx="292.1" cy="359.4" r="0.29"/><circle cx="312.7" cy="365.9" r="0.48"/><circle cx="336.3" cy="325.1" r="0.40"/><circle cx="309.2" cy="384.2" r="0.29"/><circle cx="307.7" cy="345.7" r="0.48"/><circle cx="296.8" cy="318.1" r="0.28"/><circle cx="302.2" cy="333.8" r="0.35"/><circle cx="363.9" cy="341.8" r="0.37"/><circle cx="322.9" cy="383.3" r="0.48"/><circle cx="326.1" cy="399.8" r="0.31"/><circle cx="388.5" cy="355.4" r="0.42"/><circle cx="321.2" cy="327.0" r="0.28"/><circle cx="378.1" cy="336.9" r="0.42"/><circle cx="330.1" cy="355.6" r="0.30"/><circle cx="298.1" cy="334.3" r="0.42"/><circle cx="339.4" cy="296.9" r="0.43"/><circle cx="327.0" cy="304.3" r="0.31"/><circle cx="302.0" cy="388.8" r="0.39"/><circle cx="315.0" cy="324.4" r="0.32"/><circle cx="309.7" cy="335.4" r="0.45"/><circle cx="367.1" cy="374.8" r="0.47"/><circle cx="351.9" cy="309.3" r="0.26"/><circle cx="296.6" cy="325.5" r="0.38"/><circle cx="370.9" cy="362.2" r="0.36"/><circle cx="305.4" cy="406.6" r="0.44"/><circle cx="316.6" cy="301.7" r="0.50"/><circle cx="307.0" cy="391.5" r="0.28"/><circle cx="351.8" cy="336.5" r="0.47"/><circle cx="311.6" cy="307.9" r="0.30"/><circle cx="369.1" cy="406.2" r="0.41"/><circle cx="355.1" cy="328.2" r="0.32"/><circle cx="287.9" cy="406.9" r="0.26"/><circle cx="347.2" cy="335.8" r="0.30"/><circle cx="327.3" cy="400.8" r="0.31"/><circle cx="296.7" cy="367.1" r="0.41"/><circle cx="335.8" cy="316.7" r="0.47"/><circle cx="290.6" cy="316.1" r="0.31"/><circle cx="336.1" cy="350.0" r="0.39"/><circle cx="360.2" cy="396.7" r="0.37"/><circle cx="282.8" cy="389.7" r="0.25"/><circle cx="314.0" cy="312.6" r="0.40"/><circle cx="366.4" cy="311.0" r="0.32"/><circle cx="374.2" cy="373.8" r="0.28"/><circle cx="355.6" cy="385.5" r="0.35"/><circle cx="295.6" cy="370.4" r="0.33"/><circle cx="293.2" cy="315.0" r="0.35"/><circle cx="292.4" cy="339.7" r="0.39"/><circle cx="340.4" cy="341.8" r="0.45"/><circle cx="288.0" cy="333.5" r="0.48"/><circle cx="375.7" cy="399.7" r="0.44"/><circle cx="338.6" cy="384.8" r="0.39"/><circle cx="291.4" cy="325.2" r="0.27"/><circle cx="376.9" cy="332.7" r="0.35"/><circle cx="338.9" cy="307.9" r="0.43"/><circle cx="367.9" cy="385.8" r="0.47"/><circle cx="313.9" cy="312.9" r="0.44"/><circle cx="356.4" cy="338.2" r="0.34"/><circle cx="295.4" cy="389.8" r="0.37"/><circle cx="369.8" cy="334.6" r="0.33"/><circle cx="336.0" cy="380.1" r="0.47"/><circle cx="318.0" cy="374.3" r="0.35"/><circle cx="375.4" cy="381.7" r="0.39"/><circle cx="319.0" cy="327.3" r="0.47"/><circle cx="368.5" cy="330.8" r="0.27"/><circle cx="300.1" cy="404.6" r="0.26"/><circle cx="369.5" cy="355.8" r="0.39"/><circle cx="339.0" cy="342.5" r="0.39"/><circle cx="288.3" cy="399.6" r="0.28"/><circle cx="293.8" cy="371.9" r="0.41"/><circle cx="369.2" cy="374.2" r="0.48"/><circle cx="283.9" cy="297.8" r="0.31"/><circle cx="366.0" cy="313.7" r="0.38"/><circle cx="365.1" cy="314.1" r="0.38"/><circle cx="379.8" cy="380.3" r="0.35"/><circle cx="332.2" cy="327.7" r="0.49"/><circle cx="366.5" cy="372.8" r="0.33"/><circle cx="360.7" cy="351.1" r="0.45"/><circle cx="319.2" cy="395.3" r="0.42"/><circle cx="329.0" cy="359.6" r="0.45"/><circle cx="337.8" cy="404.1" r="0.25"/><circle cx="379.4" cy="376.6" r="0.37"/><circle cx="374.1" cy="313.3" r="0.33"/><circle cx="358.7" cy="388.8" r="0.34"/><circle cx="390.3" cy="369.2" r="0.26"/><circle cx="292.0" cy="305.2" r="0.39"/><circle cx="314.4" cy="325.8" r="0.36"/><circle cx="286.9" cy="398.4" r="0.46"/><circle cx="341.2" cy="346.4" r="0.33"/><circle cx="346.2" cy="335.4" r="0.49"/><circle cx="386.0" cy="378.0" r="0.46"/><circle cx="286.6" cy="310.5" r="0.34"/><circle cx="292.3" cy="343.9" r="0.50"/><circle cx="372.3" cy="404.0" r="0.31"/><circle cx="303.1" cy="299.2" r="0.32"/><circle cx="284.5" cy="355.8" r="0.33"/><circle cx="354.2" cy="359.4" r="0.40"/><circle cx="312.0" cy="378.9" r="0.42"/><circle cx="358.7" cy="349.4" r="0.37"/><circle cx="310.4" cy="301.1" r="0.37"/><circle cx="347.7" cy="317.4" r="0.47"/><circle cx="377.3" cy="392.2" r="0.45"/><circle cx="333.2" cy="316.3" r="0.32"/><circle cx="361.4" cy="406.9" r="0.28"/><circle cx="278.8" cy="336.2" r="0.34"/><circle cx="345.6" cy="309.2" r="0.46"/><circle cx="316.3" cy="398.4" r="0.33"/><circle cx="312.6" cy="316.3" r="0.49"/><circle cx="344.7" cy="389.1" r="0.27"/><circle cx="339.4" cy="378.7" r="0.50"/><circle cx="383.8" cy="308.2" r="0.34"/><circle cx="390.9" cy="356.5" r="0.49"/><circle cx="306.7" cy="299.5" r="0.49"/></g>
<ellipse cx="338" cy="360" rx="30" ry="28" fill="#0c3a10" opacity="0.25" filter="url(#b3)"/>
<ellipse cx="345.7" cy="356.4" rx="12.9" ry="12.4" fill="#2a24ac" filter="url(#b1)" transform="rotate(0 345.7 356.4)"/>
<g fill="#7a2cc0" opacity="0.6"><circle cx="345.0" cy="364.3" r="0.58"/><circle cx="332.4" cy="349.6" r="0.87"/><circle cx="349.3" cy="353.1" r="0.81"/><circle cx="352.3" cy="357.1" r="0.87"/><circle cx="345.5" cy="362.3" r="0.69"/><circle cx="346.6" cy="366.1" r="0.73"/><circle cx="357.7" cy="364.2" r="0.44"/><circle cx="343.7" cy="351.0" r="0.47"/><circle cx="365.6" cy="366.6" r="0.80"/><circle cx="334.6" cy="359.2" r="0.88"/><circle cx="352.8" cy="353.0" r="0.54"/><circle cx="327.6" cy="354.4" r="0.77"/><circle cx="339.7" cy="346.0" r="0.60"/><circle cx="334.0" cy="352.0" r="0.50"/><circle cx="346.6" cy="355.3" r="0.67"/><circle cx="342.5" cy="354.8" r="0.86"/><circle cx="341.9" cy="357.9" r="0.61"/><circle cx="340.0" cy="352.8" r="0.40"/><circle cx="354.2" cy="361.8" r="0.47"/><circle cx="345.3" cy="367.6" r="0.83"/><circle cx="348.6" cy="353.8" r="0.40"/><circle cx="345.9" cy="348.0" r="0.58"/><circle cx="352.5" cy="357.2" r="0.52"/><circle cx="330.3" cy="347.3" r="0.50"/><circle cx="354.5" cy="360.7" r="0.45"/><circle cx="346.9" cy="363.0" r="0.89"/><circle cx="343.2" cy="361.2" r="0.64"/><circle cx="349.1" cy="361.8" r="0.75"/><circle cx="340.5" cy="366.3" r="0.49"/><circle cx="353.0" cy="361.6" r="0.63"/><circle cx="348.3" cy="355.0" r="0.77"/><circle cx="342.7" cy="351.2" r="0.46"/><circle cx="337.4" cy="349.6" r="0.64"/><circle cx="336.0" cy="358.0" r="0.70"/><circle cx="342.0" cy="358.2" r="0.63"/><circle cx="332.6" cy="352.3" r="0.90"/><circle cx="340.3" cy="354.5" r="0.51"/><circle cx="338.5" cy="349.0" r="0.52"/><circle cx="336.8" cy="334.6" r="0.60"/><circle cx="352.1" cy="353.9" r="0.73"/><circle cx="348.6" cy="353.3" r="0.57"/><circle cx="348.1" cy="356.2" r="0.55"/><circle cx="335.2" cy="357.9" r="0.72"/><circle cx="354.4" cy="352.5" r="0.40"/><circle cx="347.3" cy="357.1" r="0.62"/><circle cx="353.5" cy="357.7" r="0.72"/><circle cx="349.5" cy="368.1" r="0.61"/><circle cx="351.6" cy="354.9" r="0.71"/><circle cx="340.8" cy="355.1" r="0.79"/><circle cx="350.6" cy="356.5" r="0.56"/></g>
<g fill="#4a48f0" opacity="0.6"><circle cx="351.3" cy="351.5" r="0.42"/><circle cx="343.0" cy="364.5" r="0.80"/><circle cx="354.4" cy="363.2" r="0.60"/><circle cx="339.0" cy="355.4" r="0.62"/><circle cx="360.1" cy="355.6" r="0.86"/><circle cx="344.8" cy="346.8" r="0.47"/><circle cx="357.6" cy="359.0" r="0.74"/><circle cx="341.9" cy="352.5" r="0.53"/><circle cx="352.7" cy="352.8" r="0.41"/><circle cx="342.5" cy="361.2" r="0.43"/><circle cx="359.5" cy="354.6" r="0.81"/><circle cx="352.4" cy="356.6" r="0.46"/><circle cx="343.9" cy="345.2" r="0.79"/><circle cx="346.5" cy="353.4" r="0.41"/><circle cx="356.0" cy="363.0" r="0.81"/><circle cx="341.0" cy="355.9" r="0.83"/><circle cx="349.9" cy="360.2" r="0.40"/><circle cx="352.3" cy="355.7" r="0.79"/><circle cx="348.4" cy="348.6" r="0.89"/><circle cx="348.0" cy="342.4" r="0.88"/><circle cx="355.1" cy="361.5" r="0.51"/><circle cx="343.0" cy="361.5" r="0.89"/><circle cx="352.1" cy="358.9" r="0.46"/><circle cx="353.3" cy="356.3" r="0.75"/><circle cx="334.8" cy="355.1" r="0.57"/></g>
<g fill="#159a2c" opacity="0.7"><circle cx="317.8" cy="373.0" r="0.55"/><circle cx="348.8" cy="353.2" r="0.60"/><circle cx="337.4" cy="342.8" r="0.44"/><circle cx="333.5" cy="358.7" r="0.33"/><circle cx="336.1" cy="367.7" r="0.32"/><circle cx="334.0" cy="338.8" r="0.52"/><circle cx="345.6" cy="382.5" r="0.59"/><circle cx="331.1" cy="354.2" r="0.50"/><circle cx="329.6" cy="367.8" r="0.35"/><circle cx="353.0" cy="346.1" r="0.63"/><circle cx="344.5" cy="370.7" r="0.48"/><circle cx="350.9" cy="365.3" r="0.49"/><circle cx="306.3" cy="364.5" r="0.50"/><circle cx="326.1" cy="346.9" r="0.57"/><circle cx="338.6" cy="361.4" r="0.64"/><circle cx="341.1" cy="354.0" r="0.34"/><circle cx="342.8" cy="381.2" r="0.35"/><circle cx="356.4" cy="363.0" r="0.30"/><circle cx="338.2" cy="374.7" r="0.37"/><circle cx="350.6" cy="361.2" r="0.39"/><circle cx="332.0" cy="373.9" r="0.43"/><circle cx="337.7" cy="363.5" r="0.59"/><circle cx="337.7" cy="344.7" r="0.30"/><circle cx="342.4" cy="390.9" r="0.46"/><circle cx="346.7" cy="385.9" r="0.61"/><circle cx="351.7" cy="372.5" r="0.50"/><circle cx="348.7" cy="369.3" r="0.52"/><circle cx="329.2" cy="343.5" r="0.52"/><circle cx="334.9" cy="364.7" r="0.31"/><circle cx="354.7" cy="337.1" r="0.62"/><circle cx="361.8" cy="372.0" r="0.36"/><circle cx="333.3" cy="368.7" r="0.60"/><circle cx="350.9" cy="337.0" r="0.43"/><circle cx="349.7" cy="356.8" r="0.50"/><circle cx="333.9" cy="351.9" r="0.43"/><circle cx="360.6" cy="375.7" r="0.36"/><circle cx="346.9" cy="369.5" r="0.52"/><circle cx="327.1" cy="348.0" r="0.60"/><circle cx="339.2" cy="351.4" r="0.49"/><circle cx="344.4" cy="370.1" r="0.35"/><circle cx="351.3" cy="367.0" r="0.61"/><circle cx="335.4" cy="356.0" r="0.38"/><circle cx="323.5" cy="351.6" r="0.31"/><circle cx="355.1" cy="371.1" r="0.51"/><circle cx="361.6" cy="372.7" r="0.38"/><circle cx="323.4" cy="351.9" r="0.42"/><circle cx="353.2" cy="356.4" r="0.45"/><circle cx="311.2" cy="354.3" r="0.65"/><circle cx="341.3" cy="343.7" r="0.55"/><circle cx="314.5" cy="334.0" r="0.64"/><circle cx="339.7" cy="351.2" r="0.50"/><circle cx="328.9" cy="364.8" r="0.57"/><circle cx="343.3" cy="382.7" r="0.47"/><circle cx="317.9" cy="370.7" r="0.55"/><circle cx="394.3" cy="357.6" r="0.58"/><circle cx="337.1" cy="381.7" r="0.47"/><circle cx="354.2" cy="355.4" r="0.43"/><circle cx="355.7" cy="363.6" r="0.49"/><circle cx="336.5" cy="367.2" r="0.47"/><circle cx="347.3" cy="364.7" r="0.46"/><circle cx="328.8" cy="374.4" r="0.49"/><circle cx="332.9" cy="365.8" r="0.31"/><circle cx="302.0" cy="347.5" r="0.40"/><circle cx="331.1" cy="370.9" r="0.56"/><circle cx="312.3" cy="362.1" r="0.30"/><circle cx="345.9" cy="368.0" r="0.43"/><circle cx="327.1" cy="369.2" r="0.64"/><circle cx="320.8" cy="367.8" r="0.64"/><circle cx="326.3" cy="346.4" r="0.59"/><circle cx="336.9" cy="364.3" r="0.64"/><circle cx="319.6" cy="357.0" r="0.32"/><circle cx="338.5" cy="347.5" r="0.53"/><circle cx="332.0" cy="391.6" r="0.43"/><circle cx="333.9" cy="390.3" r="0.38"/><circle cx="336.7" cy="377.0" r="0.64"/><circle cx="346.7" cy="367.4" r="0.58"/><circle cx="352.8" cy="367.6" r="0.57"/><circle cx="332.8" cy="336.8" r="0.34"/><circle cx="349.9" cy="352.6" r="0.58"/><circle cx="307.9" cy="366.2" r="0.47"/><circle cx="338.6" cy="369.0" r="0.47"/><circle cx="347.5" cy="363.6" r="0.61"/><circle cx="312.2" cy="348.5" r="0.35"/><circle cx="322.3" cy="362.9" r="0.34"/><circle cx="336.1" cy="392.5" r="0.55"/><circle cx="318.5" cy="359.9" r="0.60"/><circle cx="358.3" cy="355.6" r="0.32"/><circle cx="345.2" cy="354.9" r="0.38"/><circle cx="350.7" cy="373.7" r="0.50"/><circle cx="322.6" cy="364.9" r="0.35"/><circle cx="335.3" cy="344.0" r="0.41"/><circle cx="356.8" cy="332.4" r="0.62"/><circle cx="344.6" cy="360.5" r="0.44"/><circle cx="328.0" cy="364.3" r="0.56"/><circle cx="345.8" cy="356.7" r="0.48"/><circle cx="369.8" cy="355.0" r="0.46"/><circle cx="352.1" cy="370.4" r="0.48"/><circle cx="341.1" cy="352.2" r="0.40"/><circle cx="341.3" cy="360.8" r="0.51"/><circle cx="359.7" cy="374.1" r="0.45"/><circle cx="348.5" cy="356.5" r="0.61"/><circle cx="339.7" cy="365.3" r="0.33"/><circle cx="352.2" cy="367.4" r="0.64"/><circle cx="324.4" cy="378.6" r="0.31"/><circle cx="320.4" cy="359.3" r="0.33"/><circle cx="324.7" cy="353.7" r="0.41"/><circle cx="350.1" cy="342.2" r="0.34"/><circle cx="342.9" cy="363.8" r="0.39"/><circle cx="313.2" cy="333.2" r="0.64"/><circle cx="344.1" cy="355.6" r="0.58"/><circle cx="340.3" cy="345.2" r="0.65"/><circle cx="332.9" cy="356.9" r="0.38"/><circle cx="353.1" cy="375.0" r="0.52"/><circle cx="340.3" cy="359.4" r="0.30"/><circle cx="350.5" cy="359.1" r="0.39"/><circle cx="343.9" cy="355.9" r="0.58"/><circle cx="354.4" cy="350.1" r="0.51"/><circle cx="359.5" cy="361.7" r="0.51"/><circle cx="341.4" cy="344.3" r="0.34"/><circle cx="342.7" cy="381.1" r="0.33"/><circle cx="347.9" cy="367.6" r="0.58"/><circle cx="325.5" cy="357.2" r="0.64"/><circle cx="329.3" cy="356.0" r="0.50"/><circle cx="347.8" cy="350.4" r="0.45"/><circle cx="299.8" cy="341.7" r="0.52"/><circle cx="347.3" cy="377.8" r="0.41"/><circle cx="315.6" cy="364.7" r="0.31"/><circle cx="326.0" cy="360.4" r="0.51"/><circle cx="346.2" cy="346.8" r="0.52"/><circle cx="336.2" cy="371.4" r="0.48"/><circle cx="328.6" cy="359.0" r="0.57"/><circle cx="324.9" cy="361.0" r="0.39"/><circle cx="355.8" cy="335.2" r="0.63"/><circle cx="339.1" cy="366.4" r="0.52"/><circle cx="368.2" cy="365.3" r="0.54"/><circle cx="330.6" cy="373.9" r="0.54"/><circle cx="346.6" cy="372.3" r="0.58"/><circle cx="330.6" cy="344.2" r="0.34"/><circle cx="341.4" cy="371.6" r="0.31"/><circle cx="326.5" cy="346.9" r="0.62"/><circle cx="307.4" cy="350.5" r="0.46"/><circle cx="326.9" cy="359.7" r="0.46"/><circle cx="355.0" cy="354.7" r="0.30"/><circle cx="333.0" cy="368.4" r="0.52"/><circle cx="322.0" cy="360.1" r="0.62"/><circle cx="339.5" cy="355.0" r="0.31"/><circle cx="332.8" cy="343.0" r="0.53"/><circle cx="334.9" cy="361.0" r="0.46"/><circle cx="349.4" cy="344.7" r="0.32"/><circle cx="362.1" cy="382.4" r="0.49"/><circle cx="351.0" cy="379.8" r="0.62"/><circle cx="353.3" cy="345.9" r="0.58"/><circle cx="353.3" cy="369.2" r="0.58"/><circle cx="334.5" cy="367.6" r="0.60"/><circle cx="338.5" cy="359.4" r="0.32"/><circle cx="304.2" cy="348.8" r="0.52"/><circle cx="344.0" cy="356.4" r="0.50"/><circle cx="344.6" cy="372.4" r="0.35"/><circle cx="334.5" cy="362.0" r="0.53"/><circle cx="319.3" cy="336.8" r="0.57"/><circle cx="365.9" cy="373.9" r="0.49"/><circle cx="355.1" cy="354.6" r="0.33"/><circle cx="336.4" cy="352.7" r="0.64"/><circle cx="307.6" cy="353.6" r="0.47"/><circle cx="328.8" cy="379.3" r="0.55"/><circle cx="327.3" cy="363.8" r="0.45"/><circle cx="336.6" cy="351.2" r="0.36"/><circle cx="317.1" cy="363.1" r="0.32"/><circle cx="333.6" cy="398.0" r="0.39"/><circle cx="340.8" cy="349.2" r="0.33"/></g>
<g fill="#149028" opacity="0.65"><circle cx="287.7" cy="365.8" r="0.52"/><circle cx="378.7" cy="372.2" r="0.47"/><circle cx="301.8" cy="365.6" r="0.43"/><circle cx="356.4" cy="393.0" r="0.30"/><circle cx="321.3" cy="402.0" r="0.45"/><circle cx="299.2" cy="359.6" r="0.42"/><circle cx="315.4" cy="380.6" r="0.26"/><circle cx="335.6" cy="367.0" r="0.60"/><circle cx="371.7" cy="344.5" r="0.31"/><circle cx="353.0" cy="347.8" r="0.53"/><circle cx="319.4" cy="337.6" r="0.51"/><circle cx="334.6" cy="403.5" r="0.44"/><circle cx="342.2" cy="319.9" r="0.34"/><circle cx="319.1" cy="373.1" r="0.28"/><circle cx="368.1" cy="338.4" r="0.42"/><circle cx="288.6" cy="349.3" r="0.27"/><circle cx="315.2" cy="388.1" r="0.44"/><circle cx="319.9" cy="362.3" r="0.33"/><circle cx="328.6" cy="344.4" r="0.58"/><circle cx="396.3" cy="328.3" r="0.35"/><circle cx="327.8" cy="361.1" r="0.38"/><circle cx="367.4" cy="373.7" r="0.58"/><circle cx="341.9" cy="341.1" r="0.35"/><circle cx="347.8" cy="359.0" r="0.55"/><circle cx="346.1" cy="355.5" r="0.58"/><circle cx="324.3" cy="344.7" r="0.40"/><circle cx="315.3" cy="345.0" r="0.55"/><circle cx="358.3" cy="350.0" r="0.25"/><circle cx="346.7" cy="330.7" r="0.48"/><circle cx="349.2" cy="365.9" r="0.56"/><circle cx="320.7" cy="380.8" r="0.59"/><circle cx="352.5" cy="391.4" r="0.27"/><circle cx="300.5" cy="348.5" r="0.31"/><circle cx="344.2" cy="304.2" r="0.54"/><circle cx="355.9" cy="310.3" r="0.50"/><circle cx="293.7" cy="349.9" r="0.53"/><circle cx="313.4" cy="338.3" r="0.31"/><circle cx="327.8" cy="378.6" r="0.55"/><circle cx="344.2" cy="344.1" r="0.60"/><circle cx="348.6" cy="364.8" r="0.36"/><circle cx="396.3" cy="387.1" r="0.38"/><circle cx="301.0" cy="389.9" r="0.44"/><circle cx="320.9" cy="344.7" r="0.41"/><circle cx="360.2" cy="357.3" r="0.43"/><circle cx="325.8" cy="363.6" r="0.30"/><circle cx="293.5" cy="360.3" r="0.40"/><circle cx="396.7" cy="380.7" r="0.30"/><circle cx="345.9" cy="357.6" r="0.48"/><circle cx="352.3" cy="375.6" r="0.40"/><circle cx="340.9" cy="338.5" r="0.40"/><circle cx="314.2" cy="377.4" r="0.35"/><circle cx="356.2" cy="357.8" r="0.30"/><circle cx="316.9" cy="355.9" r="0.50"/><circle cx="377.9" cy="370.1" r="0.38"/><circle cx="359.7" cy="353.8" r="0.40"/><circle cx="326.8" cy="386.8" r="0.35"/><circle cx="327.0" cy="342.2" r="0.50"/><circle cx="332.6" cy="385.5" r="0.44"/><circle cx="332.6" cy="330.6" r="0.40"/><circle cx="350.9" cy="367.5" r="0.30"/></g>
<g fill="#28c840" opacity="0.9"><circle cx="346.8" cy="360.1" r="0.61"/><circle cx="336.7" cy="368.9" r="0.44"/><circle cx="345.1" cy="360.4" r="0.41"/><circle cx="341.2" cy="347.6" r="0.45"/><circle cx="348.9" cy="346.2" r="0.52"/><circle cx="337.0" cy="349.6" r="0.53"/><circle cx="350.6" cy="359.6" r="0.73"/><circle cx="338.0" cy="363.1" r="0.39"/><circle cx="347.1" cy="342.2" r="0.50"/><circle cx="339.2" cy="362.0" r="0.45"/><circle cx="345.9" cy="359.6" r="0.62"/><circle cx="327.5" cy="355.0" r="0.73"/><circle cx="356.8" cy="344.0" r="0.69"/><circle cx="348.6" cy="356.6" r="0.74"/><circle cx="351.8" cy="349.1" r="0.60"/><circle cx="338.2" cy="358.9" r="0.41"/><circle cx="339.6" cy="354.3" r="0.40"/><circle cx="351.3" cy="349.3" r="0.70"/><circle cx="342.5" cy="364.8" r="0.46"/><circle cx="347.3" cy="351.8" r="0.61"/><circle cx="339.2" cy="353.9" r="0.38"/><circle cx="336.5" cy="356.7" r="0.68"/><circle cx="346.3" cy="360.3" r="0.47"/><circle cx="346.6" cy="351.2" r="0.60"/><circle cx="347.8" cy="356.6" r="0.63"/><circle cx="341.6" cy="356.1" r="0.54"/><circle cx="351.5" cy="353.5" r="0.57"/><circle cx="337.7" cy="360.0" r="0.37"/><circle cx="351.8" cy="349.8" r="0.49"/><circle cx="344.0" cy="360.4" r="0.72"/></g>
<g fill="#d81828" opacity="0.7"><circle cx="346.3" cy="351.8" r="0.43"/><circle cx="332.4" cy="357.8" r="0.26"/><circle cx="339.3" cy="354.1" r="0.42"/><circle cx="342.5" cy="360.2" r="0.30"/><circle cx="330.6" cy="348.7" r="0.55"/><circle cx="332.2" cy="349.7" r="0.25"/><circle cx="353.4" cy="357.0" r="0.51"/><circle cx="362.0" cy="365.0" r="0.39"/><circle cx="342.5" cy="370.0" r="0.27"/><circle cx="332.6" cy="356.6" r="0.46"/><circle cx="348.5" cy="373.6" r="0.44"/><circle cx="333.0" cy="336.2" r="0.34"/><circle cx="335.1" cy="350.8" r="0.52"/><circle cx="349.3" cy="344.9" r="0.43"/><circle cx="338.1" cy="381.8" r="0.54"/><circle cx="350.4" cy="357.2" r="0.50"/><circle cx="330.1" cy="342.7" r="0.49"/><circle cx="328.5" cy="362.8" r="0.49"/><circle cx="331.6" cy="349.7" r="0.51"/><circle cx="341.9" cy="360.3" r="0.39"/><circle cx="358.9" cy="371.0" r="0.28"/><circle cx="346.3" cy="355.2" r="0.29"/><circle cx="340.4" cy="345.0" r="0.37"/><circle cx="327.5" cy="352.8" r="0.53"/><circle cx="325.1" cy="359.4" r="0.39"/><circle cx="324.4" cy="368.1" r="0.28"/><circle cx="330.2" cy="338.5" r="0.48"/><circle cx="329.2" cy="357.5" r="0.28"/><circle cx="352.5" cy="366.8" r="0.51"/><circle cx="345.1" cy="355.3" r="0.47"/><circle cx="344.8" cy="349.3" r="0.51"/><circle cx="344.2" cy="368.3" r="0.40"/><circle cx="338.1" cy="349.2" r="0.34"/><circle cx="348.0" cy="352.6" r="0.38"/><circle cx="342.3" cy="371.3" r="0.46"/><circle cx="328.6" cy="371.2" r="0.40"/><circle cx="370.6" cy="361.9" r="0.34"/><circle cx="310.9" cy="352.8" r="0.31"/><circle cx="347.5" cy="362.7" r="0.30"/><circle cx="348.6" cy="350.3" r="0.26"/></g>
<ellipse cx="336" cy="367.5" rx="1.5" ry="1.1" fill="#e81828"/>
<ellipse cx="346" cy="354" rx="2.2" ry="0.9" fill="#e81828"/>
<ellipse cx="308.3" cy="325" rx="0.7" ry="1.4" fill="#d01828"/>
</g>
</g>
<rect x="348.2" y="296.6" width="42.80000000000001" height="41.599999999999966" fill="#0a030a"/>
<clipPath id="cp6"><rect x="348.2" y="296.6" width="42.80000000000001" height="41.599999999999966"/></clipPath><g clip-path="url(#cp6)">
<g filter="url(#b0)">
<path d="M362.5 296 Q372 311 381.5 318 Q388 323 392 328 L392 296 Z" fill="#3024c8" filter="url(#b1)"/>
<g fill="#8028c0" opacity="0.6"><circle cx="374.2" cy="311.1" r="0.49"/><circle cx="375.0" cy="322.3" r="0.62"/><circle cx="373.4" cy="313.6" r="0.46"/><circle cx="380.0" cy="315.0" r="0.44"/><circle cx="380.6" cy="305.4" r="0.77"/><circle cx="382.2" cy="322.4" r="0.70"/><circle cx="372.2" cy="301.9" r="0.75"/><circle cx="386.6" cy="298.4" r="0.61"/><circle cx="374.5" cy="309.9" r="0.84"/><circle cx="380.9" cy="317.7" r="0.78"/><circle cx="374.4" cy="314.2" r="0.59"/><circle cx="378.9" cy="311.7" r="0.73"/><circle cx="371.9" cy="320.4" r="0.48"/><circle cx="375.2" cy="320.7" r="0.89"/><circle cx="376.4" cy="323.6" r="0.42"/><circle cx="390.0" cy="302.3" r="0.42"/><circle cx="385.5" cy="301.2" r="0.78"/><circle cx="368.2" cy="300.1" r="0.58"/><circle cx="369.9" cy="310.0" r="0.57"/><circle cx="385.0" cy="310.6" r="0.88"/><circle cx="387.4" cy="301.5" r="0.86"/><circle cx="388.6" cy="312.6" r="0.66"/><circle cx="371.9" cy="305.7" r="0.51"/><circle cx="372.5" cy="314.0" r="0.56"/><circle cx="385.7" cy="312.9" r="0.81"/><circle cx="370.0" cy="320.7" r="0.65"/><circle cx="382.5" cy="303.4" r="0.75"/><circle cx="377.3" cy="317.1" r="0.69"/><circle cx="371.2" cy="305.1" r="0.78"/><circle cx="368.4" cy="314.5" r="0.67"/><circle cx="384.4" cy="305.9" r="0.64"/><circle cx="379.0" cy="317.9" r="0.44"/><circle cx="379.7" cy="304.0" r="0.69"/><circle cx="374.0" cy="302.5" r="0.52"/><circle cx="388.6" cy="306.9" r="0.84"/><circle cx="384.9" cy="304.2" r="0.68"/><circle cx="368.2" cy="323.1" r="0.72"/><circle cx="370.6" cy="311.3" r="0.65"/><circle cx="383.4" cy="304.8" r="0.85"/><circle cx="382.3" cy="298.7" r="0.81"/></g>
<g fill="#c01828" opacity="0.5"><circle cx="386.1" cy="309.3" r="0.51"/><circle cx="385.0" cy="333.3" r="0.32"/><circle cx="384.0" cy="306.9" r="0.54"/><circle cx="377.6" cy="316.0" r="0.57"/><circle cx="382.6" cy="338.0" r="0.59"/><circle cx="372.7" cy="327.2" r="0.50"/><circle cx="365.3" cy="317.4" r="0.45"/><circle cx="357.4" cy="307.5" r="0.55"/><circle cx="384.4" cy="325.6" r="0.51"/><circle cx="370.0" cy="320.4" r="0.50"/><circle cx="348.5" cy="315.1" r="0.59"/><circle cx="357.0" cy="316.0" r="0.32"/><circle cx="359.1" cy="330.9" r="0.31"/><circle cx="382.4" cy="329.8" r="0.56"/><circle cx="359.2" cy="335.4" r="0.41"/><circle cx="367.5" cy="336.2" r="0.46"/><circle cx="377.3" cy="301.2" r="0.30"/><circle cx="359.5" cy="301.0" r="0.55"/><circle cx="358.9" cy="336.4" r="0.50"/><circle cx="356.4" cy="326.2" r="0.40"/><circle cx="370.8" cy="299.8" r="0.55"/><circle cx="381.9" cy="320.8" r="0.51"/><circle cx="362.7" cy="301.9" r="0.40"/><circle cx="379.9" cy="320.0" r="0.34"/><circle cx="358.5" cy="316.4" r="0.30"/><circle cx="350.1" cy="315.3" r="0.34"/><circle cx="386.2" cy="302.0" r="0.52"/><circle cx="382.2" cy="309.7" r="0.46"/><circle cx="390.7" cy="322.3" r="0.42"/><circle cx="390.0" cy="307.4" r="0.59"/><circle cx="361.5" cy="314.1" r="0.39"/><circle cx="376.1" cy="333.3" r="0.51"/><circle cx="356.0" cy="337.8" r="0.52"/><circle cx="369.9" cy="331.9" r="0.33"/><circle cx="373.8" cy="329.3" r="0.53"/><circle cx="377.0" cy="299.2" r="0.44"/><circle cx="359.7" cy="321.9" r="0.42"/><circle cx="367.7" cy="319.0" r="0.48"/><circle cx="386.3" cy="308.3" r="0.38"/><circle cx="356.1" cy="301.3" r="0.55"/><circle cx="387.6" cy="301.8" r="0.41"/><circle cx="386.9" cy="332.5" r="0.59"/><circle cx="390.7" cy="309.2" r="0.32"/><circle cx="358.9" cy="317.5" r="0.30"/><circle cx="359.1" cy="316.3" r="0.50"/><circle cx="354.8" cy="301.7" r="0.40"/><circle cx="352.1" cy="301.7" r="0.33"/><circle cx="382.4" cy="333.2" r="0.31"/><circle cx="382.6" cy="331.7" r="0.50"/><circle cx="361.0" cy="330.7" r="0.32"/><circle cx="350.2" cy="336.3" r="0.37"/><circle cx="387.4" cy="328.0" r="0.31"/><circle cx="352.2" cy="323.5" r="0.34"/><circle cx="376.7" cy="324.6" r="0.37"/><circle cx="368.6" cy="305.4" r="0.56"/><circle cx="375.2" cy="325.3" r="0.49"/><circle cx="350.8" cy="333.5" r="0.53"/><circle cx="370.2" cy="321.2" r="0.45"/><circle cx="380.5" cy="318.8" r="0.38"/><circle cx="370.3" cy="305.5" r="0.30"/><circle cx="370.5" cy="332.8" r="0.52"/><circle cx="357.2" cy="317.7" r="0.48"/><circle cx="373.0" cy="315.7" r="0.45"/><circle cx="377.7" cy="333.3" r="0.45"/><circle cx="381.8" cy="324.9" r="0.34"/><circle cx="359.3" cy="309.6" r="0.41"/><circle cx="369.2" cy="308.9" r="0.60"/><circle cx="379.6" cy="312.0" r="0.51"/><circle cx="387.8" cy="303.2" r="0.49"/><circle cx="389.2" cy="312.2" r="0.56"/></g>
<g fill="#18a030" opacity="0.7"><circle cx="375.4" cy="309.9" r="0.36"/><circle cx="375.5" cy="313.9" r="0.44"/><circle cx="363.9" cy="326.9" r="0.66"/><circle cx="379.2" cy="328.5" r="0.37"/><circle cx="360.7" cy="296.9" r="0.38"/><circle cx="359.7" cy="304.0" r="0.49"/><circle cx="352.7" cy="323.8" r="0.46"/><circle cx="356.5" cy="325.1" r="0.43"/><circle cx="349.0" cy="331.5" r="0.60"/><circle cx="377.9" cy="308.8" r="0.41"/><circle cx="371.7" cy="302.7" r="0.69"/><circle cx="370.3" cy="319.4" r="0.32"/><circle cx="357.8" cy="314.2" r="0.69"/><circle cx="353.1" cy="321.2" r="0.33"/><circle cx="381.0" cy="327.7" r="0.62"/><circle cx="373.5" cy="304.1" r="0.40"/><circle cx="349.5" cy="319.5" r="0.33"/><circle cx="354.6" cy="303.8" r="0.67"/><circle cx="374.9" cy="308.5" r="0.69"/><circle cx="353.6" cy="302.4" r="0.45"/><circle cx="375.4" cy="300.7" r="0.62"/><circle cx="366.6" cy="329.8" r="0.43"/><circle cx="349.6" cy="300.7" r="0.59"/><circle cx="365.3" cy="328.4" r="0.38"/><circle cx="357.6" cy="305.4" r="0.64"/><circle cx="372.0" cy="303.0" r="0.59"/><circle cx="349.5" cy="316.0" r="0.40"/><circle cx="374.0" cy="326.5" r="0.57"/><circle cx="354.9" cy="298.4" r="0.56"/><circle cx="371.7" cy="297.0" r="0.64"/><circle cx="378.5" cy="311.6" r="0.51"/><circle cx="370.2" cy="335.1" r="0.56"/><circle cx="365.6" cy="328.6" r="0.50"/><circle cx="349.3" cy="319.4" r="0.47"/><circle cx="359.5" cy="313.0" r="0.39"/><circle cx="358.7" cy="327.7" r="0.65"/><circle cx="363.6" cy="331.8" r="0.35"/><circle cx="365.6" cy="327.6" r="0.61"/><circle cx="361.3" cy="303.6" r="0.68"/><circle cx="368.8" cy="323.8" r="0.44"/></g>
<g fill="#30e048" opacity="0.95"><circle cx="376.9" cy="325.6" r="0.78"/><circle cx="378.2" cy="309.5" r="1.03"/><circle cx="354.4" cy="311.6" r="0.59"/><circle cx="379.9" cy="317.7" r="0.92"/><circle cx="369.5" cy="321.7" r="0.99"/><circle cx="366.0" cy="304.8" r="0.68"/><circle cx="352.7" cy="319.3" r="0.95"/><circle cx="371.3" cy="315.9" r="1.04"/><circle cx="380.6" cy="319.0" r="0.87"/><circle cx="376.4" cy="322.2" r="0.97"/><circle cx="370.4" cy="315.3" r="0.86"/><circle cx="369.3" cy="313.7" r="1.12"/><circle cx="375.6" cy="314.9" r="0.65"/><circle cx="371.9" cy="323.0" r="0.79"/><circle cx="362.4" cy="297.6" r="0.89"/><circle cx="377.1" cy="315.2" r="0.96"/><circle cx="377.4" cy="318.0" r="0.52"/><circle cx="379.0" cy="330.1" r="0.58"/><circle cx="364.6" cy="328.5" r="0.87"/><circle cx="372.3" cy="318.8" r="0.97"/><circle cx="364.7" cy="320.2" r="0.84"/><circle cx="343.4" cy="343.4" r="0.53"/><circle cx="369.5" cy="321.2" r="0.89"/><circle cx="383.1" cy="314.2" r="0.58"/><circle cx="359.8" cy="315.9" r="1.18"/><circle cx="364.7" cy="306.2" r="0.68"/></g>
<g fill="#30d868" opacity="0.9"><circle cx="379.2" cy="310.0" r="0.73"/><circle cx="381.8" cy="298.9" r="0.75"/><circle cx="390.7" cy="306.7" r="0.80"/><circle cx="385.8" cy="317.2" r="0.94"/><circle cx="378.0" cy="314.7" r="0.62"/><circle cx="383.0" cy="297.0" r="0.62"/><circle cx="373.7" cy="305.5" r="0.94"/><circle cx="370.4" cy="318.9" r="0.56"/><circle cx="390.0" cy="320.7" r="0.87"/><circle cx="387.6" cy="320.5" r="0.77"/><circle cx="388.0" cy="297.5" r="0.97"/><circle cx="383.6" cy="316.3" r="0.59"/></g>
<ellipse cx="374" cy="318.3" rx="2.6" ry="2.0" fill="#e81828" filter="url(#b1)"/>
<ellipse cx="381" cy="303" rx="2.4" ry="2" fill="#e02060" filter="url(#b1)"/>
</g>
</g>
<rect x="348.8" y="297.20000000000005" width="41.60000000000001" height="40.39999999999996" fill="none" stroke="#ececec" stroke-width="1.4"/>
<rect x="327.2" y="359.4" width="16.3" height="16.4" fill="none" stroke="#f2f2f2" stroke-width="1.4"/>
<text x="376.8" y="398.3" font-size="7.8" text-anchor="middle" font-weight="bold" fill="#fff" style="stroke:#fff">10 µm</text>
<line x1="371.00" y1="400.80" x2="382.20" y2="400.80" stroke="#fff" stroke-width="1.2"/>
<text x="272.6" y="353.2" font-size="8.2" text-anchor="middle" font-weight="bold" fill="#000" transform="rotate(-90 272.6 353.2)">WT</text>
<text x="480.4" y="292.9" font-size="8.8" font-weight="bold" text-anchor="middle"><tspan fill="#1f74d2" style="stroke:#1f74d2;stroke-width:.22px">DAPI</tspan><tspan fill="#111" style="stroke:#111;stroke-width:.22px">/</tspan><tspan fill="#12963c" style="stroke:#12963c;stroke-width:.22px">HRS</tspan><tspan fill="#111" style="stroke:#111;stroke-width:.22px">/</tspan><tspan fill="#ee1c24" style="stroke:#ee1c24;stroke-width:.22px">PD-L1</tspan></text>
<rect x="424.0" y="296.6" width="108.20000000000005" height="107.39999999999998" fill="#030103"/>
<clipPath id="cp7"><rect x="424.0" y="296.6" width="108.20000000000005" height="107.39999999999998"/></clipPath><g clip-path="url(#cp7)">
<g filter="url(#b0)">
<g fill="#801028" opacity="0.25"><circle cx="433.0" cy="352.8" r="0.37"/><circle cx="498.4" cy="315.8" r="0.36"/><circle cx="528.8" cy="323.8" r="0.41"/><circle cx="528.0" cy="368.9" r="0.34"/><circle cx="469.3" cy="346.8" r="0.27"/><circle cx="432.1" cy="326.6" r="0.28"/><circle cx="521.3" cy="335.5" r="0.43"/><circle cx="484.9" cy="393.0" r="0.43"/><circle cx="501.0" cy="344.8" r="0.30"/><circle cx="485.0" cy="330.1" r="0.42"/><circle cx="428.6" cy="365.0" r="0.32"/><circle cx="469.5" cy="354.9" r="0.45"/><circle cx="531.5" cy="335.0" r="0.44"/><circle cx="527.4" cy="353.1" r="0.36"/><circle cx="445.4" cy="381.4" r="0.35"/><circle cx="506.5" cy="395.6" r="0.37"/><circle cx="499.2" cy="355.5" r="0.28"/><circle cx="473.7" cy="303.3" r="0.29"/><circle cx="530.1" cy="337.4" r="0.28"/><circle cx="471.1" cy="303.0" r="0.37"/><circle cx="448.7" cy="320.0" r="0.38"/><circle cx="524.1" cy="298.1" r="0.39"/><circle cx="487.0" cy="348.9" r="0.33"/><circle cx="425.2" cy="334.4" r="0.35"/><circle cx="460.3" cy="403.4" r="0.32"/><circle cx="515.5" cy="383.7" r="0.41"/><circle cx="477.2" cy="350.2" r="0.42"/><circle cx="436.7" cy="320.7" r="0.25"/><circle cx="477.2" cy="345.3" r="0.44"/><circle cx="524.7" cy="340.2" r="0.35"/><circle cx="435.4" cy="377.5" r="0.35"/><circle cx="442.2" cy="390.8" r="0.26"/><circle cx="444.8" cy="347.9" r="0.45"/><circle cx="439.0" cy="325.2" r="0.41"/><circle cx="460.4" cy="396.4" r="0.25"/><circle cx="449.7" cy="329.9" r="0.42"/><circle cx="435.1" cy="369.0" r="0.43"/><circle cx="529.4" cy="383.2" r="0.26"/><circle cx="476.3" cy="320.0" r="0.27"/><circle cx="450.3" cy="375.6" r="0.37"/><circle cx="438.1" cy="327.3" r="0.26"/><circle cx="524.2" cy="377.6" r="0.34"/><circle cx="528.0" cy="401.6" r="0.29"/><circle cx="451.5" cy="317.1" r="0.38"/><circle cx="488.4" cy="352.3" r="0.40"/><circle cx="481.3" cy="330.4" r="0.38"/><circle cx="526.7" cy="302.0" r="0.35"/><circle cx="439.1" cy="376.8" r="0.34"/><circle cx="514.8" cy="368.5" r="0.44"/><circle cx="486.7" cy="360.6" r="0.44"/><circle cx="510.9" cy="332.9" r="0.27"/><circle cx="523.7" cy="303.4" r="0.43"/><circle cx="525.0" cy="367.7" r="0.44"/><circle cx="489.7" cy="376.7" r="0.37"/><circle cx="448.1" cy="305.1" r="0.40"/><circle cx="472.8" cy="310.0" r="0.36"/><circle cx="452.7" cy="324.8" r="0.43"/><circle cx="490.9" cy="377.0" r="0.41"/><circle cx="471.3" cy="345.1" r="0.34"/><circle cx="462.7" cy="380.2" r="0.43"/><circle cx="456.2" cy="373.0" r="0.29"/><circle cx="424.9" cy="370.2" r="0.41"/><circle cx="459.7" cy="403.5" r="0.39"/><circle cx="458.7" cy="378.2" r="0.42"/><circle cx="439.2" cy="394.5" r="0.34"/><circle cx="453.7" cy="337.2" r="0.36"/><circle cx="481.0" cy="328.2" r="0.26"/><circle cx="492.3" cy="373.7" r="0.39"/><circle cx="466.9" cy="388.7" r="0.25"/><circle cx="438.0" cy="298.6" r="0.36"/><circle cx="480.6" cy="321.0" r="0.36"/><circle cx="424.4" cy="300.5" r="0.44"/><circle cx="519.8" cy="304.1" r="0.38"/><circle cx="479.0" cy="354.4" r="0.42"/><circle cx="493.4" cy="397.7" r="0.39"/><circle cx="523.0" cy="309.1" r="0.41"/><circle cx="458.6" cy="395.5" r="0.41"/><circle cx="528.6" cy="377.7" r="0.33"/><circle cx="480.7" cy="380.6" r="0.26"/><circle cx="482.3" cy="357.6" r="0.39"/></g>
<ellipse cx="468" cy="359" rx="24" ry="11" fill="#50101c" opacity="0.6" filter="url(#b2)" transform="rotate(-8 468 359)"/>
<ellipse cx="472.6" cy="357.6" rx="16" ry="11.2" fill="#2d26c4" filter="url(#b1)" transform="rotate(-10 472.6 357.6)"/>
<g fill="#7a2cc0" opacity="0.6"><circle cx="467.8" cy="364.9" r="0.77"/><circle cx="464.8" cy="364.8" r="0.85"/><circle cx="466.9" cy="363.7" r="0.64"/><circle cx="475.2" cy="353.3" r="0.54"/><circle cx="464.5" cy="364.2" r="0.48"/><circle cx="481.7" cy="355.1" r="0.77"/><circle cx="471.1" cy="358.6" r="0.59"/><circle cx="469.3" cy="357.1" r="0.89"/><circle cx="464.6" cy="355.7" r="0.41"/><circle cx="473.6" cy="362.6" r="0.72"/><circle cx="477.8" cy="362.5" r="0.54"/><circle cx="461.0" cy="356.2" r="0.66"/><circle cx="471.3" cy="349.9" r="0.44"/><circle cx="466.7" cy="353.2" r="0.78"/><circle cx="479.0" cy="354.4" r="0.83"/><circle cx="475.4" cy="365.3" r="0.40"/><circle cx="475.5" cy="351.6" r="0.63"/><circle cx="465.0" cy="359.0" r="0.52"/><circle cx="467.4" cy="351.1" r="0.43"/><circle cx="472.5" cy="370.7" r="0.54"/><circle cx="471.0" cy="365.1" r="0.59"/><circle cx="492.9" cy="348.8" r="0.46"/><circle cx="473.9" cy="360.8" r="0.62"/><circle cx="471.5" cy="366.1" r="0.84"/><circle cx="474.3" cy="357.9" r="0.46"/><circle cx="471.5" cy="360.6" r="0.62"/><circle cx="465.5" cy="365.8" r="0.88"/><circle cx="480.6" cy="355.4" r="0.72"/><circle cx="480.9" cy="361.9" r="0.84"/><circle cx="475.5" cy="355.0" r="0.48"/><circle cx="481.7" cy="350.9" r="0.78"/><circle cx="483.1" cy="359.0" r="0.41"/><circle cx="469.7" cy="348.0" r="0.56"/><circle cx="485.4" cy="355.5" r="0.90"/><circle cx="466.5" cy="354.9" r="0.56"/><circle cx="478.1" cy="342.8" r="0.58"/><circle cx="480.6" cy="375.0" r="0.61"/><circle cx="466.5" cy="360.4" r="0.76"/><circle cx="481.3" cy="355.4" r="0.83"/><circle cx="466.5" cy="362.2" r="0.80"/><circle cx="485.3" cy="353.6" r="0.75"/><circle cx="478.9" cy="345.2" r="0.88"/><circle cx="464.8" cy="357.9" r="0.40"/><circle cx="465.2" cy="358.0" r="0.40"/><circle cx="479.3" cy="356.2" r="0.87"/><circle cx="480.1" cy="356.8" r="0.79"/><circle cx="465.8" cy="351.3" r="0.64"/><circle cx="486.1" cy="361.0" r="0.78"/><circle cx="462.7" cy="360.4" r="0.80"/><circle cx="463.7" cy="359.4" r="0.64"/><circle cx="469.9" cy="348.8" r="0.57"/><circle cx="472.9" cy="352.1" r="0.74"/><circle cx="461.9" cy="368.0" r="0.87"/><circle cx="473.0" cy="352.0" r="0.58"/><circle cx="463.3" cy="362.4" r="0.42"/><circle cx="454.6" cy="357.1" r="0.43"/><circle cx="479.8" cy="351.7" r="0.90"/><circle cx="468.9" cy="349.3" r="0.78"/><circle cx="469.4" cy="359.5" r="0.83"/><circle cx="480.5" cy="349.9" r="0.51"/><circle cx="463.1" cy="359.3" r="0.58"/><circle cx="464.0" cy="359.5" r="0.89"/><circle cx="455.6" cy="349.5" r="0.85"/><circle cx="480.1" cy="365.1" r="0.59"/><circle cx="463.6" cy="355.0" r="0.77"/><circle cx="470.3" cy="366.1" r="0.58"/><circle cx="473.3" cy="351.0" r="0.72"/><circle cx="479.0" cy="356.4" r="0.40"/><circle cx="479.5" cy="352.2" r="0.72"/><circle cx="478.8" cy="346.0" r="0.59"/></g>
<g fill="#4a48f0" opacity="0.6"><circle cx="480.3" cy="355.8" r="0.76"/><circle cx="475.5" cy="352.4" r="0.61"/><circle cx="468.4" cy="362.2" r="0.61"/><circle cx="473.9" cy="355.7" r="0.89"/><circle cx="473.9" cy="350.3" r="0.72"/><circle cx="470.1" cy="367.3" r="0.84"/><circle cx="466.5" cy="363.2" r="0.51"/><circle cx="474.4" cy="368.4" r="0.72"/><circle cx="462.4" cy="362.0" r="0.49"/><circle cx="480.0" cy="356.4" r="0.69"/><circle cx="477.6" cy="363.2" r="0.56"/><circle cx="473.2" cy="366.8" r="0.58"/><circle cx="470.4" cy="348.5" r="0.59"/><circle cx="487.8" cy="357.1" r="0.68"/><circle cx="461.4" cy="355.4" r="0.67"/><circle cx="473.4" cy="357.0" r="0.88"/><circle cx="465.9" cy="354.9" r="0.85"/><circle cx="480.2" cy="351.6" r="0.40"/><circle cx="466.1" cy="354.6" r="0.69"/><circle cx="474.2" cy="354.7" r="0.82"/><circle cx="471.1" cy="361.9" r="0.42"/><circle cx="478.0" cy="359.4" r="0.66"/><circle cx="476.9" cy="355.6" r="0.54"/><circle cx="465.7" cy="364.6" r="0.58"/><circle cx="469.9" cy="355.2" r="0.42"/><circle cx="460.8" cy="355.3" r="0.47"/><circle cx="484.2" cy="358.1" r="0.43"/><circle cx="482.7" cy="351.9" r="0.48"/><circle cx="470.5" cy="359.0" r="0.44"/><circle cx="464.6" cy="368.4" r="0.85"/><circle cx="471.4" cy="349.7" r="0.69"/><circle cx="461.0" cy="359.1" r="0.65"/><circle cx="461.7" cy="366.0" r="0.55"/><circle cx="463.6" cy="364.0" r="0.88"/><circle cx="468.8" cy="363.3" r="0.60"/></g>
<g fill="#d81830" opacity="0.75"><circle cx="474.3" cy="364.3" r="0.53"/><circle cx="477.5" cy="364.9" r="0.35"/><circle cx="446.6" cy="356.0" r="0.29"/><circle cx="460.5" cy="360.2" r="0.48"/><circle cx="464.8" cy="354.7" r="0.33"/><circle cx="466.5" cy="365.0" r="0.56"/><circle cx="487.3" cy="347.2" r="0.39"/><circle cx="460.6" cy="361.1" r="0.41"/><circle cx="476.1" cy="356.7" r="0.39"/><circle cx="481.4" cy="369.7" r="0.36"/><circle cx="465.2" cy="359.4" r="0.49"/><circle cx="443.3" cy="361.1" r="0.50"/><circle cx="468.8" cy="353.2" r="0.34"/><circle cx="466.0" cy="357.8" r="0.58"/><circle cx="465.7" cy="351.0" r="0.38"/><circle cx="487.3" cy="360.3" r="0.52"/><circle cx="475.3" cy="359.9" r="0.49"/><circle cx="444.5" cy="364.4" r="0.39"/><circle cx="499.7" cy="352.7" r="0.36"/><circle cx="450.5" cy="359.1" r="0.41"/><circle cx="478.2" cy="347.3" r="0.54"/><circle cx="470.8" cy="366.8" r="0.44"/><circle cx="467.6" cy="358.2" r="0.53"/><circle cx="461.9" cy="361.0" r="0.55"/><circle cx="446.6" cy="357.8" r="0.51"/><circle cx="444.9" cy="351.1" r="0.27"/><circle cx="466.1" cy="362.7" r="0.47"/><circle cx="470.9" cy="360.0" r="0.30"/><circle cx="479.5" cy="365.0" r="0.41"/><circle cx="467.8" cy="359.1" r="0.43"/><circle cx="470.3" cy="361.6" r="0.27"/><circle cx="479.6" cy="363.0" r="0.31"/><circle cx="461.5" cy="360.7" r="0.51"/><circle cx="478.7" cy="352.9" r="0.28"/><circle cx="476.0" cy="357.0" r="0.48"/><circle cx="469.6" cy="350.4" r="0.56"/><circle cx="485.5" cy="365.3" r="0.57"/><circle cx="491.9" cy="347.1" r="0.40"/><circle cx="441.1" cy="361.6" r="0.38"/><circle cx="470.1" cy="360.3" r="0.32"/><circle cx="493.4" cy="367.8" r="0.36"/><circle cx="448.0" cy="376.9" r="0.49"/><circle cx="463.8" cy="360.7" r="0.38"/><circle cx="463.1" cy="376.1" r="0.40"/><circle cx="481.5" cy="355.9" r="0.27"/><circle cx="474.5" cy="356.2" r="0.53"/><circle cx="459.5" cy="356.7" r="0.54"/><circle cx="432.8" cy="372.5" r="0.45"/><circle cx="501.4" cy="348.4" r="0.38"/><circle cx="459.9" cy="349.3" r="0.48"/><circle cx="492.6" cy="356.9" r="0.52"/><circle cx="472.7" cy="361.1" r="0.27"/><circle cx="463.1" cy="358.6" r="0.55"/><circle cx="429.5" cy="376.0" r="0.51"/><circle cx="461.8" cy="361.6" r="0.40"/><circle cx="445.7" cy="353.2" r="0.56"/><circle cx="468.7" cy="360.1" r="0.48"/><circle cx="460.5" cy="350.4" r="0.53"/><circle cx="476.7" cy="348.4" r="0.54"/><circle cx="497.0" cy="366.8" r="0.48"/><circle cx="477.8" cy="359.8" r="0.47"/><circle cx="460.1" cy="375.5" r="0.35"/><circle cx="452.6" cy="361.7" r="0.58"/><circle cx="461.5" cy="373.8" r="0.50"/><circle cx="436.4" cy="356.0" r="0.56"/><circle cx="468.7" cy="349.8" r="0.27"/><circle cx="475.3" cy="367.8" r="0.29"/><circle cx="460.8" cy="354.7" r="0.39"/><circle cx="480.9" cy="344.8" r="0.51"/><circle cx="453.0" cy="363.8" r="0.59"/><circle cx="487.6" cy="351.7" r="0.28"/><circle cx="473.5" cy="356.8" r="0.29"/><circle cx="464.1" cy="355.4" r="0.51"/><circle cx="466.0" cy="355.1" r="0.57"/><circle cx="491.7" cy="355.3" r="0.59"/><circle cx="474.3" cy="350.3" r="0.54"/><circle cx="490.7" cy="351.5" r="0.28"/><circle cx="455.0" cy="368.5" r="0.38"/><circle cx="479.1" cy="364.0" r="0.30"/><circle cx="463.4" cy="359.9" r="0.50"/><circle cx="480.2" cy="373.2" r="0.29"/><circle cx="454.5" cy="353.2" r="0.32"/><circle cx="456.0" cy="354.1" r="0.47"/><circle cx="477.7" cy="364.8" r="0.54"/><circle cx="461.3" cy="356.1" r="0.37"/><circle cx="473.3" cy="356.4" r="0.42"/><circle cx="454.2" cy="360.1" r="0.25"/><circle cx="493.6" cy="363.6" r="0.41"/><circle cx="466.8" cy="366.4" r="0.27"/><circle cx="495.2" cy="361.4" r="0.52"/><circle cx="475.0" cy="363.6" r="0.28"/><circle cx="463.6" cy="367.2" r="0.51"/><circle cx="441.1" cy="362.0" r="0.60"/><circle cx="465.8" cy="358.2" r="0.30"/><circle cx="465.9" cy="355.8" r="0.56"/><circle cx="474.8" cy="358.6" r="0.60"/><circle cx="454.9" cy="365.6" r="0.46"/><circle cx="480.5" cy="361.4" r="0.38"/><circle cx="466.3" cy="346.7" r="0.49"/><circle cx="477.9" cy="364.5" r="0.57"/><circle cx="477.1" cy="363.3" r="0.47"/><circle cx="473.4" cy="358.0" r="0.49"/><circle cx="452.6" cy="363.0" r="0.54"/><circle cx="487.3" cy="361.5" r="0.36"/><circle cx="469.3" cy="347.4" r="0.40"/><circle cx="485.9" cy="366.1" r="0.50"/><circle cx="446.7" cy="357.2" r="0.58"/><circle cx="472.3" cy="369.0" r="0.53"/><circle cx="468.9" cy="373.9" r="0.36"/><circle cx="488.5" cy="353.3" r="0.59"/><circle cx="488.2" cy="347.7" r="0.38"/><circle cx="451.3" cy="363.6" r="0.53"/><circle cx="443.5" cy="369.8" r="0.33"/><circle cx="461.7" cy="359.2" r="0.31"/><circle cx="469.1" cy="360.8" r="0.45"/><circle cx="458.5" cy="355.3" r="0.53"/><circle cx="448.0" cy="358.6" r="0.28"/><circle cx="468.7" cy="360.0" r="0.31"/><circle cx="474.3" cy="354.8" r="0.46"/><circle cx="455.1" cy="367.9" r="0.56"/><circle cx="486.2" cy="340.2" r="0.59"/><circle cx="436.2" cy="375.8" r="0.52"/><circle cx="468.5" cy="364.9" r="0.43"/><circle cx="473.5" cy="355.3" r="0.56"/><circle cx="459.3" cy="351.7" r="0.39"/><circle cx="459.5" cy="364.9" r="0.50"/><circle cx="448.6" cy="365.5" r="0.56"/><circle cx="472.6" cy="358.9" r="0.58"/><circle cx="481.2" cy="369.1" r="0.39"/><circle cx="470.5" cy="359.5" r="0.40"/><circle cx="465.8" cy="357.7" r="0.25"/><circle cx="464.8" cy="373.4" r="0.51"/><circle cx="470.4" cy="365.6" r="0.40"/><circle cx="466.1" cy="353.5" r="0.37"/><circle cx="459.1" cy="359.9" r="0.40"/><circle cx="468.6" cy="350.3" r="0.27"/><circle cx="459.8" cy="367.4" r="0.33"/><circle cx="456.3" cy="366.3" r="0.38"/><circle cx="484.2" cy="369.7" r="0.27"/><circle cx="475.3" cy="356.0" r="0.44"/><circle cx="455.1" cy="358.6" r="0.47"/><circle cx="479.1" cy="353.1" r="0.27"/><circle cx="481.3" cy="370.7" r="0.46"/><circle cx="469.4" cy="351.6" r="0.36"/><circle cx="461.8" cy="351.1" r="0.57"/><circle cx="478.0" cy="362.9" r="0.49"/><circle cx="483.3" cy="352.3" r="0.53"/><circle cx="487.3" cy="362.5" r="0.37"/><circle cx="464.9" cy="353.7" r="0.32"/><circle cx="468.7" cy="369.9" r="0.50"/></g>
<g fill="#20b838" opacity="0.85"><circle cx="480.5" cy="354.2" r="0.33"/><circle cx="471.4" cy="354.1" r="0.59"/><circle cx="452.0" cy="362.8" r="0.31"/><circle cx="473.3" cy="371.7" r="0.48"/><circle cx="486.6" cy="348.1" r="0.51"/><circle cx="469.0" cy="359.8" r="0.46"/><circle cx="463.1" cy="360.2" r="0.65"/><circle cx="480.6" cy="366.3" r="0.41"/><circle cx="456.5" cy="367.3" r="0.42"/><circle cx="479.8" cy="368.2" r="0.55"/><circle cx="504.3" cy="364.8" r="0.34"/><circle cx="470.9" cy="365.7" r="0.45"/><circle cx="436.1" cy="365.5" r="0.34"/><circle cx="448.8" cy="357.9" r="0.40"/><circle cx="459.0" cy="367.8" r="0.65"/><circle cx="469.7" cy="351.2" r="0.33"/><circle cx="452.3" cy="373.1" r="0.47"/><circle cx="452.5" cy="369.0" r="0.32"/><circle cx="453.2" cy="352.8" r="0.35"/><circle cx="443.7" cy="370.8" r="0.40"/><circle cx="454.4" cy="360.6" r="0.52"/><circle cx="458.0" cy="365.8" r="0.67"/><circle cx="445.4" cy="337.3" r="0.43"/><circle cx="454.3" cy="363.4" r="0.65"/><circle cx="454.1" cy="370.4" r="0.37"/><circle cx="456.4" cy="360.0" r="0.67"/><circle cx="445.4" cy="377.1" r="0.53"/><circle cx="458.9" cy="369.3" r="0.67"/><circle cx="456.5" cy="348.4" r="0.53"/><circle cx="461.6" cy="358.1" r="0.63"/><circle cx="453.2" cy="353.6" r="0.42"/><circle cx="468.2" cy="350.7" r="0.43"/><circle cx="493.4" cy="355.8" r="0.57"/><circle cx="478.9" cy="348.6" r="0.45"/><circle cx="498.4" cy="351.2" r="0.57"/><circle cx="452.4" cy="365.7" r="0.32"/><circle cx="488.2" cy="348.0" r="0.54"/><circle cx="442.2" cy="366.5" r="0.31"/><circle cx="459.3" cy="364.6" r="0.54"/><circle cx="456.8" cy="369.8" r="0.66"/><circle cx="462.1" cy="362.8" r="0.31"/><circle cx="475.5" cy="351.6" r="0.48"/><circle cx="474.9" cy="359.7" r="0.30"/><circle cx="471.5" cy="358.1" r="0.43"/><circle cx="449.1" cy="364.3" r="0.39"/><circle cx="453.9" cy="353.4" r="0.69"/><circle cx="478.8" cy="362.0" r="0.34"/><circle cx="466.2" cy="365.3" r="0.31"/><circle cx="471.4" cy="353.8" r="0.60"/><circle cx="476.6" cy="346.3" r="0.31"/><circle cx="442.1" cy="356.0" r="0.55"/><circle cx="454.9" cy="357.0" r="0.63"/><circle cx="454.3" cy="360.5" r="0.50"/><circle cx="458.7" cy="362.2" r="0.57"/><circle cx="477.6" cy="349.1" r="0.30"/><circle cx="448.1" cy="370.1" r="0.35"/><circle cx="445.4" cy="362.8" r="0.51"/><circle cx="466.8" cy="361.4" r="0.58"/><circle cx="479.3" cy="367.3" r="0.51"/><circle cx="466.3" cy="356.6" r="0.69"/></g>
<g fill="#18a030" opacity="0.8"><circle cx="451.8" cy="352.9" r="0.36"/><circle cx="450.9" cy="357.2" r="0.51"/><circle cx="450.0" cy="357.1" r="0.58"/><circle cx="445.8" cy="362.7" r="0.51"/><circle cx="459.4" cy="367.9" r="0.40"/><circle cx="454.6" cy="359.5" r="0.34"/><circle cx="448.2" cy="359.4" r="0.43"/><circle cx="455.0" cy="367.1" r="0.52"/><circle cx="450.7" cy="359.0" r="0.31"/><circle cx="449.9" cy="360.2" r="0.51"/><circle cx="438.7" cy="358.3" r="0.55"/><circle cx="445.7" cy="354.8" r="0.45"/><circle cx="451.5" cy="362.4" r="0.51"/><circle cx="447.7" cy="356.1" r="0.45"/><circle cx="439.1" cy="363.5" r="0.41"/><circle cx="461.4" cy="368.6" r="0.53"/><circle cx="465.9" cy="353.9" r="0.43"/><circle cx="455.9" cy="364.9" r="0.45"/><circle cx="444.0" cy="365.6" r="0.38"/><circle cx="456.1" cy="360.5" r="0.39"/><circle cx="454.1" cy="358.4" r="0.52"/><circle cx="451.1" cy="365.1" r="0.44"/><circle cx="452.2" cy="368.4" r="0.58"/><circle cx="455.1" cy="359.9" r="0.31"/><circle cx="442.8" cy="363.4" r="0.46"/></g>
<g fill="#d01828" opacity="0.7"><circle cx="507.5" cy="346.1" r="0.42"/><circle cx="495.7" cy="353.0" r="0.27"/><circle cx="490.8" cy="353.1" r="0.33"/><circle cx="498.0" cy="353.6" r="0.47"/><circle cx="494.8" cy="347.5" r="0.36"/><circle cx="497.0" cy="356.2" r="0.35"/><circle cx="488.3" cy="351.8" r="0.32"/><circle cx="485.4" cy="352.6" r="0.33"/><circle cx="490.4" cy="347.6" r="0.33"/><circle cx="493.1" cy="346.0" r="0.46"/><circle cx="490.0" cy="346.8" r="0.39"/><circle cx="494.7" cy="345.2" r="0.29"/><circle cx="493.7" cy="351.7" r="0.25"/><circle cx="496.6" cy="344.2" r="0.37"/><circle cx="495.6" cy="347.6" r="0.28"/><circle cx="495.8" cy="347.9" r="0.47"/><circle cx="485.6" cy="348.5" r="0.46"/><circle cx="492.9" cy="351.0" r="0.36"/><circle cx="496.5" cy="344.6" r="0.43"/><circle cx="502.6" cy="348.6" r="0.38"/></g>
</g>
</g>
<rect x="490.8" y="296.6" width="41.400000000000034" height="40.799999999999955" fill="#0a030a"/>
<clipPath id="cp8"><rect x="490.8" y="296.6" width="41.400000000000034" height="40.799999999999955"/></clipPath><g clip-path="url(#cp8)">
<g filter="url(#b0)">
<ellipse cx="495" cy="333" rx="19" ry="21" fill="#3129d0" filter="url(#b1)"/>
<g fill="#e01828" opacity="0.8"><circle cx="521.5" cy="316.8" r="0.50"/><circle cx="508.2" cy="334.8" r="0.65"/><circle cx="514.3" cy="319.4" r="0.34"/><circle cx="514.2" cy="334.5" r="0.38"/><circle cx="522.9" cy="307.0" r="0.55"/><circle cx="502.5" cy="320.9" r="0.57"/><circle cx="492.1" cy="330.9" r="0.48"/><circle cx="500.9" cy="309.1" r="0.49"/><circle cx="521.5" cy="303.9" r="0.32"/><circle cx="500.4" cy="322.5" r="0.44"/><circle cx="522.4" cy="326.3" r="0.43"/><circle cx="515.2" cy="302.5" r="0.51"/><circle cx="517.6" cy="306.2" r="0.53"/><circle cx="496.5" cy="336.3" r="0.49"/><circle cx="529.0" cy="323.9" r="0.38"/><circle cx="521.1" cy="321.7" r="0.43"/><circle cx="519.5" cy="327.6" r="0.54"/><circle cx="499.8" cy="336.0" r="0.62"/><circle cx="508.8" cy="334.4" r="0.65"/><circle cx="505.1" cy="304.4" r="0.39"/><circle cx="511.1" cy="302.5" r="0.38"/><circle cx="521.1" cy="297.4" r="0.51"/><circle cx="507.7" cy="325.6" r="0.39"/><circle cx="510.6" cy="305.3" r="0.31"/><circle cx="526.6" cy="311.6" r="0.40"/><circle cx="529.5" cy="311.7" r="0.49"/><circle cx="496.6" cy="313.4" r="0.61"/><circle cx="524.9" cy="330.0" r="0.62"/><circle cx="500.4" cy="298.7" r="0.35"/><circle cx="517.7" cy="318.9" r="0.43"/><circle cx="520.3" cy="305.6" r="0.51"/><circle cx="508.1" cy="302.3" r="0.57"/><circle cx="498.4" cy="329.2" r="0.57"/><circle cx="508.9" cy="315.1" r="0.37"/><circle cx="496.6" cy="325.0" r="0.43"/><circle cx="514.1" cy="311.6" r="0.39"/><circle cx="497.5" cy="327.7" r="0.45"/><circle cx="497.1" cy="332.2" r="0.35"/><circle cx="500.3" cy="303.0" r="0.50"/><circle cx="523.0" cy="297.9" r="0.62"/><circle cx="519.9" cy="330.5" r="0.45"/><circle cx="508.9" cy="300.4" r="0.39"/><circle cx="526.9" cy="308.2" r="0.62"/><circle cx="525.3" cy="334.2" r="0.35"/><circle cx="508.3" cy="330.6" r="0.41"/><circle cx="500.9" cy="297.4" r="0.49"/><circle cx="513.6" cy="305.2" r="0.39"/><circle cx="517.0" cy="303.6" r="0.58"/><circle cx="526.9" cy="313.7" r="0.35"/><circle cx="514.4" cy="308.6" r="0.34"/><circle cx="520.2" cy="319.4" r="0.39"/><circle cx="501.0" cy="326.1" r="0.62"/><circle cx="505.4" cy="320.5" r="0.38"/><circle cx="510.1" cy="320.3" r="0.41"/><circle cx="515.8" cy="318.7" r="0.32"/><circle cx="495.7" cy="313.5" r="0.35"/><circle cx="513.4" cy="320.8" r="0.52"/><circle cx="527.5" cy="321.4" r="0.57"/><circle cx="495.6" cy="332.2" r="0.63"/><circle cx="515.3" cy="330.4" r="0.49"/><circle cx="508.8" cy="303.1" r="0.47"/><circle cx="520.3" cy="329.0" r="0.61"/><circle cx="512.3" cy="335.2" r="0.43"/><circle cx="491.6" cy="314.0" r="0.49"/><circle cx="522.8" cy="306.1" r="0.31"/><circle cx="520.7" cy="304.4" r="0.60"/><circle cx="514.2" cy="302.1" r="0.48"/><circle cx="522.8" cy="305.7" r="0.63"/><circle cx="493.1" cy="302.7" r="0.51"/><circle cx="518.8" cy="321.2" r="0.62"/><circle cx="499.1" cy="298.5" r="0.49"/><circle cx="505.4" cy="312.8" r="0.44"/><circle cx="527.3" cy="308.2" r="0.54"/><circle cx="514.3" cy="308.2" r="0.62"/><circle cx="501.4" cy="308.9" r="0.37"/><circle cx="519.8" cy="324.9" r="0.43"/><circle cx="495.7" cy="320.9" r="0.42"/><circle cx="513.6" cy="323.3" r="0.30"/><circle cx="492.7" cy="330.0" r="0.60"/><circle cx="494.4" cy="305.7" r="0.45"/><circle cx="525.3" cy="309.2" r="0.63"/><circle cx="494.6" cy="333.5" r="0.32"/><circle cx="515.7" cy="336.2" r="0.55"/><circle cx="528.6" cy="310.9" r="0.63"/><circle cx="528.2" cy="307.8" r="0.57"/><circle cx="528.8" cy="305.3" r="0.44"/><circle cx="522.7" cy="320.0" r="0.62"/><circle cx="508.7" cy="314.9" r="0.36"/><circle cx="502.2" cy="332.3" r="0.39"/><circle cx="527.9" cy="329.4" r="0.50"/><circle cx="503.3" cy="296.7" r="0.34"/><circle cx="525.1" cy="335.7" r="0.64"/><circle cx="502.4" cy="334.8" r="0.45"/><circle cx="506.0" cy="333.7" r="0.59"/><circle cx="518.9" cy="308.3" r="0.34"/><circle cx="498.4" cy="307.3" r="0.37"/><circle cx="514.4" cy="309.4" r="0.38"/><circle cx="527.1" cy="311.6" r="0.30"/><circle cx="491.2" cy="319.1" r="0.31"/><circle cx="513.9" cy="297.6" r="0.46"/><circle cx="516.4" cy="318.6" r="0.38"/><circle cx="525.5" cy="336.3" r="0.58"/><circle cx="529.4" cy="336.2" r="0.43"/><circle cx="513.3" cy="313.5" r="0.58"/><circle cx="497.8" cy="305.8" r="0.46"/><circle cx="513.3" cy="337.0" r="0.42"/><circle cx="491.0" cy="312.4" r="0.61"/><circle cx="494.8" cy="317.8" r="0.51"/><circle cx="525.5" cy="310.0" r="0.51"/><circle cx="530.2" cy="336.3" r="0.50"/><circle cx="504.8" cy="323.1" r="0.56"/><circle cx="519.0" cy="324.1" r="0.43"/><circle cx="520.4" cy="310.9" r="0.38"/><circle cx="494.9" cy="319.2" r="0.36"/><circle cx="502.5" cy="308.7" r="0.43"/><circle cx="508.0" cy="336.4" r="0.48"/><circle cx="513.5" cy="312.9" r="0.49"/><circle cx="524.5" cy="317.9" r="0.48"/><circle cx="505.3" cy="304.2" r="0.37"/><circle cx="494.5" cy="308.2" r="0.31"/><circle cx="508.0" cy="320.0" r="0.34"/><circle cx="522.1" cy="315.0" r="0.52"/><circle cx="508.6" cy="329.0" r="0.54"/><circle cx="495.8" cy="319.0" r="0.39"/><circle cx="521.7" cy="311.7" r="0.38"/><circle cx="492.2" cy="336.8" r="0.34"/><circle cx="501.2" cy="334.6" r="0.32"/><circle cx="507.8" cy="314.3" r="0.54"/><circle cx="523.2" cy="336.4" r="0.41"/><circle cx="494.3" cy="305.4" r="0.30"/><circle cx="501.9" cy="321.9" r="0.61"/><circle cx="494.9" cy="307.5" r="0.61"/><circle cx="515.1" cy="312.9" r="0.33"/><circle cx="493.1" cy="305.5" r="0.52"/><circle cx="493.2" cy="317.1" r="0.59"/><circle cx="490.9" cy="308.3" r="0.44"/><circle cx="516.0" cy="326.6" r="0.54"/><circle cx="508.8" cy="310.4" r="0.52"/><circle cx="509.8" cy="334.5" r="0.49"/><circle cx="515.0" cy="323.8" r="0.47"/><circle cx="511.2" cy="323.7" r="0.51"/><circle cx="532.1" cy="309.1" r="0.47"/><circle cx="531.1" cy="329.8" r="0.49"/><circle cx="503.4" cy="303.9" r="0.45"/><circle cx="508.5" cy="314.2" r="0.39"/><circle cx="510.7" cy="320.0" r="0.34"/><circle cx="518.1" cy="325.6" r="0.37"/><circle cx="501.1" cy="298.2" r="0.47"/><circle cx="518.7" cy="313.4" r="0.51"/><circle cx="515.8" cy="298.4" r="0.32"/><circle cx="511.8" cy="334.3" r="0.55"/><circle cx="509.3" cy="307.2" r="0.35"/><circle cx="517.6" cy="327.8" r="0.44"/><circle cx="494.3" cy="307.9" r="0.55"/><circle cx="522.7" cy="312.9" r="0.61"/><circle cx="506.9" cy="297.6" r="0.37"/><circle cx="527.7" cy="325.4" r="0.33"/><circle cx="502.7" cy="312.7" r="0.47"/><circle cx="491.8" cy="334.2" r="0.49"/><circle cx="501.7" cy="297.9" r="0.50"/><circle cx="529.4" cy="325.9" r="0.60"/><circle cx="527.0" cy="323.7" r="0.32"/><circle cx="503.7" cy="320.3" r="0.45"/><circle cx="499.8" cy="299.4" r="0.60"/><circle cx="518.4" cy="308.8" r="0.46"/><circle cx="526.9" cy="302.5" r="0.52"/><circle cx="500.4" cy="333.5" r="0.58"/><circle cx="530.0" cy="312.2" r="0.48"/><circle cx="504.1" cy="310.9" r="0.63"/><circle cx="530.9" cy="337.2" r="0.62"/><circle cx="511.1" cy="323.5" r="0.62"/><circle cx="508.6" cy="334.1" r="0.58"/><circle cx="502.6" cy="311.3" r="0.54"/><circle cx="497.6" cy="307.0" r="0.37"/><circle cx="495.2" cy="333.7" r="0.65"/><circle cx="524.8" cy="317.2" r="0.56"/><circle cx="519.2" cy="314.6" r="0.48"/><circle cx="496.1" cy="306.5" r="0.42"/><circle cx="505.6" cy="323.5" r="0.38"/><circle cx="500.6" cy="332.3" r="0.57"/><circle cx="529.4" cy="328.4" r="0.37"/><circle cx="511.0" cy="330.6" r="0.58"/><circle cx="500.2" cy="316.3" r="0.51"/><circle cx="491.3" cy="306.5" r="0.56"/><circle cx="518.4" cy="314.8" r="0.50"/><circle cx="512.6" cy="310.7" r="0.33"/><circle cx="521.5" cy="328.1" r="0.45"/><circle cx="522.7" cy="330.4" r="0.54"/><circle cx="524.3" cy="336.0" r="0.31"/><circle cx="529.8" cy="315.1" r="0.57"/><circle cx="521.3" cy="300.6" r="0.51"/><circle cx="494.5" cy="326.5" r="0.42"/><circle cx="506.4" cy="307.7" r="0.58"/><circle cx="517.3" cy="308.8" r="0.56"/><circle cx="498.5" cy="329.3" r="0.51"/><circle cx="522.5" cy="321.7" r="0.64"/><circle cx="519.6" cy="315.5" r="0.51"/><circle cx="514.3" cy="308.2" r="0.41"/><circle cx="523.9" cy="330.0" r="0.64"/><circle cx="519.2" cy="317.2" r="0.44"/><circle cx="520.0" cy="323.1" r="0.63"/><circle cx="521.8" cy="312.3" r="0.40"/><circle cx="492.7" cy="328.4" r="0.45"/><circle cx="507.1" cy="298.8" r="0.47"/><circle cx="528.0" cy="307.9" r="0.56"/><circle cx="522.2" cy="323.5" r="0.51"/><circle cx="501.1" cy="324.1" r="0.50"/><circle cx="530.8" cy="317.6" r="0.42"/><circle cx="528.3" cy="322.1" r="0.42"/><circle cx="517.7" cy="302.8" r="0.37"/><circle cx="527.4" cy="315.5" r="0.58"/><circle cx="499.7" cy="315.8" r="0.38"/><circle cx="524.0" cy="321.0" r="0.44"/><circle cx="506.7" cy="305.2" r="0.37"/><circle cx="519.4" cy="309.3" r="0.34"/><circle cx="506.8" cy="315.1" r="0.65"/><circle cx="506.8" cy="313.1" r="0.64"/><circle cx="520.7" cy="315.3" r="0.44"/><circle cx="500.1" cy="302.8" r="0.47"/><circle cx="517.3" cy="300.9" r="0.47"/><circle cx="498.0" cy="321.2" r="0.42"/><circle cx="518.4" cy="328.5" r="0.44"/><circle cx="506.6" cy="299.8" r="0.37"/><circle cx="516.5" cy="329.5" r="0.35"/><circle cx="531.2" cy="333.9" r="0.43"/><circle cx="513.1" cy="324.0" r="0.42"/><circle cx="506.0" cy="326.0" r="0.47"/><circle cx="508.9" cy="319.6" r="0.34"/><circle cx="510.3" cy="308.6" r="0.36"/><circle cx="512.5" cy="325.3" r="0.48"/><circle cx="511.5" cy="323.9" r="0.45"/><circle cx="531.4" cy="305.3" r="0.30"/><circle cx="514.3" cy="325.0" r="0.43"/><circle cx="507.3" cy="310.6" r="0.39"/><circle cx="523.6" cy="331.8" r="0.40"/><circle cx="514.2" cy="315.4" r="0.35"/><circle cx="521.2" cy="318.3" r="0.65"/><circle cx="528.5" cy="333.5" r="0.39"/><circle cx="495.3" cy="329.7" r="0.34"/><circle cx="519.3" cy="303.8" r="0.55"/><circle cx="493.0" cy="300.2" r="0.60"/><circle cx="512.1" cy="315.0" r="0.64"/><circle cx="523.3" cy="305.8" r="0.55"/><circle cx="506.8" cy="315.5" r="0.41"/><circle cx="500.2" cy="309.0" r="0.40"/><circle cx="498.6" cy="332.3" r="0.43"/><circle cx="514.0" cy="329.7" r="0.54"/><circle cx="497.3" cy="335.5" r="0.63"/><circle cx="525.5" cy="310.0" r="0.59"/><circle cx="517.4" cy="297.9" r="0.43"/><circle cx="519.7" cy="318.8" r="0.63"/><circle cx="523.5" cy="330.7" r="0.64"/><circle cx="505.0" cy="333.6" r="0.30"/><circle cx="523.9" cy="300.2" r="0.47"/><circle cx="509.1" cy="299.5" r="0.52"/><circle cx="523.4" cy="305.7" r="0.39"/><circle cx="522.7" cy="318.2" r="0.31"/><circle cx="503.5" cy="335.1" r="0.40"/><circle cx="502.8" cy="315.0" r="0.61"/><circle cx="524.3" cy="312.3" r="0.53"/><circle cx="491.9" cy="299.2" r="0.43"/><circle cx="517.1" cy="302.3" r="0.32"/><circle cx="526.1" cy="304.2" r="0.32"/><circle cx="494.3" cy="299.8" r="0.40"/><circle cx="514.8" cy="323.4" r="0.40"/><circle cx="512.1" cy="310.2" r="0.50"/><circle cx="495.3" cy="322.1" r="0.30"/><circle cx="529.0" cy="305.1" r="0.49"/><circle cx="498.6" cy="314.7" r="0.39"/><circle cx="517.3" cy="328.4" r="0.60"/><circle cx="531.1" cy="315.2" r="0.49"/><circle cx="505.3" cy="308.4" r="0.48"/><circle cx="531.1" cy="298.9" r="0.56"/><circle cx="504.2" cy="321.0" r="0.39"/><circle cx="520.6" cy="316.8" r="0.41"/><circle cx="509.3" cy="296.8" r="0.33"/><circle cx="528.4" cy="300.0" r="0.44"/><circle cx="518.5" cy="298.1" r="0.63"/><circle cx="499.4" cy="335.9" r="0.45"/><circle cx="515.1" cy="321.2" r="0.33"/></g>
<g fill="#b020b0" opacity="0.7"><circle cx="501.5" cy="331.0" r="0.62"/><circle cx="506.4" cy="329.3" r="0.35"/><circle cx="499.5" cy="324.9" r="0.32"/><circle cx="507.0" cy="314.6" r="0.53"/><circle cx="496.5" cy="316.1" r="0.68"/><circle cx="503.9" cy="330.6" r="0.54"/><circle cx="502.8" cy="334.2" r="0.33"/><circle cx="498.8" cy="317.6" r="0.54"/><circle cx="499.2" cy="335.4" r="0.39"/><circle cx="496.5" cy="335.3" r="0.59"/><circle cx="499.9" cy="321.5" r="0.59"/><circle cx="494.0" cy="330.3" r="0.39"/><circle cx="507.9" cy="313.9" r="0.67"/><circle cx="509.1" cy="312.6" r="0.36"/><circle cx="510.2" cy="332.8" r="0.42"/><circle cx="507.8" cy="326.7" r="0.40"/><circle cx="505.4" cy="322.5" r="0.36"/><circle cx="508.8" cy="330.2" r="0.40"/><circle cx="499.9" cy="329.3" r="0.45"/><circle cx="496.3" cy="325.4" r="0.68"/><circle cx="492.8" cy="318.4" r="0.49"/><circle cx="511.7" cy="337.2" r="0.30"/><circle cx="504.4" cy="315.5" r="0.38"/><circle cx="493.7" cy="324.7" r="0.70"/><circle cx="511.3" cy="321.3" r="0.66"/><circle cx="505.4" cy="313.9" r="0.66"/><circle cx="496.6" cy="336.9" r="0.35"/><circle cx="509.9" cy="325.0" r="0.51"/><circle cx="494.7" cy="324.4" r="0.60"/><circle cx="502.6" cy="336.9" r="0.51"/><circle cx="510.0" cy="315.4" r="0.59"/><circle cx="503.5" cy="334.4" r="0.43"/><circle cx="500.6" cy="332.6" r="0.40"/><circle cx="498.7" cy="333.5" r="0.56"/><circle cx="501.2" cy="312.4" r="0.61"/><circle cx="499.6" cy="318.0" r="0.45"/><circle cx="493.7" cy="333.4" r="0.62"/><circle cx="511.3" cy="329.1" r="0.36"/><circle cx="499.8" cy="337.3" r="0.30"/><circle cx="498.1" cy="315.8" r="0.37"/><circle cx="496.6" cy="327.7" r="0.33"/><circle cx="509.2" cy="322.9" r="0.37"/><circle cx="492.9" cy="325.3" r="0.44"/><circle cx="501.4" cy="314.7" r="0.44"/><circle cx="501.5" cy="314.1" r="0.50"/><circle cx="508.6" cy="327.0" r="0.35"/><circle cx="504.2" cy="314.1" r="0.36"/><circle cx="491.0" cy="325.5" r="0.37"/><circle cx="496.7" cy="315.1" r="0.66"/><circle cx="493.9" cy="329.1" r="0.62"/><circle cx="500.3" cy="326.8" r="0.43"/><circle cx="508.2" cy="329.4" r="0.33"/><circle cx="505.7" cy="315.6" r="0.49"/><circle cx="494.7" cy="324.3" r="0.56"/><circle cx="506.3" cy="320.3" r="0.32"/><circle cx="500.3" cy="335.2" r="0.52"/><circle cx="503.9" cy="331.4" r="0.56"/><circle cx="510.9" cy="336.2" r="0.60"/><circle cx="507.9" cy="315.6" r="0.41"/><circle cx="505.9" cy="326.7" r="0.64"/></g>
<g fill="#50e840" opacity="0.95"><circle cx="522.8" cy="310.1" r="0.59"/><circle cx="518.0" cy="301.1" r="0.75"/><circle cx="502.2" cy="313.0" r="0.83"/><circle cx="517.0" cy="321.8" r="0.53"/><circle cx="527.8" cy="325.4" r="0.95"/><circle cx="516.2" cy="323.0" r="0.94"/><circle cx="521.7" cy="322.5" r="0.52"/><circle cx="491.8" cy="325.8" r="0.92"/><circle cx="506.8" cy="305.2" r="0.72"/><circle cx="525.6" cy="327.4" r="0.57"/><circle cx="499.1" cy="305.1" r="0.87"/><circle cx="501.2" cy="332.9" r="0.71"/><circle cx="498.8" cy="313.5" r="0.57"/><circle cx="527.2" cy="297.5" r="0.71"/><circle cx="506.5" cy="298.2" r="0.61"/><circle cx="531.7" cy="331.6" r="0.71"/><circle cx="526.9" cy="333.7" r="0.93"/><circle cx="520.9" cy="319.7" r="0.76"/><circle cx="520.5" cy="321.1" r="0.99"/><circle cx="498.3" cy="333.3" r="0.88"/><circle cx="509.1" cy="331.2" r="0.64"/><circle cx="507.0" cy="320.1" r="0.98"/></g>
<g fill="#c0e030" opacity="0.95"><circle cx="500.8" cy="331.2" r="0.76"/><circle cx="528.9" cy="308.8" r="0.77"/><circle cx="527.6" cy="332.7" r="0.78"/><circle cx="525.6" cy="322.5" r="0.72"/><circle cx="498.8" cy="317.8" r="0.89"/><circle cx="530.0" cy="298.3" r="0.62"/><circle cx="500.7" cy="331.0" r="0.57"/><circle cx="522.5" cy="304.6" r="0.64"/></g>
</g>
</g>
<rect x="491.40000000000003" y="297.20000000000005" width="40.20000000000003" height="39.59999999999995" fill="none" stroke="#ececec" stroke-width="1.4"/>
<rect x="483.3" y="340.3" width="16.5" height="16.7" fill="none" stroke="#f2f2f2" stroke-width="1.4"/>
<text x="418.2" y="353.2" font-size="8.2" text-anchor="middle" font-weight="bold" fill="#000" transform="rotate(-90 418.2 353.2)">L858R</text>
</g>
<g id="panelK">
<text x="6.3" y="449.4" font-size="13.1" text-anchor="start" font-weight="bold" fill="#000">K</text>
<text x="87.8" y="448.8" font-size="8.6" text-anchor="middle" font-weight="bold" fill="#000">EGFR-WT</text>
<text x="212.8" y="448.8" font-size="8.6" text-anchor="middle" font-weight="bold" fill="#000">EGFR-mutation</text>
<text x="22.4" y="510.4" font-size="7.8" text-anchor="middle" font-weight="bold" fill="#000" transform="rotate(-90 22.4 510.4)">HRS</text>
<rect x="26.7" y="454.4" width="117.3" height="116.60000000000002" fill="#c5bfde"/>
<clipPath id="cp9"><rect x="26.7" y="454.4" width="117.3" height="116.60000000000002"/></clipPath><g clip-path="url(#cp9)">
<g filter="url(#bk)">
<ellipse cx="62" cy="478" rx="22" ry="12" fill="#c0a8b8" opacity="0.8"/>
<ellipse cx="105" cy="505" rx="26" ry="14" fill="#cfc8e4" opacity="0.9" transform="rotate(-30 105 505)"/>
<ellipse cx="125" cy="470" rx="18" ry="10" fill="#cfc8e4" opacity="0.9"/>
<ellipse cx="50" cy="540" rx="20" ry="22" fill="#a8a0d0" opacity="0.9"/>
<ellipse cx="85" cy="520" rx="18" ry="8" fill="#d2cbe6" opacity="0.8" transform="rotate(-20 85 520)"/>
</g>
</g>
<rect x="26.7" y="454.4" width="117.3" height="116.60000000000002" fill="#000" filter="url(#sp1)"/>
<rect x="97.6" y="524.1" width="46.400000000000006" height="46.89999999999998" fill="#dcd7ea"/>
<clipPath id="cp10"><rect x="97.6" y="524.1" width="46.400000000000006" height="46.89999999999998"/></clipPath><g clip-path="url(#cp10)">
<g filter="url(#b2)">
<ellipse cx="118" cy="548" rx="14" ry="6" fill="#8a83c6" transform="rotate(-35 118 548)"/>
<ellipse cx="132" cy="560" rx="12" ry="6" fill="#9890cc" transform="rotate(-30 132 560)"/>
<ellipse cx="108" cy="532" rx="9" ry="5" fill="#9890cc" transform="rotate(-30 108 532)"/>
<ellipse cx="135" cy="535" rx="9" ry="6" fill="#a39bd0"/>
</g>
</g>
<rect x="97.6" y="524.1" width="46.400000000000006" height="46.89999999999998" fill="#000" filter="url(#sp2)" opacity="0.7"/>
<rect x="97.6" y="524.1" width="46.400000000000006" height="46.89999999999998" fill="none" stroke="#111" stroke-width="1.1"/>
<rect x="26.7" y="454.4" width="117.3" height="116.60000000000002" fill="none" stroke="#111" stroke-width="1.1"/>
<rect x="49.1" y="528.7" width="24" height="23.5" fill="none" stroke="#111" stroke-width="1.9" stroke-dasharray="1.8 1.86"/>
<text x="42" y="560.2" font-size="7.3" text-anchor="middle" font-weight="bold" fill="#000">100 µm</text>
<line x1="35.50" y1="563.80" x2="45.80" y2="563.80" stroke="#000" stroke-width="1.2"/>
<rect x="151.5" y="454.4" width="116.69999999999999" height="116.60000000000002" fill="#b9b0d4"/>
<clipPath id="cp11"><rect x="151.5" y="454.4" width="116.69999999999999" height="116.60000000000002"/></clipPath><g clip-path="url(#cp11)">
<g filter="url(#bk3)" fill="#a9725a">
<ellipse cx="174.0" cy="486.9" rx="21.8" ry="18.5" opacity="0.7"/>
<ellipse cx="195.8" cy="509.8" rx="30.5" ry="16.4" opacity="0.7"/>
<ellipse cx="182.7" cy="541.5" rx="28.4" ry="12.0" opacity="0.7"/>
<ellipse cx="224.2" cy="509.8" rx="15.3" ry="12.0" opacity="0.7"/>
<ellipse cx="251.5" cy="503.3" rx="12.0" ry="9.8" opacity="0.7"/>
<ellipse cx="239.5" cy="488.0" rx="8.7" ry="6.5" opacity="0.7"/>
<ellipse cx="160.9" cy="517.5" rx="12.0" ry="14.2" opacity="0.7"/>
<ellipse cx="198.0" cy="556.7" rx="15.3" ry="10.9" opacity="0.7"/>
<ellipse cx="167.5" cy="563.3" rx="16.4" ry="9.2" opacity="0.7"/>
<ellipse cx="160.9" cy="467.3" rx="9.8" ry="9.8" opacity="0.7"/>
<ellipse cx="163.1" cy="495.6" rx="12.0" ry="12.0" opacity="0.7"/>
</g>
<path d="M158.7 464.0 Q166.4 467.3 172.9 472.7 L171.8 474.3 Q165.3 469.5 158.3 466.0 Z" fill="#ece6ee" filter="url(#b1)"/>
<path d="M243.8 465.1 Q249.3 459.6 252.6 454.2 L254.7 454.6 Q250.8 461.2 245.6 466.8 Z" fill="#ece6ee" filter="url(#b1)"/>
<path d="M250.4 517.5 Q259.1 514.2 268.9 515.3 L268.9 517.5 Q259.1 516.8 250.8 519.6 Z" fill="#ece6ee" filter="url(#b1)"/>
</g>
<rect x="151.5" y="454.4" width="116.69999999999999" height="116.60000000000002" fill="#000" filter="url(#sp2)"/>
<path d="M156.5 520.1 Q163.1 521.4 171.8 524.2 Q178.4 526.2 184.5 526.2 Q191.0 523.1 195.8 517.7 Q198.2 516.4 200.6 520.1 Q204.5 526.6 211.1 533.6 L209.6 535.1 Q204.5 531.4 200.8 527.9 Q198.4 525.8 196.3 526.4 Q192.5 529.0 187.1 529.9 Q178.4 529.7 170.7 527.1 Q163.1 524.7 156.1 521.8 Z" fill="#fbf9f8" filter="url(#b1)"/>
<rect x="221.0" y="524.1" width="47.19999999999999" height="46.89999999999998" fill="#d9d3e6"/>
<clipPath id="cp12"><rect x="221.0" y="524.1" width="47.19999999999999" height="46.89999999999998"/></clipPath><g clip-path="url(#cp12)">
<g filter="url(#b2)" fill="#a8705a">
<ellipse cx="234.0" cy="543.6" rx="9.2" ry="7.4" transform="rotate(-30 234.0 543.6)"/>
<ellipse cx="252.6" cy="536.0" rx="11.3" ry="5.7" transform="rotate(-15 252.6 536.0)"/>
<ellipse cx="252.1" cy="554.6" rx="11.3" ry="7.0" transform="rotate(-10 252.1 554.6)"/>
<ellipse cx="232.9" cy="563.7" rx="8.7" ry="4.8" transform="rotate(0 232.9 563.7)"/>
<ellipse cx="263.5" cy="545.8" rx="4.4" ry="6.5" transform="rotate(0 263.5 545.8)"/>
</g>
</g>
<rect x="221.0" y="524.1" width="47.19999999999999" height="46.89999999999998" fill="#000" filter="url(#sp1)" opacity="0.65"/>
<rect x="221.0" y="524.1" width="47.19999999999999" height="46.89999999999998" fill="none" stroke="#111" stroke-width="1.1"/>
<rect x="151.5" y="454.4" width="116.69999999999999" height="116.60000000000002" fill="none" stroke="#111" stroke-width="1.1"/>
<rect x="187.7" y="544.5" width="24.6" height="23.2" fill="none" stroke="#111" stroke-width="1.9" stroke-dasharray="1.8 1.86"/>
</g>
<g id="panelL">
<text x="277.1" y="448.7" font-size="13.1" text-anchor="start" font-weight="bold" fill="#000">L</text>
<line x1="313.60" y1="458.15" x2="313.60" y2="551.15" stroke="#000" stroke-width="1.15"/>
<line x1="313.15" y1="550.70" x2="375.00" y2="550.70" stroke="#000" stroke-width="1.15"/>
<line x1="310.70" y1="550.70" x2="313.60" y2="550.70" stroke="#000" stroke-width="1.15"/>
<text x="309.90000000000003" y="552.9680000000001" font-size="6.3" text-anchor="end" font-weight="bold" fill="#000">0</text>
<line x1="310.70" y1="520.00" x2="313.60" y2="520.00" stroke="#000" stroke-width="1.15"/>
<text x="309.90000000000003" y="522.268" font-size="6.3" text-anchor="end" font-weight="bold" fill="#000">100</text>
<line x1="310.70" y1="489.30" x2="313.60" y2="489.30" stroke="#000" stroke-width="1.15"/>
<text x="309.90000000000003" y="491.56800000000004" font-size="6.3" text-anchor="end" font-weight="bold" fill="#000">200</text>
<line x1="310.70" y1="458.60" x2="313.60" y2="458.60" stroke="#000" stroke-width="1.15"/>
<text x="309.90000000000003" y="460.868" font-size="6.3" text-anchor="end" font-weight="bold" fill="#000">300</text>
<line x1="331.70" y1="550.70" x2="331.70" y2="553.60" stroke="#000" stroke-width="1.15"/>
<line x1="358.10" y1="550.70" x2="358.10" y2="553.60" stroke="#000" stroke-width="1.15"/>
<rect x="323.10" y="520.00" width="17.20" height="30.70" fill="#c9d8fb" stroke="#3a3cf5" stroke-width="1.3"/>
<rect x="349.50" y="497.28" width="17.20" height="53.42" fill="#fddada" stroke="#f82828" stroke-width="1.3"/>
<line x1="331.70" y1="498.20" x2="331.70" y2="520.00" stroke="#3a3cf5" stroke-width="1.15"/>
<line x1="328.20" y1="498.20" x2="335.20" y2="498.20" stroke="#3a3cf5" stroke-width="1.15"/>
<line x1="328.2" y1="520.0" x2="335.2" y2="520.0" stroke="#3a3cf5" stroke-width="0.9"/>
<line x1="358.10" y1="473.34" x2="358.10" y2="521.23" stroke="#f82828" stroke-width="1.15"/>
<line x1="354.60" y1="473.34" x2="361.60" y2="473.34" stroke="#f82828" stroke-width="1.15"/>
<circle cx="331.70" cy="480.70" r="1.4" fill="#fff" stroke="#3a3cf5" stroke-width="1.15"/>
<circle cx="331.70" cy="487.46" r="1.4" fill="#fff" stroke="#3a3cf5" stroke-width="1.15"/>
<circle cx="331.70" cy="494.83" r="1.4" fill="#fff" stroke="#3a3cf5" stroke-width="1.15"/>
<circle cx="331.70" cy="513.25" r="1.4" fill="#fff" stroke="#3a3cf5" stroke-width="1.15"/>
<circle cx="329.20" cy="522.46" r="1.4" fill="#fff" stroke="#3a3cf5" stroke-width="1.15"/>
<circle cx="334.40" cy="522.46" r="1.4" fill="#fff" stroke="#3a3cf5" stroke-width="1.15"/>
<circle cx="331.80" cy="528.60" r="1.4" fill="#fff" stroke="#3a3cf5" stroke-width="1.15"/>
<circle cx="329.20" cy="535.35" r="1.4" fill="#fff" stroke="#3a3cf5" stroke-width="1.15"/>
<circle cx="334.40" cy="535.35" r="1.4" fill="#fff" stroke="#3a3cf5" stroke-width="1.15"/>
<circle cx="329.20" cy="542.10" r="1.4" fill="#fff" stroke="#3a3cf5" stroke-width="1.15"/>
<circle cx="334.40" cy="542.10" r="1.4" fill="#fff" stroke="#3a3cf5" stroke-width="1.15"/>
<path d="M358.10 462.54 L360.30 466.50 L355.90 466.50 Z" fill="#f82828"/>
<path d="M355.50 476.66 L357.70 480.62 L353.30 480.62 Z" fill="#f82828"/>
<path d="M361.00 476.66 L363.20 480.62 L358.80 480.62 Z" fill="#f82828"/>
<path d="M358.10 471.14 L360.30 475.10 L355.90 475.10 Z" fill="#f82828"/>
<path d="M352.50 493.85 L354.70 497.81 L350.30 497.81 Z" fill="#f82828"/>
<path d="M358.10 496.31 L360.30 500.27 L355.90 500.27 Z" fill="#f82828"/>
<path d="M352.50 511.66 L354.70 515.62 L350.30 515.62 Z" fill="#f82828"/>
<path d="M358.10 513.20 L360.30 517.16 L355.90 517.16 Z" fill="#f82828"/>
<path d="M363.50 513.20 L365.70 517.16 L361.30 517.16 Z" fill="#f82828"/>
<path d="M358.10 536.83 L360.30 540.79 L355.90 540.79 Z" fill="#f82828"/>
<path d="M333.20 460.60 V456.20 H358.50 V460.60" fill="none" stroke="#000" stroke-width="1.3" stroke-linejoin="round"/>
<text x="344.9" y="450.7" font-size="7.1" text-anchor="middle" font-weight="bold"><tspan font-style="italic">P</tspan> = 0.0288</text>
<text x="294.3" y="505" font-size="7.7" text-anchor="middle" font-weight="bold" fill="#000" transform="rotate(-90 294.3 505)">H-score of HRS</text>
<text x="337.4" y="561.8" font-size="6.9" text-anchor="end" font-weight="bold" fill="#000" transform="rotate(-30 337.4 561.8)">EGFR-WT</text>
<text x="365.5" y="561.8" font-size="6.9" text-anchor="end" font-weight="bold" fill="#000" transform="rotate(-30 365.5 561.8)">EGFR-mutation</text>
</g>
<g id="panelM">
<text x="384.1" y="448.7" font-size="13.1" text-anchor="start" font-weight="bold" fill="#000">M</text>
<line x1="410.40" y1="463.05" x2="410.40" y2="551.45" stroke="#000" stroke-width="1.15"/>
<line x1="409.95" y1="551.00" x2="541.29" y2="551.00" stroke="#000" stroke-width="1.15"/>
<line x1="407.00" y1="551.00" x2="410.40" y2="551.00" stroke="#000" stroke-width="1.15"/>
<text x="406.2" y="553.268" font-size="6.3" text-anchor="end" font-weight="bold" fill="#000">0</text>
<line x1="407.00" y1="533.50" x2="410.40" y2="533.50" stroke="#000" stroke-width="1.15"/>
<text x="406.2" y="535.768" font-size="6.3" text-anchor="end" font-weight="bold" fill="#000">5</text>
<line x1="407.00" y1="516.00" x2="410.40" y2="516.00" stroke="#000" stroke-width="1.15"/>
<text x="406.2" y="518.268" font-size="6.3" text-anchor="end" font-weight="bold" fill="#000">10</text>
<line x1="407.00" y1="498.50" x2="410.40" y2="498.50" stroke="#000" stroke-width="1.15"/>
<text x="406.2" y="500.768" font-size="6.3" text-anchor="end" font-weight="bold" fill="#000">15</text>
<line x1="407.00" y1="481.00" x2="410.40" y2="481.00" stroke="#000" stroke-width="1.15"/>
<text x="406.2" y="483.268" font-size="6.3" text-anchor="end" font-weight="bold" fill="#000">20</text>
<line x1="407.00" y1="463.50" x2="410.40" y2="463.50" stroke="#000" stroke-width="1.15"/>
<text x="406.2" y="465.768" font-size="6.3" text-anchor="end" font-weight="bold" fill="#000">25</text>
<line x1="410.40" y1="551.00" x2="410.40" y2="554.40" stroke="#000" stroke-width="1.15"/>
<text x="410.4" y="562.485" font-size="6.3" text-anchor="middle" font-weight="bold" fill="#000">0</text>
<line x1="454.03" y1="551.00" x2="454.03" y2="554.40" stroke="#000" stroke-width="1.15"/>
<text x="454.03" y="562.485" font-size="6.3" text-anchor="middle" font-weight="bold" fill="#000">100</text>
<line x1="497.66" y1="551.00" x2="497.66" y2="554.40" stroke="#000" stroke-width="1.15"/>
<text x="497.65999999999997" y="562.485" font-size="6.3" text-anchor="middle" font-weight="bold" fill="#000">200</text>
<line x1="541.29" y1="551.00" x2="541.29" y2="554.40" stroke="#000" stroke-width="1.15"/>
<text x="541.29" y="562.485" font-size="6.3" text-anchor="middle" font-weight="bold" fill="#000">300</text>
<line x1="419.60" y1="521.90" x2="533.60" y2="500.10" stroke="#f53a3a" stroke-width="1.25"/>
<circle cx="419.13" cy="481.35" r="1.8" fill="none" stroke="#f53a3a" stroke-width="1.25"/>
<circle cx="422.40" cy="524.75" r="1.8" fill="none" stroke="#f53a3a" stroke-width="1.25"/>
<circle cx="423.05" cy="531.40" r="1.8" fill="none" stroke="#f53a3a" stroke-width="1.25"/>
<circle cx="427.42" cy="511.10" r="1.8" fill="none" stroke="#f53a3a" stroke-width="1.25"/>
<circle cx="430.47" cy="532.80" r="1.8" fill="none" stroke="#f53a3a" stroke-width="1.25"/>
<circle cx="432.21" cy="518.10" r="1.8" fill="none" stroke="#f53a3a" stroke-width="1.25"/>
<circle cx="440.94" cy="531.75" r="1.8" fill="none" stroke="#f53a3a" stroke-width="1.25"/>
<circle cx="444.87" cy="520.55" r="1.8" fill="none" stroke="#f53a3a" stroke-width="1.25"/>
<circle cx="449.93" cy="514.95" r="1.8" fill="none" stroke="#f53a3a" stroke-width="1.25"/>
<circle cx="451.41" cy="528.25" r="1.8" fill="none" stroke="#f53a3a" stroke-width="1.25"/>
<circle cx="460.84" cy="528.25" r="1.8" fill="none" stroke="#f53a3a" stroke-width="1.25"/>
<circle cx="461.88" cy="511.62" r="1.8" fill="none" stroke="#f53a3a" stroke-width="1.25"/>
<circle cx="463.85" cy="515.30" r="1.8" fill="none" stroke="#f53a3a" stroke-width="1.25"/>
<circle cx="464.50" cy="515.30" r="1.8" fill="none" stroke="#f53a3a" stroke-width="1.25"/>
<circle cx="485.01" cy="519.85" r="1.8" fill="none" stroke="#f53a3a" stroke-width="1.25"/>
<circle cx="488.06" cy="501.30" r="1.8" fill="none" stroke="#f53a3a" stroke-width="1.25"/>
<circle cx="490.02" cy="497.80" r="1.8" fill="none" stroke="#f53a3a" stroke-width="1.25"/>
<circle cx="500.28" cy="500.25" r="1.8" fill="none" stroke="#f53a3a" stroke-width="1.25"/>
<circle cx="510.31" cy="515.30" r="1.8" fill="none" stroke="#f53a3a" stroke-width="1.25"/>
<circle cx="512.39" cy="500.25" r="1.8" fill="none" stroke="#f53a3a" stroke-width="1.25"/>
<circle cx="513.37" cy="493.95" r="1.8" fill="none" stroke="#f53a3a" stroke-width="1.25"/>
<circle cx="522.75" cy="493.95" r="1.8" fill="none" stroke="#f53a3a" stroke-width="1.25"/>
<circle cx="533.00" cy="507.95" r="1.8" fill="none" stroke="#f53a3a" stroke-width="1.25"/>
<text x="419.6" y="459.7" font-size="7.6" font-weight="bold"><tspan font-style="italic">r</tspan> = 0.4851</text>
<text x="419.6" y="468.6" font-size="7.6" font-weight="bold"><tspan font-style="italic">P</tspan> = 0.0190</text>
<text x="395.2" y="506.3" font-size="7.7" text-anchor="middle" font-weight="bold" fill="#000" transform="rotate(-90 395.2 506.3)">sEV PD-L1 (ng/ml)</text>
<text x="476.9" y="572.5" font-size="7.5" text-anchor="middle" font-weight="bold" fill="#000">H-score of HRS</text>
</g>
</svg></body></html>
